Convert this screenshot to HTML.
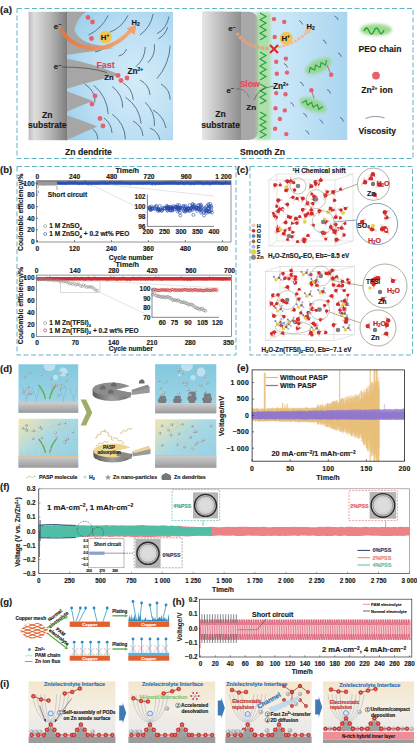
<!DOCTYPE html>
<html><head><meta charset="utf-8"><style>
html,body{margin:0;padding:0;background:#fff;}
svg{display:block;font-family:"Liberation Sans", sans-serif;}
</style></head><body>
<svg width="417" height="743" viewBox="0 0 417 743">

<defs>
<radialGradient id="blueA" cx="0.65" cy="0.55" r="0.75">
 <stop offset="0" stop-color="#d4ecf9"/><stop offset="0.55" stop-color="#bde0f4"/><stop offset="1" stop-color="#9ccfec"/>
</radialGradient>
<linearGradient id="grayA" x1="0" x2="1" y1="0" y2="0">
 <stop offset="0" stop-color="#bcbcbc"/><stop offset="0.15" stop-color="#dedede"/><stop offset="0.6" stop-color="#b2b2b2"/><stop offset="0.9" stop-color="#8c8c8c"/><stop offset="1" stop-color="#7c7c7c"/>
</linearGradient>
<linearGradient id="blueB" x1="0" x2="1" y1="0" y2="0">
 <stop offset="0" stop-color="#d4edfa"/><stop offset="0.45" stop-color="#c4e4f6"/><stop offset="1" stop-color="#aad5ef"/>
</linearGradient>
<linearGradient id="grayB" x1="0" x2="1" y1="0" y2="0">
 <stop offset="0" stop-color="#e6e6e6"/><stop offset="1" stop-color="#8e8e8e"/>
</linearGradient>
<clipPath id="clipA"><rect x="66" y="11.8" width="107" height="128.4"/></clipPath>
<linearGradient id="orgA" x1="0" x2="1" y1="0" y2="0"><stop offset="0" stop-color="#e07840"/><stop offset="1" stop-color="#f4a878"/></linearGradient>
<linearGradient id="dblue" x1="0" x2="0" y1="0" y2="1"><stop offset="0" stop-color="#82c8de"/><stop offset="1" stop-color="#a2d8e8"/></linearGradient>
<linearGradient id="dyel" x1="0" x2="1" y1="0" y2="1"><stop offset="0" stop-color="#f2e6b0"/><stop offset="0.45" stop-color="#a8d8e4"/><stop offset="1" stop-color="#90cfe2"/></linearGradient>
<linearGradient id="dgray" x1="0" x2="0" y1="0" y2="1"><stop offset="0" stop-color="#cfcfcf"/><stop offset="1" stop-color="#9a9a9a"/></linearGradient>
<linearGradient id="dside" x1="0" x2="1" y1="0" y2="0"><stop offset="0" stop-color="#5a5a5a"/><stop offset="0.5" stop-color="#a0a0a0"/><stop offset="1" stop-color="#6a6a6a"/></linearGradient>
<clipPath id="clipMesh"><path d="M19.8 631 L26 624 L40 623 L48 629.5 L42 638 L27 638.5 Z"/></clipPath>
<linearGradient id="ibg" x1="0" x2="0" y1="0" y2="1"><stop offset="0" stop-color="#f3e6cc"/><stop offset="0.45" stop-color="#f4eee4"/><stop offset="1" stop-color="#e4e7ec"/></linearGradient>
<filter id="blur1" x="-50%" y="-50%" width="200%" height="200%"><feGaussianBlur stdDeviation="1.5"/></filter>
</defs>

<rect width="417" height="743" fill="#fff"/>
<g id="pa">
<text x="0" y="12.6" font-size="9.8" text-anchor="start" font-weight="bold" fill="#1a1a1a" stroke="#1a1a1a" stroke-width="0.15" >(a)</text>
<rect x="17" y="8.5" width="396" height="150" fill="none" stroke="#62b3c6" stroke-width="1" stroke-dasharray="5 2.5"/>
<rect x="66" y="11.8" width="107" height="128.4" fill="url(#blueA)"/>
<path d="M66 11.8 L86 11.8 Q77 18 74.3 30 Q78 40 92 44 Q104 46.5 114 48 Q96 51 80 53 L66 55 Z" fill="#a6a6a6"/>
<path d="M66 58.5 Q92 63 121 75 Q95 80 66 89 Z" fill="#a6a6a6"/>
<path d="M66 91 Q80 96 93 101 Q82 105 66 112 Z" fill="#a6a6a6"/>
<path d="M66 115 Q84 121 97 126.5 Q85 132 66 140.2 Z" fill="#a6a6a6"/>
<rect x="28.6" y="11.8" width="38.4" height="128.4" fill="url(#grayA)"/>
<g clip-path="url(#clipA)">
<path d="M88.4 35.1 Q101.8 28.7 108.2 15.3" stroke="#3e5070" stroke-width="0.75" fill="none"/>
<path d="M109.5 32.4 Q122.1 27.5 128 15.3" stroke="#3e5070" stroke-width="0.75" fill="none"/>
<path d="M139.9 35.1 Q150.7 27.2 153.1 14" stroke="#3e5070" stroke-width="0.75" fill="none"/>
<path d="M157 33.7 Q167.1 28.0 168.9 16.6" stroke="#3e5070" stroke-width="0.75" fill="none"/>
<path d="M118.5 56 Q124.5 54.8 126.5 49" stroke="#3e5070" stroke-width="0.75" fill="none"/>
<path d="M135.9 66.7 Q145.1 58.9 145.2 46.9" stroke="#3e5070" stroke-width="0.75" fill="none"/>
<path d="M147.8 62.8 Q155.8 55.2 154.4 44.3" stroke="#3e5070" stroke-width="0.75" fill="none"/>
<path d="M157 78.6 Q169.2 64.3 170.2 45.6" stroke="#3e5070" stroke-width="0.75" fill="none"/>
<path d="M158.3 39 Q165.3 35.0 167.6 27.2" stroke="#3e5070" stroke-width="0.75" fill="none"/>
<path d="M95 52 Q102.1 51.0 106 45" stroke="#3e5070" stroke-width="0.75" fill="none"/>
<path d="M84.5 83.9 Q95.0 90.1 95 102.3" stroke="#3e5070" stroke-width="0.75" fill="none"/>
<path d="M93.7 85.2 Q107.2 96.6 108.2 114.2" stroke="#3e5070" stroke-width="0.75" fill="none"/>
<path d="M112.2 86.5 Q122.8 94.4 122.7 107.6" stroke="#3e5070" stroke-width="0.75" fill="none"/>
<path d="M122.7 82.6 Q132.2 88.5 133.3 99.7" stroke="#3e5070" stroke-width="0.75" fill="none"/>
<path d="M125.4 97.1 Q139.3 106.7 141.2 123.5" stroke="#3e5070" stroke-width="0.75" fill="none"/>
<path d="M112.2 114.2 Q125.0 123.5 125.4 139.3" stroke="#3e5070" stroke-width="0.75" fill="none"/>
<path d="M145.2 102.3 Q155.4 112.0 154.4 126.1" stroke="#3e5070" stroke-width="0.75" fill="none"/>
<path d="M153 110 Q163.6 116.1 166 128" stroke="#3e5070" stroke-width="0.75" fill="none"/>
<path d="M92.4 128.7 Q97.7 132.7 97.7 139.3" stroke="#3e5070" stroke-width="0.75" fill="none"/>
<path d="M133 121 Q142.2 125.7 143 136" stroke="#3e5070" stroke-width="0.75" fill="none"/>
<path d="M150 128 Q158.1 131.4 160 140" stroke="#3e5070" stroke-width="0.75" fill="none"/>
<path d="M161 83.9 Q169.9 89.3 170.2 99.7" stroke="#3e5070" stroke-width="0.75" fill="none"/>
<path d="M104 118 Q111.5 123.6 112 133" stroke="#3e5070" stroke-width="0.75" fill="none"/>
<path d="M140 80 Q149.2 84.7 150 95" stroke="#3e5070" stroke-width="0.75" fill="none"/>
</g>
<path d="M61.5 29 Q68 45 92 48.5 Q115 49 131 30" stroke="url(#orgA)" stroke-width="3.8" fill="none"/>
<path d="M126.5 28.5 L136.5 24.5 L134.5 35 Z" fill="#f0a070"/>
<circle cx="105.6" cy="37" r="6.3" fill="#f3c452"/>
<text x="100.8" y="39.8" font-size="7.8" text-anchor="start" font-weight="bold" fill="#1a1a1a" stroke="#1a1a1a" stroke-width="0.15" >H<tspan dy="-2.6" font-size="4.8">+</tspan><tspan dy="2.6"> </tspan></text>
<text x="131.4" y="24.6" font-size="7.6" text-anchor="start" font-weight="bold" fill="#1a1a1a" stroke="#1a1a1a" stroke-width="0.15" >H<tspan dy="1.6" font-size="5">2</tspan></text>
<text x="53.8" y="29" font-size="7.8" text-anchor="start" font-weight="bold" fill="#1a1a1a" stroke="#1a1a1a" stroke-width="0.15" >e<tspan dy="-2.6" font-size="5.2">−</tspan><tspan dy="2.6"> </tspan></text>
<text x="53.8" y="69.2" font-size="7.8" text-anchor="start" font-weight="bold" fill="#1a1a1a" stroke="#1a1a1a" stroke-width="0.15" >e<tspan dy="-2.6" font-size="5.2">−</tspan><tspan dy="2.6"> </tspan></text>
<path d="M62 67 Q90 67 107 72.5" stroke="#333" stroke-width="0.6" fill="none"/>
<text x="96.4" y="67.9" font-size="8.9" text-anchor="start" font-weight="bold" fill="#e2405e" stroke="#e2405e" stroke-width="0.15" >Fast</text>
<text x="104.3" y="79.7" font-size="7.6" text-anchor="start" font-weight="bold" fill="#1a1a1a" stroke="#1a1a1a" stroke-width="0.15" >Zn</text>
<text x="127.4" y="73.8" font-size="8.2" text-anchor="start" font-weight="bold" fill="#1a1a1a" stroke="#1a1a1a" stroke-width="0.15" >Zn<tspan dy="-2.8" font-size="5">2+</tspan><tspan dy="2.8"> </tspan></text>
<circle cx="88" cy="17.5" r="2.4" fill="#e8606a"/>
<circle cx="92.5" cy="22" r="2.4" fill="#e8606a"/>
<circle cx="91.5" cy="38.5" r="2.4" fill="#e8606a"/>
<circle cx="118" cy="75.5" r="2.4" fill="#e8606a"/>
<circle cx="121" cy="80.5" r="2.4" fill="#e8606a"/>
<circle cx="127" cy="78" r="2.4" fill="#e8606a"/>
<circle cx="95" cy="96" r="2.4" fill="#e8606a"/>
<circle cx="92" cy="104" r="2.4" fill="#e8606a"/>
<circle cx="100" cy="118.5" r="2.4" fill="#e8606a"/>
<circle cx="103" cy="126" r="2.4" fill="#e8606a"/>
<text x="47.3" y="117.8" font-size="8.6" text-anchor="middle" font-weight="bold" fill="#1a1a1a" stroke="#1a1a1a" stroke-width="0.15" >Zn</text>
<text x="47.3" y="128.4" font-size="8.6" text-anchor="middle" font-weight="bold" fill="#1a1a1a" stroke="#1a1a1a" stroke-width="0.15" >substrate</text>
<text x="88.5" y="154.7" font-size="8.6" text-anchor="middle" font-weight="bold" fill="#1a1a1a" stroke="#1a1a1a" stroke-width="0.15" >Zn dendrite</text>
<rect x="252" y="11.8" width="95.3" height="128.2" fill="url(#blueB)"/>
<path d="M202 11.8 L250 11.8 Q258.5 13 258.5 25 L258.5 128 Q258.5 140 248 140 L202 140 Z" fill="#a8a8a8"/>
<rect x="202" y="11.8" width="39" height="128.2" fill="url(#grayB)"/>
<rect x="256.5" y="12.5" width="14" height="127" fill="#a6dc96" opacity="0.8" filter="url(#blur1)"/>
<path d="M260 13 L266 16.4 L260 19.8 L266 23.1 L260 26.5 L266 29.9 L260 33.2 L266 36.6 L260 40.0" stroke="#22a040" stroke-width="1.1" fill="none"/>
<path d="M260 52 L266 55.5 L260 59.0 L266 62.5 L260 66.0 L266 69.5 L260 73.0 L266 76.5 L260 80.0" stroke="#22a040" stroke-width="1.1" fill="none"/>
<path d="M260 84 L266 87.3 L260 90.7 L266 94.0 L260 97.3 L266 100.7 L260 104.0" stroke="#22a040" stroke-width="1.1" fill="none"/>
<path d="M260 112 L266 115.2 L260 118.5 L266 121.8 L260 125.0 L266 128.2 L260 131.5 L266 134.8 L260 138.0" stroke="#22a040" stroke-width="1.1" fill="none"/>
<circle cx="274" cy="19.1" r="2.2" fill="#e8606a"/>
<circle cx="284.2" cy="21.9" r="2.2" fill="#e8606a"/>
<circle cx="274.7" cy="37" r="2.2" fill="#e8606a"/>
<circle cx="276.2" cy="61.8" r="2.2" fill="#e8606a"/>
<circle cx="285.9" cy="58.6" r="2.2" fill="#e8606a"/>
<circle cx="276.8" cy="73.7" r="2.2" fill="#e8606a"/>
<circle cx="287" cy="72.6" r="2.2" fill="#e8606a"/>
<circle cx="276.2" cy="93.1" r="2.2" fill="#e8606a"/>
<circle cx="285.5" cy="94.2" r="2.2" fill="#e8606a"/>
<circle cx="275.5" cy="108.2" r="2.2" fill="#e8606a"/>
<circle cx="284.8" cy="110.4" r="2.2" fill="#e8606a"/>
<circle cx="279.9" cy="119" r="2.2" fill="#e8606a"/>
<circle cx="275.1" cy="128.7" r="2.2" fill="#e8606a"/>
<circle cx="286.3" cy="134.1" r="2.2" fill="#e8606a"/>
<path d="M299 20.5 q2.5 0.5 3.5 4" stroke="#3e5070" stroke-width="0.75" fill="none"/>
<path d="M334.6 16.1 q2.5 0.5 3.5 4" stroke="#3e5070" stroke-width="0.75" fill="none"/>
<path d="M322.8 39.9 q2.5 0.5 3.5 4" stroke="#3e5070" stroke-width="0.75" fill="none"/>
<path d="M337.9 52.8 q2.5 0.5 3.5 4" stroke="#3e5070" stroke-width="0.75" fill="none"/>
<path d="M283.9 63.5 q2.5 0.5 3.5 4" stroke="#3e5070" stroke-width="0.75" fill="none"/>
<path d="M300 82.0 q2.5 0.5 3.5 4" stroke="#3e5070" stroke-width="0.75" fill="none"/>
<path d="M327 89.5 q2.5 0.5 3.5 4" stroke="#3e5070" stroke-width="0.75" fill="none"/>
<path d="M290.4 102.5 q2.5 0.5 3.5 4" stroke="#3e5070" stroke-width="0.75" fill="none"/>
<path d="M303.3 113.3 q2.5 0.5 3.5 4" stroke="#3e5070" stroke-width="0.75" fill="none"/>
<path d="M319.5 119.7 q2.5 0.5 3.5 4" stroke="#3e5070" stroke-width="0.75" fill="none"/>
<path d="M340 117.5 q2.5 0.5 3.5 4" stroke="#3e5070" stroke-width="0.75" fill="none"/>
<path d="M305.5 130.5 q2.5 0.5 3.5 4" stroke="#3e5070" stroke-width="0.75" fill="none"/>
<g transform="translate(318.3 66.1) rotate(-25)"><ellipse cx="0" cy="0" rx="14" ry="6.5" fill="#8fd47e" opacity="0.8" filter="url(#blur1)"/><path d="M-11 2 l3 -4 l3 4 l3 -4 l3 4 l3 -4 l3 4 l3 -4" stroke="#22a040" stroke-width="1.1" fill="none"/></g>
<g transform="translate(312.9 105) rotate(20)"><ellipse cx="0" cy="0" rx="14" ry="6.5" fill="#8fd47e" opacity="0.8" filter="url(#blur1)"/><path d="M-11 2 l3 -4 l3 4 l3 -4 l3 4 l3 -4 l3 4 l3 -4" stroke="#22a040" stroke-width="1.1" fill="none"/></g>
<path d="M327 65 L331.2 74.8 M314 98 L311.4 90.3" stroke="#d03040" stroke-width="0.7"/>
<circle cx="331.2" cy="74.8" r="2.2" fill="#e8606a"/><circle cx="311.4" cy="90.3" r="2.2" fill="#e8606a"/>
<path d="M237 33 Q246 48 270 48.5" stroke="#f0a070" stroke-width="3" fill="none" stroke-dasharray="3 1.2"/>
<path d="M278 47 Q296 44 308 31" stroke="#f5b898" stroke-width="2.6" fill="none" stroke-dasharray="3 1.2"/>
<path d="M304 31 L311 26 L310 34 Z" fill="#f5b898"/>
<path d="M270 45 l8 8 M278 45 l-8 8" stroke="#e02a2a" stroke-width="2.2"/>
<circle cx="286.2" cy="38.2" r="6.4" fill="#f3c452"/>
<text x="281.4" y="41" font-size="7.8" text-anchor="start" font-weight="bold" fill="#1a1a1a" stroke="#1a1a1a" stroke-width="0.15" >H<tspan dy="-2.6" font-size="4.8">+</tspan><tspan dy="2.6"> </tspan></text>
<text x="306.4" y="28.6" font-size="7.6" text-anchor="start" font-weight="bold" fill="#1a1a1a" stroke="#1a1a1a" stroke-width="0.15" >H<tspan dy="1.6" font-size="5">2</tspan></text>
<text x="228.2" y="31.2" font-size="7.8" text-anchor="start" font-weight="bold" fill="#1a1a1a" stroke="#1a1a1a" stroke-width="0.15" >e<tspan dy="-2.6" font-size="5.2">−</tspan><tspan dy="2.6"> </tspan></text>
<text x="226.5" y="93" font-size="7.8" text-anchor="start" font-weight="bold" fill="#1a1a1a" stroke="#1a1a1a" stroke-width="0.15" >e<tspan dy="-2.6" font-size="5.2">−</tspan><tspan dy="2.6"> </tspan></text>
<path d="M236 89 Q246 88 249 98" stroke="#333" stroke-width="0.5" fill="none" stroke-dasharray="1 0.6"/>
<path d="M274 86 Q258 88 254 100" stroke="#333" stroke-width="0.5" fill="none"/>
<text x="239.4" y="87" font-size="8.8" text-anchor="start" font-weight="bold" fill="#e8485e" stroke="#e8485e" stroke-width="0.15" >Slow</text>
<text x="273" y="88.7" font-size="8.2" text-anchor="start" font-weight="bold" fill="#1a1a1a" stroke="#1a1a1a" stroke-width="0.15" >Zn<tspan dy="-2.8" font-size="5">2+</tspan><tspan dy="2.8"> </tspan></text>
<text x="246.3" y="109.8" font-size="8" text-anchor="start" font-weight="bold" fill="#1a1a1a" stroke="#1a1a1a" stroke-width="0.15" >Zn</text>
<text x="220.6" y="117.4" font-size="8.6" text-anchor="middle" font-weight="bold" fill="#1a1a1a" stroke="#1a1a1a" stroke-width="0.15" >Zn</text>
<text x="220.6" y="128.2" font-size="8.6" text-anchor="middle" font-weight="bold" fill="#1a1a1a" stroke="#1a1a1a" stroke-width="0.15" >substrate</text>
<text x="262.5" y="154.7" font-size="8.6" text-anchor="middle" font-weight="bold" fill="#1a1a1a" stroke="#1a1a1a" stroke-width="0.15" >Smooth Zn</text>
<ellipse cx="376" cy="29.8" rx="16" ry="6" fill="#8fd47e" opacity="0.85" filter="url(#blur1)"/>
<path d="M364 31 q2.5 -6 5 0 t5 0 t5 0 t5 -1" stroke="#22a040" stroke-width="1.3" fill="none"/>
<text x="379.9" y="52.2" font-size="8.6" text-anchor="middle" font-weight="bold" fill="#1a1a1a" stroke="#1a1a1a" stroke-width="0.15" >PEO chain</text>
<circle cx="376" cy="75.6" r="3.9" fill="#e8606a"/>
<text x="377" y="93" font-size="8.6" text-anchor="middle" font-weight="bold" fill="#1a1a1a" stroke="#1a1a1a" stroke-width="0.15" >Zn<tspan dy="-2.8" font-size="5">2+</tspan><tspan dy="2.8"> </tspan>ion</text>
<path d="M365.5 118.5 Q375 114.5 384.6 118" stroke="#5a6a85" stroke-width="0.7" fill="none"/>
<text x="377.3" y="133.6" font-size="8.6" text-anchor="middle" font-weight="bold" fill="#1a1a1a" stroke="#1a1a1a" stroke-width="0.15" >Viscosity</text>
</g>
<g id="pb">
<text x="0" y="172.5" font-size="9.5" text-anchor="start" font-weight="bold" fill="#1a1a1a" stroke="#1a1a1a" stroke-width="0.15" >(b)</text>
<rect x="17" y="166.5" width="219" height="188.5" fill="none" stroke="#62b3c6" stroke-width="1" stroke-dasharray="5 2.5"/>
<rect x="37" y="181.2" width="194" height="3.6" fill="#2f55b8"/>
<circle cx="37.0" cy="182.9" r="1.1" fill="none" stroke="#2346a8" stroke-width="0.5"/>
<circle cx="40.2" cy="183.1" r="1.1" fill="none" stroke="#2346a8" stroke-width="0.5"/>
<circle cx="43.4" cy="184.0" r="1.1" fill="none" stroke="#2346a8" stroke-width="0.5"/>
<circle cx="46.6" cy="182.9" r="1.1" fill="none" stroke="#2346a8" stroke-width="0.5"/>
<circle cx="49.8" cy="183.0" r="1.1" fill="none" stroke="#2346a8" stroke-width="0.5"/>
<circle cx="53.0" cy="183.2" r="1.1" fill="none" stroke="#2346a8" stroke-width="0.5"/>
<circle cx="56.2" cy="182.2" r="1.1" fill="none" stroke="#2346a8" stroke-width="0.5"/>
<circle cx="59.4" cy="183.0" r="1.1" fill="none" stroke="#2346a8" stroke-width="0.5"/>
<circle cx="62.6" cy="183.3" r="1.1" fill="none" stroke="#2346a8" stroke-width="0.5"/>
<circle cx="65.8" cy="183.7" r="1.1" fill="none" stroke="#2346a8" stroke-width="0.5"/>
<circle cx="69.0" cy="182.0" r="1.1" fill="none" stroke="#2346a8" stroke-width="0.5"/>
<circle cx="72.2" cy="182.5" r="1.1" fill="none" stroke="#2346a8" stroke-width="0.5"/>
<circle cx="75.4" cy="182.0" r="1.1" fill="none" stroke="#2346a8" stroke-width="0.5"/>
<circle cx="78.6" cy="183.7" r="1.1" fill="none" stroke="#2346a8" stroke-width="0.5"/>
<circle cx="81.8" cy="183.5" r="1.1" fill="none" stroke="#2346a8" stroke-width="0.5"/>
<circle cx="85.0" cy="181.9" r="1.1" fill="none" stroke="#2346a8" stroke-width="0.5"/>
<circle cx="88.2" cy="184.2" r="1.1" fill="none" stroke="#2346a8" stroke-width="0.5"/>
<circle cx="91.4" cy="184.1" r="1.1" fill="none" stroke="#2346a8" stroke-width="0.5"/>
<circle cx="94.6" cy="183.4" r="1.1" fill="none" stroke="#2346a8" stroke-width="0.5"/>
<circle cx="97.8" cy="183.3" r="1.1" fill="none" stroke="#2346a8" stroke-width="0.5"/>
<circle cx="101.0" cy="182.2" r="1.1" fill="none" stroke="#2346a8" stroke-width="0.5"/>
<circle cx="104.2" cy="181.8" r="1.1" fill="none" stroke="#2346a8" stroke-width="0.5"/>
<circle cx="107.4" cy="183.1" r="1.1" fill="none" stroke="#2346a8" stroke-width="0.5"/>
<circle cx="110.6" cy="181.9" r="1.1" fill="none" stroke="#2346a8" stroke-width="0.5"/>
<circle cx="113.8" cy="182.3" r="1.1" fill="none" stroke="#2346a8" stroke-width="0.5"/>
<circle cx="117.0" cy="182.4" r="1.1" fill="none" stroke="#2346a8" stroke-width="0.5"/>
<circle cx="120.2" cy="181.9" r="1.1" fill="none" stroke="#2346a8" stroke-width="0.5"/>
<circle cx="123.4" cy="182.9" r="1.1" fill="none" stroke="#2346a8" stroke-width="0.5"/>
<circle cx="126.6" cy="182.9" r="1.1" fill="none" stroke="#2346a8" stroke-width="0.5"/>
<circle cx="129.8" cy="183.8" r="1.1" fill="none" stroke="#2346a8" stroke-width="0.5"/>
<circle cx="133.0" cy="183.0" r="1.1" fill="none" stroke="#2346a8" stroke-width="0.5"/>
<circle cx="136.2" cy="183.3" r="1.1" fill="none" stroke="#2346a8" stroke-width="0.5"/>
<circle cx="139.4" cy="183.0" r="1.1" fill="none" stroke="#2346a8" stroke-width="0.5"/>
<circle cx="142.6" cy="183.4" r="1.1" fill="none" stroke="#2346a8" stroke-width="0.5"/>
<circle cx="145.8" cy="182.9" r="1.1" fill="none" stroke="#2346a8" stroke-width="0.5"/>
<circle cx="149.0" cy="182.5" r="1.1" fill="none" stroke="#2346a8" stroke-width="0.5"/>
<circle cx="152.2" cy="184.2" r="1.1" fill="none" stroke="#2346a8" stroke-width="0.5"/>
<circle cx="155.4" cy="184.2" r="1.1" fill="none" stroke="#2346a8" stroke-width="0.5"/>
<circle cx="158.6" cy="183.8" r="1.1" fill="none" stroke="#2346a8" stroke-width="0.5"/>
<circle cx="161.8" cy="183.5" r="1.1" fill="none" stroke="#2346a8" stroke-width="0.5"/>
<circle cx="165.0" cy="182.6" r="1.1" fill="none" stroke="#2346a8" stroke-width="0.5"/>
<circle cx="168.2" cy="182.4" r="1.1" fill="none" stroke="#2346a8" stroke-width="0.5"/>
<circle cx="171.4" cy="182.5" r="1.1" fill="none" stroke="#2346a8" stroke-width="0.5"/>
<circle cx="174.6" cy="182.0" r="1.1" fill="none" stroke="#2346a8" stroke-width="0.5"/>
<circle cx="177.8" cy="183.6" r="1.1" fill="none" stroke="#2346a8" stroke-width="0.5"/>
<circle cx="181.0" cy="182.8" r="1.1" fill="none" stroke="#2346a8" stroke-width="0.5"/>
<circle cx="184.2" cy="183.8" r="1.1" fill="none" stroke="#2346a8" stroke-width="0.5"/>
<circle cx="187.4" cy="182.7" r="1.1" fill="none" stroke="#2346a8" stroke-width="0.5"/>
<circle cx="190.6" cy="184.1" r="1.1" fill="none" stroke="#2346a8" stroke-width="0.5"/>
<circle cx="193.8" cy="183.8" r="1.1" fill="none" stroke="#2346a8" stroke-width="0.5"/>
<circle cx="197.0" cy="181.8" r="1.1" fill="none" stroke="#2346a8" stroke-width="0.5"/>
<circle cx="200.2" cy="182.3" r="1.1" fill="none" stroke="#2346a8" stroke-width="0.5"/>
<circle cx="203.4" cy="184.0" r="1.1" fill="none" stroke="#2346a8" stroke-width="0.5"/>
<circle cx="206.6" cy="182.9" r="1.1" fill="none" stroke="#2346a8" stroke-width="0.5"/>
<circle cx="209.8" cy="184.2" r="1.1" fill="none" stroke="#2346a8" stroke-width="0.5"/>
<circle cx="213.0" cy="182.8" r="1.1" fill="none" stroke="#2346a8" stroke-width="0.5"/>
<circle cx="216.2" cy="182.0" r="1.1" fill="none" stroke="#2346a8" stroke-width="0.5"/>
<circle cx="219.4" cy="183.3" r="1.1" fill="none" stroke="#2346a8" stroke-width="0.5"/>
<circle cx="222.6" cy="183.7" r="1.1" fill="none" stroke="#2346a8" stroke-width="0.5"/>
<circle cx="225.8" cy="182.4" r="1.1" fill="none" stroke="#2346a8" stroke-width="0.5"/>
<rect x="37" y="181.5" width="20" height="4" fill="#9a9a9a"/>
<circle cx="37.5" cy="192" r="1.2" fill="none" stroke="#3a5ab8" stroke-width="0.5"/>
<circle cx="37.5" cy="187" r="1.1" fill="none" stroke="#888" stroke-width="0.5"/>
<path d="M92 185 L147 212 M111 185 L214 196" stroke="#c8c8c8" stroke-width="0.5" fill="none"/>
<rect x="36.5" y="180.7" width="194.5" height="61.30000000000001" fill="none" stroke="#666" stroke-width="0.7"/>
<text x="34.6" y="185.90000000000003" font-size="6.6" text-anchor="end" font-weight="bold" fill="#1a1a1a" stroke="#1a1a1a" stroke-width="0.15" >100</text>
<line x1="36" y1="183.6" x2="38" y2="183.6" stroke="#333" stroke-width="0.6"/>
<text x="34.6" y="197.46000000000004" font-size="6.6" text-anchor="end" font-weight="bold" fill="#1a1a1a" stroke="#1a1a1a" stroke-width="0.15" >80</text>
<line x1="36" y1="195.2" x2="38" y2="195.2" stroke="#333" stroke-width="0.6"/>
<text x="34.6" y="209.02" font-size="6.6" text-anchor="end" font-weight="bold" fill="#1a1a1a" stroke="#1a1a1a" stroke-width="0.15" >60</text>
<line x1="36" y1="206.7" x2="38" y2="206.7" stroke="#333" stroke-width="0.6"/>
<text x="34.6" y="220.58" font-size="6.6" text-anchor="end" font-weight="bold" fill="#1a1a1a" stroke="#1a1a1a" stroke-width="0.15" >40</text>
<line x1="36" y1="218.3" x2="38" y2="218.3" stroke="#333" stroke-width="0.6"/>
<text x="34.6" y="232.14000000000001" font-size="6.6" text-anchor="end" font-weight="bold" fill="#1a1a1a" stroke="#1a1a1a" stroke-width="0.15" >20</text>
<line x1="36" y1="229.8" x2="38" y2="229.8" stroke="#333" stroke-width="0.6"/>
<text x="34.6" y="243.70000000000002" font-size="6.6" text-anchor="end" font-weight="bold" fill="#1a1a1a" stroke="#1a1a1a" stroke-width="0.15" >0</text>
<line x1="36" y1="241.4" x2="38" y2="241.4" stroke="#333" stroke-width="0.6"/>
<text x="37.4" y="179.4" font-size="6.6" text-anchor="middle" font-weight="bold" fill="#1a1a1a" stroke="#1a1a1a" stroke-width="0.15" >0</text>
<text x="74.6" y="179.4" font-size="6.6" text-anchor="middle" font-weight="bold" fill="#1a1a1a" stroke="#1a1a1a" stroke-width="0.15" >240</text>
<text x="111.80000000000001" y="179.4" font-size="6.6" text-anchor="middle" font-weight="bold" fill="#1a1a1a" stroke="#1a1a1a" stroke-width="0.15" >480</text>
<text x="149.0" y="179.4" font-size="6.6" text-anchor="middle" font-weight="bold" fill="#1a1a1a" stroke="#1a1a1a" stroke-width="0.15" >720</text>
<text x="186.20000000000002" y="179.4" font-size="6.6" text-anchor="middle" font-weight="bold" fill="#1a1a1a" stroke="#1a1a1a" stroke-width="0.15" >960</text>
<text x="223.4" y="179.4" font-size="6.6" text-anchor="middle" font-weight="bold" fill="#1a1a1a" stroke="#1a1a1a" stroke-width="0.15" >1 200</text>
<text x="37.4" y="251.2" font-size="6.6" text-anchor="middle" font-weight="bold" fill="#1a1a1a" stroke="#1a1a1a" stroke-width="0.15" >0</text>
<line x1="37.4" y1="242" x2="37.4" y2="240" stroke="#333" stroke-width="0.6"/>
<text x="74.4" y="251.2" font-size="6.6" text-anchor="middle" font-weight="bold" fill="#1a1a1a" stroke="#1a1a1a" stroke-width="0.15" >120</text>
<line x1="74.4" y1="242" x2="74.4" y2="240" stroke="#333" stroke-width="0.6"/>
<text x="111.4" y="251.2" font-size="6.6" text-anchor="middle" font-weight="bold" fill="#1a1a1a" stroke="#1a1a1a" stroke-width="0.15" >240</text>
<line x1="111.4" y1="242" x2="111.4" y2="240" stroke="#333" stroke-width="0.6"/>
<text x="148.4" y="251.2" font-size="6.6" text-anchor="middle" font-weight="bold" fill="#1a1a1a" stroke="#1a1a1a" stroke-width="0.15" >360</text>
<line x1="148.4" y1="242" x2="148.4" y2="240" stroke="#333" stroke-width="0.6"/>
<text x="185.4" y="251.2" font-size="6.6" text-anchor="middle" font-weight="bold" fill="#1a1a1a" stroke="#1a1a1a" stroke-width="0.15" >480</text>
<line x1="185.4" y1="242" x2="185.4" y2="240" stroke="#333" stroke-width="0.6"/>
<text x="222.4" y="251.2" font-size="6.6" text-anchor="middle" font-weight="bold" fill="#1a1a1a" stroke="#1a1a1a" stroke-width="0.15" >600</text>
<line x1="222.4" y1="242" x2="222.4" y2="240" stroke="#333" stroke-width="0.6"/>
<text x="127.3" y="173.4" font-size="7.4" text-anchor="middle" font-weight="bold" fill="#1a1a1a" stroke="#1a1a1a" stroke-width="0.15" >Time/h</text>
<text x="130.8" y="259.8" font-size="6.7" text-anchor="middle" font-weight="bold" fill="#1a1a1a" stroke="#1a1a1a" stroke-width="0.15" >Cycle number</text>
<text x="47.8" y="197" font-size="6.7" text-anchor="start" font-weight="bold" fill="#1a1a1a" stroke="#1a1a1a" stroke-width="0.15" >Short circuit</text>
<path d="M57 186 L57 190" stroke="#555" stroke-width="0.5"/>
<circle cx="45.2" cy="226.1" r="1.5" fill="none" stroke="#888" stroke-width="0.6"/>
<text x="49.2" y="228.4" font-size="6.6" text-anchor="start" font-weight="bold" fill="#1a1a1a" stroke="#1a1a1a" stroke-width="0.15" >1 M ZnSO<tspan dy="1.3" font-size="4.2">4</tspan></text>
<circle cx="45.2" cy="234" r="1.5" fill="none" stroke="#2346a8" stroke-width="0.6"/>
<text x="49.2" y="236.3" font-size="6.6" text-anchor="start" font-weight="bold" fill="#1a1a1a" stroke="#1a1a1a" stroke-width="0.15" >1 M ZnSO<tspan dy="1.3" font-size="4.2">4</tspan><tspan dy="-1.3"> + 0.2 wt% PEO</tspan></text>
<circle cx="188.2" cy="208.3" r="1.5" fill="none" stroke="#2346a8" stroke-width="0.55"/>
<circle cx="208.4" cy="204.1" r="1.5" fill="none" stroke="#2346a8" stroke-width="0.55"/>
<circle cx="195.6" cy="209.0" r="1.5" fill="none" stroke="#2346a8" stroke-width="0.55"/>
<circle cx="178.3" cy="208.3" r="1.5" fill="none" stroke="#2346a8" stroke-width="0.55"/>
<circle cx="208.4" cy="205.3" r="1.5" fill="none" stroke="#2346a8" stroke-width="0.55"/>
<circle cx="156.1" cy="205.7" r="1.5" fill="none" stroke="#2346a8" stroke-width="0.55"/>
<circle cx="178.6" cy="208.5" r="1.5" fill="none" stroke="#2346a8" stroke-width="0.55"/>
<circle cx="185.2" cy="211.6" r="1.5" fill="none" stroke="#2346a8" stroke-width="0.55"/>
<circle cx="149.8" cy="208.8" r="1.5" fill="none" stroke="#2346a8" stroke-width="0.55"/>
<circle cx="206.7" cy="210.5" r="1.5" fill="none" stroke="#2346a8" stroke-width="0.55"/>
<circle cx="197.2" cy="210.9" r="1.5" fill="none" stroke="#2346a8" stroke-width="0.55"/>
<circle cx="157.7" cy="210.9" r="1.5" fill="none" stroke="#2346a8" stroke-width="0.55"/>
<circle cx="187.9" cy="208.6" r="1.5" fill="none" stroke="#2346a8" stroke-width="0.55"/>
<circle cx="203.9" cy="208.6" r="1.5" fill="none" stroke="#2346a8" stroke-width="0.55"/>
<circle cx="162.2" cy="209.5" r="1.5" fill="none" stroke="#2346a8" stroke-width="0.55"/>
<circle cx="204.0" cy="215.4" r="1.5" fill="none" stroke="#2346a8" stroke-width="0.55"/>
<circle cx="167.2" cy="210.4" r="1.5" fill="none" stroke="#2346a8" stroke-width="0.55"/>
<circle cx="191.7" cy="207.8" r="1.5" fill="none" stroke="#2346a8" stroke-width="0.55"/>
<circle cx="161.9" cy="210.8" r="1.5" fill="none" stroke="#2346a8" stroke-width="0.55"/>
<circle cx="209.9" cy="207.1" r="1.5" fill="none" stroke="#2346a8" stroke-width="0.55"/>
<circle cx="205.3" cy="207.8" r="1.5" fill="none" stroke="#2346a8" stroke-width="0.55"/>
<circle cx="159.5" cy="209.9" r="1.5" fill="none" stroke="#2346a8" stroke-width="0.55"/>
<circle cx="158.2" cy="209.7" r="1.5" fill="none" stroke="#2346a8" stroke-width="0.55"/>
<circle cx="187.0" cy="209.3" r="1.5" fill="none" stroke="#2346a8" stroke-width="0.55"/>
<circle cx="149.2" cy="207.9" r="1.5" fill="none" stroke="#2346a8" stroke-width="0.55"/>
<circle cx="168.5" cy="207.2" r="1.5" fill="none" stroke="#2346a8" stroke-width="0.55"/>
<circle cx="200.6" cy="206.3" r="1.5" fill="none" stroke="#2346a8" stroke-width="0.55"/>
<circle cx="179.3" cy="208.7" r="1.5" fill="none" stroke="#2346a8" stroke-width="0.55"/>
<circle cx="193.4" cy="214.9" r="1.5" fill="none" stroke="#2346a8" stroke-width="0.55"/>
<circle cx="150.4" cy="210.0" r="1.5" fill="none" stroke="#2346a8" stroke-width="0.55"/>
<circle cx="196.2" cy="208.8" r="1.5" fill="none" stroke="#2346a8" stroke-width="0.55"/>
<circle cx="198.6" cy="208.1" r="1.5" fill="none" stroke="#2346a8" stroke-width="0.55"/>
<circle cx="172.1" cy="208.3" r="1.5" fill="none" stroke="#2346a8" stroke-width="0.55"/>
<circle cx="151.9" cy="208.4" r="1.5" fill="none" stroke="#2346a8" stroke-width="0.55"/>
<circle cx="160.4" cy="209.5" r="1.5" fill="none" stroke="#2346a8" stroke-width="0.55"/>
<circle cx="196.6" cy="208.0" r="1.5" fill="none" stroke="#2346a8" stroke-width="0.55"/>
<circle cx="207.6" cy="210.6" r="1.5" fill="none" stroke="#2346a8" stroke-width="0.55"/>
<circle cx="171.4" cy="208.0" r="1.5" fill="none" stroke="#2346a8" stroke-width="0.55"/>
<circle cx="182.1" cy="208.7" r="1.5" fill="none" stroke="#2346a8" stroke-width="0.55"/>
<circle cx="196.1" cy="207.3" r="1.5" fill="none" stroke="#2346a8" stroke-width="0.55"/>
<circle cx="199.2" cy="208.9" r="1.5" fill="none" stroke="#2346a8" stroke-width="0.55"/>
<circle cx="208.6" cy="208.0" r="1.5" fill="none" stroke="#2346a8" stroke-width="0.55"/>
<circle cx="154.7" cy="207.3" r="1.5" fill="none" stroke="#2346a8" stroke-width="0.55"/>
<circle cx="206.8" cy="211.4" r="1.5" fill="none" stroke="#2346a8" stroke-width="0.55"/>
<circle cx="170.4" cy="210.3" r="1.5" fill="none" stroke="#2346a8" stroke-width="0.55"/>
<circle cx="168.7" cy="207.6" r="1.5" fill="none" stroke="#2346a8" stroke-width="0.55"/>
<circle cx="169.0" cy="208.8" r="1.5" fill="none" stroke="#2346a8" stroke-width="0.55"/>
<circle cx="158.4" cy="209.1" r="1.5" fill="none" stroke="#2346a8" stroke-width="0.55"/>
<circle cx="192.4" cy="210.0" r="1.5" fill="none" stroke="#2346a8" stroke-width="0.55"/>
<circle cx="152.1" cy="208.5" r="1.5" fill="none" stroke="#2346a8" stroke-width="0.55"/>
<circle cx="211.2" cy="206.0" r="1.5" fill="none" stroke="#2346a8" stroke-width="0.55"/>
<circle cx="164.0" cy="208.2" r="1.5" fill="none" stroke="#2346a8" stroke-width="0.55"/>
<circle cx="186.4" cy="209.8" r="1.5" fill="none" stroke="#2346a8" stroke-width="0.55"/>
<circle cx="175.6" cy="206.9" r="1.5" fill="none" stroke="#2346a8" stroke-width="0.55"/>
<circle cx="152.5" cy="208.9" r="1.5" fill="none" stroke="#2346a8" stroke-width="0.55"/>
<circle cx="180.1" cy="208.2" r="1.5" fill="none" stroke="#2346a8" stroke-width="0.55"/>
<circle cx="201.8" cy="211.3" r="1.5" fill="none" stroke="#2346a8" stroke-width="0.55"/>
<circle cx="208.8" cy="211.5" r="1.5" fill="none" stroke="#2346a8" stroke-width="0.55"/>
<circle cx="188.7" cy="208.8" r="1.5" fill="none" stroke="#2346a8" stroke-width="0.55"/>
<circle cx="176.4" cy="207.8" r="1.5" fill="none" stroke="#2346a8" stroke-width="0.55"/>
<circle cx="158.4" cy="209.2" r="1.5" fill="none" stroke="#2346a8" stroke-width="0.55"/>
<circle cx="177.5" cy="207.4" r="1.5" fill="none" stroke="#2346a8" stroke-width="0.55"/>
<circle cx="212.0" cy="212.6" r="1.5" fill="none" stroke="#2346a8" stroke-width="0.55"/>
<circle cx="177.6" cy="205.0" r="1.5" fill="none" stroke="#2346a8" stroke-width="0.55"/>
<circle cx="179.8" cy="208.3" r="1.5" fill="none" stroke="#2346a8" stroke-width="0.55"/>
<circle cx="167.3" cy="206.7" r="1.5" fill="none" stroke="#2346a8" stroke-width="0.55"/>
<circle cx="174.4" cy="209.4" r="1.5" fill="none" stroke="#2346a8" stroke-width="0.55"/>
<circle cx="211.3" cy="210.4" r="1.5" fill="none" stroke="#2346a8" stroke-width="0.55"/>
<circle cx="209.5" cy="206.4" r="1.5" fill="none" stroke="#2346a8" stroke-width="0.55"/>
<circle cx="170.3" cy="207.2" r="1.5" fill="none" stroke="#2346a8" stroke-width="0.55"/>
<circle cx="154.6" cy="208.1" r="1.5" fill="none" stroke="#2346a8" stroke-width="0.55"/>
<circle cx="203.6" cy="212.8" r="1.5" fill="none" stroke="#2346a8" stroke-width="0.55"/>
<circle cx="171.8" cy="209.1" r="1.5" fill="none" stroke="#2346a8" stroke-width="0.55"/>
<circle cx="192.8" cy="204.3" r="1.5" fill="none" stroke="#2346a8" stroke-width="0.55"/>
<circle cx="190.8" cy="208.6" r="1.5" fill="none" stroke="#2346a8" stroke-width="0.55"/>
<circle cx="193.4" cy="206.1" r="1.5" fill="none" stroke="#2346a8" stroke-width="0.55"/>
<circle cx="166.7" cy="205.8" r="1.5" fill="none" stroke="#2346a8" stroke-width="0.55"/>
<circle cx="192.5" cy="208.9" r="1.5" fill="none" stroke="#2346a8" stroke-width="0.55"/>
<circle cx="167.5" cy="210.7" r="1.5" fill="none" stroke="#2346a8" stroke-width="0.55"/>
<circle cx="185.6" cy="207.3" r="1.5" fill="none" stroke="#2346a8" stroke-width="0.55"/>
<circle cx="149.7" cy="207.3" r="1.5" fill="none" stroke="#2346a8" stroke-width="0.55"/>
<circle cx="191.3" cy="207.9" r="1.5" fill="none" stroke="#2346a8" stroke-width="0.55"/>
<circle cx="178.2" cy="209.4" r="1.5" fill="none" stroke="#2346a8" stroke-width="0.55"/>
<circle cx="199.3" cy="205.2" r="1.5" fill="none" stroke="#2346a8" stroke-width="0.55"/>
<circle cx="170.9" cy="206.9" r="1.5" fill="none" stroke="#2346a8" stroke-width="0.55"/>
<circle cx="201.2" cy="205.3" r="1.5" fill="none" stroke="#2346a8" stroke-width="0.55"/>
<circle cx="171.1" cy="210.3" r="1.5" fill="none" stroke="#2346a8" stroke-width="0.55"/>
<circle cx="192.4" cy="204.3" r="1.5" fill="none" stroke="#2346a8" stroke-width="0.55"/>
<circle cx="210.5" cy="211.4" r="1.5" fill="none" stroke="#2346a8" stroke-width="0.55"/>
<circle cx="182.3" cy="207.7" r="1.5" fill="none" stroke="#2346a8" stroke-width="0.55"/>
<circle cx="159.5" cy="210.5" r="1.5" fill="none" stroke="#2346a8" stroke-width="0.55"/>
<circle cx="179.1" cy="205.3" r="1.5" fill="none" stroke="#2346a8" stroke-width="0.55"/>
<circle cx="192.6" cy="207.7" r="1.5" fill="none" stroke="#2346a8" stroke-width="0.55"/>
<circle cx="159.8" cy="206.0" r="1.5" fill="none" stroke="#2346a8" stroke-width="0.55"/>
<circle cx="198.2" cy="205.3" r="1.5" fill="none" stroke="#2346a8" stroke-width="0.55"/>
<circle cx="175.5" cy="207.3" r="1.5" fill="none" stroke="#2346a8" stroke-width="0.55"/>
<circle cx="188.3" cy="209.1" r="1.5" fill="none" stroke="#2346a8" stroke-width="0.55"/>
<circle cx="194.4" cy="205.0" r="1.5" fill="none" stroke="#2346a8" stroke-width="0.55"/>
<circle cx="150.7" cy="209.4" r="1.5" fill="none" stroke="#2346a8" stroke-width="0.55"/>
<circle cx="190.0" cy="210.8" r="1.5" fill="none" stroke="#2346a8" stroke-width="0.55"/>
<circle cx="162.8" cy="207.6" r="1.5" fill="none" stroke="#2346a8" stroke-width="0.55"/>
<circle cx="151.6" cy="206.4" r="1.5" fill="none" stroke="#2346a8" stroke-width="0.55"/>
<circle cx="178.7" cy="208.6" r="1.5" fill="none" stroke="#2346a8" stroke-width="0.55"/>
<circle cx="157.4" cy="209.0" r="1.5" fill="none" stroke="#2346a8" stroke-width="0.55"/>
<circle cx="169.0" cy="208.9" r="1.5" fill="none" stroke="#2346a8" stroke-width="0.55"/>
<circle cx="151.2" cy="209.5" r="1.5" fill="none" stroke="#2346a8" stroke-width="0.55"/>
<circle cx="178.3" cy="206.9" r="1.5" fill="none" stroke="#2346a8" stroke-width="0.55"/>
<circle cx="186.2" cy="210.8" r="1.5" fill="none" stroke="#2346a8" stroke-width="0.55"/>
<circle cx="164.0" cy="208.5" r="1.5" fill="none" stroke="#2346a8" stroke-width="0.55"/>
<circle cx="174.5" cy="208.5" r="1.5" fill="none" stroke="#2346a8" stroke-width="0.55"/>
<circle cx="166.5" cy="207.8" r="1.5" fill="none" stroke="#2346a8" stroke-width="0.55"/>
<circle cx="201.4" cy="209.2" r="1.5" fill="none" stroke="#2346a8" stroke-width="0.55"/>
<circle cx="172.6" cy="210.6" r="1.5" fill="none" stroke="#2346a8" stroke-width="0.55"/>
<circle cx="155.0" cy="209.0" r="1.5" fill="none" stroke="#2346a8" stroke-width="0.55"/>
<circle cx="183.3" cy="206.7" r="1.5" fill="none" stroke="#2346a8" stroke-width="0.55"/>
<circle cx="209.4" cy="211.3" r="1.5" fill="none" stroke="#2346a8" stroke-width="0.55"/>
<circle cx="200.6" cy="204.5" r="1.5" fill="none" stroke="#2346a8" stroke-width="0.55"/>
<circle cx="189.5" cy="210.7" r="1.5" fill="none" stroke="#2346a8" stroke-width="0.55"/>
<circle cx="172.3" cy="209.9" r="1.5" fill="none" stroke="#2346a8" stroke-width="0.55"/>
<circle cx="184.5" cy="211.1" r="1.5" fill="none" stroke="#2346a8" stroke-width="0.55"/>
<circle cx="209.3" cy="211.9" r="1.5" fill="none" stroke="#2346a8" stroke-width="0.55"/>
<circle cx="171.1" cy="208.1" r="1.5" fill="none" stroke="#2346a8" stroke-width="0.55"/>
<circle cx="205.3" cy="209.7" r="1.5" fill="none" stroke="#2346a8" stroke-width="0.55"/>
<circle cx="184.6" cy="208.5" r="1.5" fill="none" stroke="#2346a8" stroke-width="0.55"/>
<circle cx="187.8" cy="210.7" r="1.5" fill="none" stroke="#2346a8" stroke-width="0.55"/>
<circle cx="205.2" cy="211.2" r="1.5" fill="none" stroke="#2346a8" stroke-width="0.55"/>
<circle cx="172.7" cy="207.5" r="1.5" fill="none" stroke="#2346a8" stroke-width="0.55"/>
<circle cx="167.4" cy="209.0" r="1.5" fill="none" stroke="#2346a8" stroke-width="0.55"/>
<circle cx="210.3" cy="203.9" r="1.5" fill="none" stroke="#2346a8" stroke-width="0.55"/>
<circle cx="206.6" cy="212.9" r="1.5" fill="none" stroke="#2346a8" stroke-width="0.55"/>
<circle cx="186.5" cy="208.1" r="1.5" fill="none" stroke="#2346a8" stroke-width="0.55"/>
<circle cx="180.3" cy="215.5" r="1.5" fill="none" stroke="#2346a8" stroke-width="0.55"/>
<circle cx="175.2" cy="206.6" r="1.5" fill="none" stroke="#2346a8" stroke-width="0.55"/>
<circle cx="180.0" cy="212.7" r="1.5" fill="none" stroke="#2346a8" stroke-width="0.55"/>
<circle cx="167.0" cy="207.7" r="1.5" fill="none" stroke="#2346a8" stroke-width="0.55"/>
<circle cx="188.2" cy="208.7" r="1.5" fill="none" stroke="#2346a8" stroke-width="0.55"/>
<circle cx="176.9" cy="207.8" r="1.5" fill="none" stroke="#2346a8" stroke-width="0.55"/>
<circle cx="201.1" cy="212.7" r="1.5" fill="none" stroke="#2346a8" stroke-width="0.55"/>
<circle cx="149.8" cy="207.2" r="1.5" fill="none" stroke="#2346a8" stroke-width="0.55"/>
<circle cx="207.9" cy="208.1" r="1.5" fill="none" stroke="#2346a8" stroke-width="0.55"/>
<circle cx="198.3" cy="208.6" r="1.5" fill="none" stroke="#2346a8" stroke-width="0.55"/>
<circle cx="158.8" cy="209.8" r="1.5" fill="none" stroke="#2346a8" stroke-width="0.55"/>
<circle cx="211.3" cy="207.6" r="1.5" fill="none" stroke="#2346a8" stroke-width="0.55"/>
<circle cx="178.9" cy="210.6" r="1.5" fill="none" stroke="#2346a8" stroke-width="0.55"/>
<circle cx="189.6" cy="205.2" r="1.5" fill="none" stroke="#2346a8" stroke-width="0.55"/>
<circle cx="156.4" cy="206.9" r="1.5" fill="none" stroke="#2346a8" stroke-width="0.55"/>
<circle cx="196.9" cy="207.5" r="1.5" fill="none" stroke="#2346a8" stroke-width="0.55"/>
<circle cx="170.2" cy="210.4" r="1.5" fill="none" stroke="#2346a8" stroke-width="0.55"/>
<circle cx="167.7" cy="206.7" r="1.5" fill="none" stroke="#2346a8" stroke-width="0.55"/>
<circle cx="171.7" cy="208.2" r="1.5" fill="none" stroke="#2346a8" stroke-width="0.55"/>
<circle cx="195.9" cy="207.9" r="1.5" fill="none" stroke="#2346a8" stroke-width="0.55"/>
<circle cx="164.9" cy="208.3" r="1.5" fill="none" stroke="#2346a8" stroke-width="0.55"/>
<circle cx="177.7" cy="211.4" r="1.5" fill="none" stroke="#2346a8" stroke-width="0.55"/>
<circle cx="183.4" cy="205.9" r="1.5" fill="none" stroke="#2346a8" stroke-width="0.55"/>
<circle cx="149.9" cy="208.8" r="1.5" fill="none" stroke="#2346a8" stroke-width="0.55"/>
<circle cx="185.3" cy="205.9" r="1.5" fill="none" stroke="#2346a8" stroke-width="0.55"/>
<circle cx="193.6" cy="206.6" r="1.5" fill="none" stroke="#2346a8" stroke-width="0.55"/>
<circle cx="206.4" cy="206.4" r="1.5" fill="none" stroke="#2346a8" stroke-width="0.55"/>
<circle cx="173.3" cy="206.1" r="1.5" fill="none" stroke="#2346a8" stroke-width="0.55"/>
<circle cx="161.4" cy="210.5" r="1.5" fill="none" stroke="#2346a8" stroke-width="0.55"/>
<circle cx="167.7" cy="208.8" r="1.5" fill="none" stroke="#2346a8" stroke-width="0.55"/>
<circle cx="201.7" cy="207.7" r="1.5" fill="none" stroke="#2346a8" stroke-width="0.55"/>
<circle cx="192.8" cy="206.6" r="1.5" fill="none" stroke="#2346a8" stroke-width="0.55"/>
<circle cx="198.2" cy="209.3" r="1.5" fill="none" stroke="#2346a8" stroke-width="0.55"/>
<circle cx="206.4" cy="210.3" r="1.5" fill="none" stroke="#2346a8" stroke-width="0.55"/>
<circle cx="183.6" cy="210.7" r="1.5" fill="none" stroke="#2346a8" stroke-width="0.55"/>
<circle cx="180.4" cy="207.8" r="1.5" fill="none" stroke="#2346a8" stroke-width="0.55"/>
<circle cx="185.9" cy="209.8" r="1.5" fill="none" stroke="#2346a8" stroke-width="0.55"/>
<circle cx="200.1" cy="210.1" r="1.5" fill="none" stroke="#2346a8" stroke-width="0.55"/>
<circle cx="200.6" cy="209.3" r="1.5" fill="none" stroke="#2346a8" stroke-width="0.55"/>
<path d="M147.4 194.5 L147.4 226.4 L214 226.4" fill="none" stroke="#333" stroke-width="0.6"/>
<text x="145.5" y="199.0" font-size="6.6" text-anchor="end" font-weight="bold" fill="#1a1a1a" stroke="#1a1a1a" stroke-width="0.15" >102</text>
<text x="145.5" y="209.2" font-size="6.6" text-anchor="end" font-weight="bold" fill="#1a1a1a" stroke="#1a1a1a" stroke-width="0.15" >100</text>
<text x="145.5" y="219.2" font-size="6.6" text-anchor="end" font-weight="bold" fill="#1a1a1a" stroke="#1a1a1a" stroke-width="0.15" >98</text>
<text x="145.5" y="228.6" font-size="6.6" text-anchor="end" font-weight="bold" fill="#1a1a1a" stroke="#1a1a1a" stroke-width="0.15" >96</text>
<text x="148.0" y="234.2" font-size="6.6" text-anchor="middle" font-weight="bold" fill="#1a1a1a" stroke="#1a1a1a" stroke-width="0.15" >200</text>
<text x="164.5" y="234.2" font-size="6.6" text-anchor="middle" font-weight="bold" fill="#1a1a1a" stroke="#1a1a1a" stroke-width="0.15" >250</text>
<text x="181.0" y="234.2" font-size="6.6" text-anchor="middle" font-weight="bold" fill="#1a1a1a" stroke="#1a1a1a" stroke-width="0.15" >300</text>
<text x="197.5" y="234.2" font-size="6.6" text-anchor="middle" font-weight="bold" fill="#1a1a1a" stroke="#1a1a1a" stroke-width="0.15" >350</text>
<text x="214.0" y="234.2" font-size="6.6" text-anchor="middle" font-weight="bold" fill="#1a1a1a" stroke="#1a1a1a" stroke-width="0.15" >400</text>
<rect x="37" y="277" width="194" height="3.6" fill="#d2363a"/>
<circle cx="37.0" cy="278.7" r="1.1" fill="none" stroke="#c01f25" stroke-width="0.5"/>
<circle cx="40.2" cy="279.1" r="1.1" fill="none" stroke="#c01f25" stroke-width="0.5"/>
<circle cx="43.4" cy="279.1" r="1.1" fill="none" stroke="#c01f25" stroke-width="0.5"/>
<circle cx="46.6" cy="278.1" r="1.1" fill="none" stroke="#c01f25" stroke-width="0.5"/>
<circle cx="49.8" cy="277.8" r="1.1" fill="none" stroke="#c01f25" stroke-width="0.5"/>
<circle cx="53.0" cy="278.5" r="1.1" fill="none" stroke="#c01f25" stroke-width="0.5"/>
<circle cx="56.2" cy="278.3" r="1.1" fill="none" stroke="#c01f25" stroke-width="0.5"/>
<circle cx="59.4" cy="279.4" r="1.1" fill="none" stroke="#c01f25" stroke-width="0.5"/>
<circle cx="62.6" cy="279.2" r="1.1" fill="none" stroke="#c01f25" stroke-width="0.5"/>
<circle cx="65.8" cy="279.0" r="1.1" fill="none" stroke="#c01f25" stroke-width="0.5"/>
<circle cx="69.0" cy="278.9" r="1.1" fill="none" stroke="#c01f25" stroke-width="0.5"/>
<circle cx="72.2" cy="279.1" r="1.1" fill="none" stroke="#c01f25" stroke-width="0.5"/>
<circle cx="75.4" cy="278.1" r="1.1" fill="none" stroke="#c01f25" stroke-width="0.5"/>
<circle cx="78.6" cy="278.7" r="1.1" fill="none" stroke="#c01f25" stroke-width="0.5"/>
<circle cx="81.8" cy="278.1" r="1.1" fill="none" stroke="#c01f25" stroke-width="0.5"/>
<circle cx="85.0" cy="279.6" r="1.1" fill="none" stroke="#c01f25" stroke-width="0.5"/>
<circle cx="88.2" cy="277.9" r="1.1" fill="none" stroke="#c01f25" stroke-width="0.5"/>
<circle cx="91.4" cy="279.4" r="1.1" fill="none" stroke="#c01f25" stroke-width="0.5"/>
<circle cx="94.6" cy="277.9" r="1.1" fill="none" stroke="#c01f25" stroke-width="0.5"/>
<circle cx="97.8" cy="279.2" r="1.1" fill="none" stroke="#c01f25" stroke-width="0.5"/>
<circle cx="101.0" cy="278.5" r="1.1" fill="none" stroke="#c01f25" stroke-width="0.5"/>
<circle cx="104.2" cy="278.6" r="1.1" fill="none" stroke="#c01f25" stroke-width="0.5"/>
<circle cx="107.4" cy="279.5" r="1.1" fill="none" stroke="#c01f25" stroke-width="0.5"/>
<circle cx="110.6" cy="277.8" r="1.1" fill="none" stroke="#c01f25" stroke-width="0.5"/>
<circle cx="113.8" cy="277.9" r="1.1" fill="none" stroke="#c01f25" stroke-width="0.5"/>
<circle cx="117.0" cy="279.6" r="1.1" fill="none" stroke="#c01f25" stroke-width="0.5"/>
<circle cx="120.2" cy="278.8" r="1.1" fill="none" stroke="#c01f25" stroke-width="0.5"/>
<circle cx="123.4" cy="278.0" r="1.1" fill="none" stroke="#c01f25" stroke-width="0.5"/>
<circle cx="126.6" cy="279.8" r="1.1" fill="none" stroke="#c01f25" stroke-width="0.5"/>
<circle cx="129.8" cy="279.7" r="1.1" fill="none" stroke="#c01f25" stroke-width="0.5"/>
<circle cx="133.0" cy="278.0" r="1.1" fill="none" stroke="#c01f25" stroke-width="0.5"/>
<circle cx="136.2" cy="278.6" r="1.1" fill="none" stroke="#c01f25" stroke-width="0.5"/>
<circle cx="139.4" cy="278.1" r="1.1" fill="none" stroke="#c01f25" stroke-width="0.5"/>
<circle cx="142.6" cy="278.4" r="1.1" fill="none" stroke="#c01f25" stroke-width="0.5"/>
<circle cx="145.8" cy="279.0" r="1.1" fill="none" stroke="#c01f25" stroke-width="0.5"/>
<circle cx="149.0" cy="278.1" r="1.1" fill="none" stroke="#c01f25" stroke-width="0.5"/>
<circle cx="152.2" cy="279.2" r="1.1" fill="none" stroke="#c01f25" stroke-width="0.5"/>
<circle cx="155.4" cy="277.9" r="1.1" fill="none" stroke="#c01f25" stroke-width="0.5"/>
<circle cx="158.6" cy="278.1" r="1.1" fill="none" stroke="#c01f25" stroke-width="0.5"/>
<circle cx="161.8" cy="279.4" r="1.1" fill="none" stroke="#c01f25" stroke-width="0.5"/>
<circle cx="165.0" cy="278.6" r="1.1" fill="none" stroke="#c01f25" stroke-width="0.5"/>
<circle cx="168.2" cy="278.6" r="1.1" fill="none" stroke="#c01f25" stroke-width="0.5"/>
<circle cx="171.4" cy="279.0" r="1.1" fill="none" stroke="#c01f25" stroke-width="0.5"/>
<circle cx="174.6" cy="278.8" r="1.1" fill="none" stroke="#c01f25" stroke-width="0.5"/>
<circle cx="177.8" cy="278.6" r="1.1" fill="none" stroke="#c01f25" stroke-width="0.5"/>
<circle cx="181.0" cy="277.9" r="1.1" fill="none" stroke="#c01f25" stroke-width="0.5"/>
<circle cx="184.2" cy="279.3" r="1.1" fill="none" stroke="#c01f25" stroke-width="0.5"/>
<circle cx="187.4" cy="279.7" r="1.1" fill="none" stroke="#c01f25" stroke-width="0.5"/>
<circle cx="190.6" cy="279.8" r="1.1" fill="none" stroke="#c01f25" stroke-width="0.5"/>
<circle cx="193.8" cy="279.1" r="1.1" fill="none" stroke="#c01f25" stroke-width="0.5"/>
<circle cx="197.0" cy="278.5" r="1.1" fill="none" stroke="#c01f25" stroke-width="0.5"/>
<circle cx="200.2" cy="278.5" r="1.1" fill="none" stroke="#c01f25" stroke-width="0.5"/>
<circle cx="203.4" cy="279.2" r="1.1" fill="none" stroke="#c01f25" stroke-width="0.5"/>
<circle cx="206.6" cy="279.1" r="1.1" fill="none" stroke="#c01f25" stroke-width="0.5"/>
<circle cx="209.8" cy="278.0" r="1.1" fill="none" stroke="#c01f25" stroke-width="0.5"/>
<circle cx="213.0" cy="278.3" r="1.1" fill="none" stroke="#c01f25" stroke-width="0.5"/>
<circle cx="216.2" cy="278.5" r="1.1" fill="none" stroke="#c01f25" stroke-width="0.5"/>
<circle cx="219.4" cy="278.8" r="1.1" fill="none" stroke="#c01f25" stroke-width="0.5"/>
<circle cx="222.6" cy="279.4" r="1.1" fill="none" stroke="#c01f25" stroke-width="0.5"/>
<circle cx="225.8" cy="278.8" r="1.1" fill="none" stroke="#c01f25" stroke-width="0.5"/>
<circle cx="37.0" cy="278.1" r="1.3" fill="none" stroke="#8a8a8a" stroke-width="0.5"/>
<circle cx="38.5" cy="279.7" r="1.3" fill="none" stroke="#8a8a8a" stroke-width="0.5"/>
<circle cx="40.1" cy="279.0" r="1.3" fill="none" stroke="#8a8a8a" stroke-width="0.5"/>
<circle cx="41.6" cy="279.2" r="1.3" fill="none" stroke="#8a8a8a" stroke-width="0.5"/>
<circle cx="43.2" cy="278.7" r="1.3" fill="none" stroke="#8a8a8a" stroke-width="0.5"/>
<circle cx="44.8" cy="279.2" r="1.3" fill="none" stroke="#8a8a8a" stroke-width="0.5"/>
<circle cx="46.3" cy="279.3" r="1.3" fill="none" stroke="#8a8a8a" stroke-width="0.5"/>
<circle cx="47.9" cy="280.2" r="1.3" fill="none" stroke="#8a8a8a" stroke-width="0.5"/>
<circle cx="49.4" cy="279.0" r="1.3" fill="none" stroke="#8a8a8a" stroke-width="0.5"/>
<circle cx="51.0" cy="280.1" r="1.3" fill="none" stroke="#8a8a8a" stroke-width="0.5"/>
<circle cx="52.5" cy="279.6" r="1.3" fill="none" stroke="#8a8a8a" stroke-width="0.5"/>
<circle cx="54.0" cy="280.8" r="1.3" fill="none" stroke="#8a8a8a" stroke-width="0.5"/>
<circle cx="55.6" cy="279.7" r="1.3" fill="none" stroke="#8a8a8a" stroke-width="0.5"/>
<circle cx="57.2" cy="280.4" r="1.3" fill="none" stroke="#8a8a8a" stroke-width="0.5"/>
<circle cx="58.7" cy="280.7" r="1.3" fill="none" stroke="#8a8a8a" stroke-width="0.5"/>
<circle cx="60.2" cy="281.6" r="1.3" fill="none" stroke="#8a8a8a" stroke-width="0.5"/>
<circle cx="61.8" cy="280.6" r="1.3" fill="none" stroke="#8a8a8a" stroke-width="0.5"/>
<circle cx="63.4" cy="281.7" r="1.3" fill="none" stroke="#8a8a8a" stroke-width="0.5"/>
<circle cx="64.9" cy="281.5" r="1.3" fill="none" stroke="#8a8a8a" stroke-width="0.5"/>
<circle cx="66.5" cy="281.9" r="1.3" fill="none" stroke="#8a8a8a" stroke-width="0.5"/>
<circle cx="68.0" cy="282.6" r="1.3" fill="none" stroke="#8a8a8a" stroke-width="0.5"/>
<circle cx="69.6" cy="283.8" r="1.3" fill="none" stroke="#8a8a8a" stroke-width="0.5"/>
<circle cx="71.1" cy="283.2" r="1.3" fill="none" stroke="#8a8a8a" stroke-width="0.5"/>
<circle cx="72.7" cy="284.4" r="1.3" fill="none" stroke="#8a8a8a" stroke-width="0.5"/>
<circle cx="74.2" cy="283.2" r="1.3" fill="none" stroke="#8a8a8a" stroke-width="0.5"/>
<circle cx="75.8" cy="285.0" r="1.3" fill="none" stroke="#8a8a8a" stroke-width="0.5"/>
<circle cx="77.3" cy="284.2" r="1.3" fill="none" stroke="#8a8a8a" stroke-width="0.5"/>
<circle cx="78.8" cy="284.2" r="1.3" fill="none" stroke="#8a8a8a" stroke-width="0.5"/>
<circle cx="80.4" cy="285.7" r="1.3" fill="none" stroke="#8a8a8a" stroke-width="0.5"/>
<circle cx="82.0" cy="286.4" r="1.3" fill="none" stroke="#8a8a8a" stroke-width="0.5"/>
<circle cx="83.5" cy="285.0" r="1.3" fill="none" stroke="#8a8a8a" stroke-width="0.5"/>
<circle cx="85.1" cy="285.9" r="1.3" fill="none" stroke="#8a8a8a" stroke-width="0.5"/>
<circle cx="86.6" cy="287.2" r="1.3" fill="none" stroke="#8a8a8a" stroke-width="0.5"/>
<circle cx="88.2" cy="286.8" r="1.3" fill="none" stroke="#8a8a8a" stroke-width="0.5"/>
<circle cx="89.7" cy="287.0" r="1.3" fill="none" stroke="#8a8a8a" stroke-width="0.5"/>
<circle cx="91.2" cy="286.9" r="1.3" fill="none" stroke="#8a8a8a" stroke-width="0.5"/>
<circle cx="92.8" cy="287.4" r="1.3" fill="none" stroke="#8a8a8a" stroke-width="0.5"/>
<circle cx="94.3" cy="288.9" r="1.3" fill="none" stroke="#8a8a8a" stroke-width="0.5"/>
<circle cx="95.9" cy="290.1" r="1.3" fill="none" stroke="#8a8a8a" stroke-width="0.5"/>
<circle cx="97.5" cy="290.6" r="1.3" fill="none" stroke="#8a8a8a" stroke-width="0.5"/>
<rect x="60.4" y="281" width="39.6" height="11.4" fill="none" stroke="#b5b5b5" stroke-width="0.5"/>
<path d="M100 292.4 L152 317 M100 281 L219 288" stroke="#c8c8c8" stroke-width="0.5" fill="none"/>
<rect x="36.5" y="275.1" width="195.0" height="61.299999999999955" fill="none" stroke="#666" stroke-width="0.7"/>
<text x="34.6" y="279.7" font-size="6.6" text-anchor="end" font-weight="bold" fill="#1a1a1a" stroke="#1a1a1a" stroke-width="0.15" >100</text>
<text x="34.6" y="291.42" font-size="6.6" text-anchor="end" font-weight="bold" fill="#1a1a1a" stroke="#1a1a1a" stroke-width="0.15" >80</text>
<text x="34.6" y="303.14000000000004" font-size="6.6" text-anchor="end" font-weight="bold" fill="#1a1a1a" stroke="#1a1a1a" stroke-width="0.15" >60</text>
<text x="34.6" y="314.86" font-size="6.6" text-anchor="end" font-weight="bold" fill="#1a1a1a" stroke="#1a1a1a" stroke-width="0.15" >40</text>
<text x="34.6" y="326.58" font-size="6.6" text-anchor="end" font-weight="bold" fill="#1a1a1a" stroke="#1a1a1a" stroke-width="0.15" >20</text>
<text x="34.6" y="338.3" font-size="6.6" text-anchor="end" font-weight="bold" fill="#1a1a1a" stroke="#1a1a1a" stroke-width="0.15" >0</text>
<text x="36.5" y="273.4" font-size="6.6" text-anchor="middle" font-weight="bold" fill="#1a1a1a" stroke="#1a1a1a" stroke-width="0.15" >0</text>
<text x="75.1" y="273.4" font-size="6.6" text-anchor="middle" font-weight="bold" fill="#1a1a1a" stroke="#1a1a1a" stroke-width="0.15" >140</text>
<text x="113.7" y="273.4" font-size="6.6" text-anchor="middle" font-weight="bold" fill="#1a1a1a" stroke="#1a1a1a" stroke-width="0.15" >280</text>
<text x="152.3" y="273.4" font-size="6.6" text-anchor="middle" font-weight="bold" fill="#1a1a1a" stroke="#1a1a1a" stroke-width="0.15" >420</text>
<text x="190.9" y="273.4" font-size="6.6" text-anchor="middle" font-weight="bold" fill="#1a1a1a" stroke="#1a1a1a" stroke-width="0.15" >560</text>
<text x="229.5" y="273.4" font-size="6.6" text-anchor="middle" font-weight="bold" fill="#1a1a1a" stroke="#1a1a1a" stroke-width="0.15" >700</text>
<text x="37.0" y="344.8" font-size="6.6" text-anchor="middle" font-weight="bold" fill="#1a1a1a" stroke="#1a1a1a" stroke-width="0.15" >0</text>
<text x="75.3" y="344.8" font-size="6.6" text-anchor="middle" font-weight="bold" fill="#1a1a1a" stroke="#1a1a1a" stroke-width="0.15" >70</text>
<text x="113.6" y="344.8" font-size="6.6" text-anchor="middle" font-weight="bold" fill="#1a1a1a" stroke="#1a1a1a" stroke-width="0.15" >140</text>
<text x="151.89999999999998" y="344.8" font-size="6.6" text-anchor="middle" font-weight="bold" fill="#1a1a1a" stroke="#1a1a1a" stroke-width="0.15" >210</text>
<text x="190.2" y="344.8" font-size="6.6" text-anchor="middle" font-weight="bold" fill="#1a1a1a" stroke="#1a1a1a" stroke-width="0.15" >280</text>
<text x="228.5" y="344.8" font-size="6.6" text-anchor="middle" font-weight="bold" fill="#1a1a1a" stroke="#1a1a1a" stroke-width="0.15" >350</text>
<text x="127.3" y="266.9" font-size="7.4" text-anchor="middle" font-weight="bold" fill="#1a1a1a" stroke="#1a1a1a" stroke-width="0.15" >Time/h</text>
<text x="130.8" y="350.8" font-size="6.7" text-anchor="middle" font-weight="bold" fill="#1a1a1a" stroke="#1a1a1a" stroke-width="0.15" >Cycle number</text>
<text x="126" y="261.5" font-size="7" text-anchor="middle" font-weight="bold" fill="#1a1a1a" stroke="#1a1a1a" stroke-width="0.15" ></text>
<circle cx="45.2" cy="323" r="1.5" fill="none" stroke="#888" stroke-width="0.6"/>
<text x="49.2" y="325.3" font-size="6.6" text-anchor="start" font-weight="bold" fill="#1a1a1a" stroke="#1a1a1a" stroke-width="0.15" >1 M Zn(TFSI)<tspan dy="1.3" font-size="4.2">2</tspan></text>
<circle cx="45.2" cy="330.4" r="1.5" fill="none" stroke="#c01f25" stroke-width="0.6"/>
<text x="49.2" y="332.7" font-size="6.6" text-anchor="start" font-weight="bold" fill="#1a1a1a" stroke="#1a1a1a" stroke-width="0.15" >1 M Zn(TFSI)<tspan dy="1.3" font-size="4.2">2</tspan><tspan dy="-1.3"> + 0.2 wt% PEO</tspan></text>
<circle cx="153.0" cy="290.0" r="1.4" fill="none" stroke="#c01f25" stroke-width="0.55"/>
<circle cx="154.4" cy="289.4" r="1.4" fill="none" stroke="#c01f25" stroke-width="0.55"/>
<circle cx="155.9" cy="289.8" r="1.4" fill="none" stroke="#c01f25" stroke-width="0.55"/>
<circle cx="157.3" cy="290.3" r="1.4" fill="none" stroke="#c01f25" stroke-width="0.55"/>
<circle cx="158.8" cy="290.4" r="1.4" fill="none" stroke="#c01f25" stroke-width="0.55"/>
<circle cx="160.2" cy="290.2" r="1.4" fill="none" stroke="#c01f25" stroke-width="0.55"/>
<circle cx="161.7" cy="289.7" r="1.4" fill="none" stroke="#c01f25" stroke-width="0.55"/>
<circle cx="163.2" cy="290.0" r="1.4" fill="none" stroke="#c01f25" stroke-width="0.55"/>
<circle cx="164.6" cy="290.0" r="1.4" fill="none" stroke="#c01f25" stroke-width="0.55"/>
<circle cx="166.1" cy="290.2" r="1.4" fill="none" stroke="#c01f25" stroke-width="0.55"/>
<circle cx="167.5" cy="289.7" r="1.4" fill="none" stroke="#c01f25" stroke-width="0.55"/>
<circle cx="168.9" cy="290.5" r="1.4" fill="none" stroke="#c01f25" stroke-width="0.55"/>
<circle cx="170.4" cy="290.5" r="1.4" fill="none" stroke="#c01f25" stroke-width="0.55"/>
<circle cx="171.8" cy="289.6" r="1.4" fill="none" stroke="#c01f25" stroke-width="0.55"/>
<circle cx="173.3" cy="289.7" r="1.4" fill="none" stroke="#c01f25" stroke-width="0.55"/>
<circle cx="174.8" cy="290.4" r="1.4" fill="none" stroke="#c01f25" stroke-width="0.55"/>
<circle cx="176.2" cy="289.7" r="1.4" fill="none" stroke="#c01f25" stroke-width="0.55"/>
<circle cx="177.7" cy="290.5" r="1.4" fill="none" stroke="#c01f25" stroke-width="0.55"/>
<circle cx="179.1" cy="290.0" r="1.4" fill="none" stroke="#c01f25" stroke-width="0.55"/>
<circle cx="180.6" cy="290.2" r="1.4" fill="none" stroke="#c01f25" stroke-width="0.55"/>
<circle cx="182.0" cy="290.2" r="1.4" fill="none" stroke="#c01f25" stroke-width="0.55"/>
<circle cx="183.4" cy="289.7" r="1.4" fill="none" stroke="#c01f25" stroke-width="0.55"/>
<circle cx="184.9" cy="289.7" r="1.4" fill="none" stroke="#c01f25" stroke-width="0.55"/>
<circle cx="186.3" cy="289.7" r="1.4" fill="none" stroke="#c01f25" stroke-width="0.55"/>
<circle cx="187.8" cy="290.2" r="1.4" fill="none" stroke="#c01f25" stroke-width="0.55"/>
<circle cx="189.2" cy="290.2" r="1.4" fill="none" stroke="#c01f25" stroke-width="0.55"/>
<circle cx="190.7" cy="289.6" r="1.4" fill="none" stroke="#c01f25" stroke-width="0.55"/>
<circle cx="192.2" cy="290.5" r="1.4" fill="none" stroke="#c01f25" stroke-width="0.55"/>
<circle cx="193.6" cy="289.9" r="1.4" fill="none" stroke="#c01f25" stroke-width="0.55"/>
<circle cx="195.1" cy="289.7" r="1.4" fill="none" stroke="#c01f25" stroke-width="0.55"/>
<circle cx="196.5" cy="289.9" r="1.4" fill="none" stroke="#c01f25" stroke-width="0.55"/>
<circle cx="197.9" cy="290.6" r="1.4" fill="none" stroke="#c01f25" stroke-width="0.55"/>
<circle cx="199.4" cy="290.1" r="1.4" fill="none" stroke="#c01f25" stroke-width="0.55"/>
<circle cx="200.8" cy="290.1" r="1.4" fill="none" stroke="#c01f25" stroke-width="0.55"/>
<circle cx="202.3" cy="290.5" r="1.4" fill="none" stroke="#c01f25" stroke-width="0.55"/>
<circle cx="203.8" cy="290.6" r="1.4" fill="none" stroke="#c01f25" stroke-width="0.55"/>
<circle cx="205.2" cy="290.3" r="1.4" fill="none" stroke="#c01f25" stroke-width="0.55"/>
<circle cx="206.7" cy="289.9" r="1.4" fill="none" stroke="#c01f25" stroke-width="0.55"/>
<circle cx="208.1" cy="290.1" r="1.4" fill="none" stroke="#c01f25" stroke-width="0.55"/>
<circle cx="209.6" cy="290.5" r="1.4" fill="none" stroke="#c01f25" stroke-width="0.55"/>
<circle cx="211.0" cy="290.3" r="1.4" fill="none" stroke="#c01f25" stroke-width="0.55"/>
<circle cx="212.4" cy="290.1" r="1.4" fill="none" stroke="#c01f25" stroke-width="0.55"/>
<circle cx="213.9" cy="289.8" r="1.4" fill="none" stroke="#c01f25" stroke-width="0.55"/>
<circle cx="215.3" cy="289.8" r="1.4" fill="none" stroke="#c01f25" stroke-width="0.55"/>
<circle cx="216.8" cy="290.3" r="1.4" fill="none" stroke="#c01f25" stroke-width="0.55"/>
<circle cx="153.0" cy="294.7" r="1.4" fill="none" stroke="#777" stroke-width="0.5"/>
<circle cx="154.5" cy="293.5" r="1.4" fill="none" stroke="#777" stroke-width="0.5"/>
<circle cx="156.0" cy="295.4" r="1.4" fill="none" stroke="#777" stroke-width="0.5"/>
<circle cx="157.5" cy="296.1" r="1.4" fill="none" stroke="#777" stroke-width="0.5"/>
<circle cx="159.0" cy="296.2" r="1.4" fill="none" stroke="#777" stroke-width="0.5"/>
<circle cx="160.5" cy="296.8" r="1.4" fill="none" stroke="#777" stroke-width="0.5"/>
<circle cx="162.0" cy="297.1" r="1.4" fill="none" stroke="#777" stroke-width="0.5"/>
<circle cx="163.5" cy="296.6" r="1.4" fill="none" stroke="#777" stroke-width="0.5"/>
<circle cx="165.0" cy="297.6" r="1.4" fill="none" stroke="#777" stroke-width="0.5"/>
<circle cx="166.5" cy="297.0" r="1.4" fill="none" stroke="#777" stroke-width="0.5"/>
<circle cx="168.0" cy="296.8" r="1.4" fill="none" stroke="#777" stroke-width="0.5"/>
<circle cx="169.5" cy="297.8" r="1.4" fill="none" stroke="#777" stroke-width="0.5"/>
<circle cx="171.0" cy="298.1" r="1.4" fill="none" stroke="#777" stroke-width="0.5"/>
<circle cx="172.5" cy="300.1" r="1.4" fill="none" stroke="#777" stroke-width="0.5"/>
<circle cx="174.0" cy="299.9" r="1.4" fill="none" stroke="#777" stroke-width="0.5"/>
<circle cx="175.5" cy="300.0" r="1.4" fill="none" stroke="#777" stroke-width="0.5"/>
<circle cx="177.0" cy="300.7" r="1.4" fill="none" stroke="#777" stroke-width="0.5"/>
<circle cx="178.5" cy="300.0" r="1.4" fill="none" stroke="#777" stroke-width="0.5"/>
<circle cx="180.0" cy="301.5" r="1.4" fill="none" stroke="#777" stroke-width="0.5"/>
<circle cx="181.5" cy="302.4" r="1.4" fill="none" stroke="#777" stroke-width="0.5"/>
<circle cx="183.0" cy="302.2" r="1.4" fill="none" stroke="#777" stroke-width="0.5"/>
<circle cx="184.5" cy="302.3" r="1.4" fill="none" stroke="#777" stroke-width="0.5"/>
<circle cx="186.0" cy="303.2" r="1.4" fill="none" stroke="#777" stroke-width="0.5"/>
<circle cx="187.5" cy="303.6" r="1.4" fill="none" stroke="#777" stroke-width="0.5"/>
<circle cx="189.0" cy="305.0" r="1.4" fill="none" stroke="#777" stroke-width="0.5"/>
<circle cx="190.5" cy="304.2" r="1.4" fill="none" stroke="#777" stroke-width="0.5"/>
<circle cx="192.0" cy="304.7" r="1.4" fill="none" stroke="#777" stroke-width="0.5"/>
<circle cx="193.5" cy="305.7" r="1.4" fill="none" stroke="#777" stroke-width="0.5"/>
<circle cx="195.0" cy="307.2" r="1.4" fill="none" stroke="#777" stroke-width="0.5"/>
<circle cx="196.5" cy="308.0" r="1.4" fill="none" stroke="#777" stroke-width="0.5"/>
<circle cx="198.0" cy="308.3" r="1.4" fill="none" stroke="#777" stroke-width="0.5"/>
<circle cx="199.5" cy="309.5" r="1.4" fill="none" stroke="#777" stroke-width="0.5"/>
<circle cx="201.0" cy="308.8" r="1.4" fill="none" stroke="#777" stroke-width="0.5"/>
<circle cx="202.5" cy="308.6" r="1.4" fill="none" stroke="#777" stroke-width="0.5"/>
<circle cx="204.0" cy="310.3" r="1.4" fill="none" stroke="#777" stroke-width="0.5"/>
<circle cx="205.5" cy="310.8" r="1.4" fill="none" stroke="#777" stroke-width="0.5"/>
<path d="M152 287.7 L152 317.3 L219 317.3" fill="none" stroke="#333" stroke-width="0.6"/>
<text x="150.5" y="291.2" font-size="6.6" text-anchor="end" font-weight="bold" fill="#1a1a1a" stroke="#1a1a1a" stroke-width="0.15" >100</text>
<text x="150.5" y="300.8" font-size="6.6" text-anchor="end" font-weight="bold" fill="#1a1a1a" stroke="#1a1a1a" stroke-width="0.15" >90</text>
<text x="150.5" y="310.2" font-size="6.6" text-anchor="end" font-weight="bold" fill="#1a1a1a" stroke="#1a1a1a" stroke-width="0.15" >80</text>
<text x="150.5" y="319.5" font-size="6.6" text-anchor="end" font-weight="bold" fill="#1a1a1a" stroke="#1a1a1a" stroke-width="0.15" >70</text>
<text x="162.3" y="325.2" font-size="6.6" text-anchor="middle" font-weight="bold" fill="#1a1a1a" stroke="#1a1a1a" stroke-width="0.15" >60</text>
<text x="174.5" y="325.2" font-size="6.6" text-anchor="middle" font-weight="bold" fill="#1a1a1a" stroke="#1a1a1a" stroke-width="0.15" >75</text>
<text x="188" y="325.2" font-size="6.6" text-anchor="middle" font-weight="bold" fill="#1a1a1a" stroke="#1a1a1a" stroke-width="0.15" >90</text>
<text x="202.5" y="325.2" font-size="6.6" text-anchor="middle" font-weight="bold" fill="#1a1a1a" stroke="#1a1a1a" stroke-width="0.15" >105</text>
<text x="217.5" y="325.2" font-size="6.6" text-anchor="middle" font-weight="bold" fill="#1a1a1a" stroke="#1a1a1a" stroke-width="0.15" >120</text>
<text transform="translate(22.8 212.4) rotate(-90)" font-size="6.9" stroke="#1a1a1a" stroke-width="0.15" font-weight="bold" text-anchor="middle" fill="#1a1a1a">Coulombic efficiency/%</text>
<text transform="translate(22.8 305.6) rotate(-90)" font-size="6.9" stroke="#1a1a1a" stroke-width="0.15" font-weight="bold" text-anchor="middle" fill="#1a1a1a">Coulombic efficiency/%</text>
</g>
<g id="pc">
<text x="236.8" y="172.5" font-size="9.5" text-anchor="start" font-weight="bold" fill="#1a1a1a" stroke="#1a1a1a" stroke-width="0.15" >(c)</text>
<rect x="250" y="166.5" width="162.5" height="188.5" fill="none" stroke="#62b3c6" stroke-width="1" stroke-dasharray="5 2.5"/>
<text x="319" y="173" font-size="6.5" text-anchor="middle" font-weight="bold" fill="#1a1a1a" stroke="#1a1a1a" stroke-width="0.15" ><tspan dy="-2" font-size="4">1</tspan><tspan dy="2">H Chemical shift</tspan></text>
<g stroke="#c4c4c4" stroke-width="0.45" fill="none"><rect x="269" y="180" width="66" height="66"/><rect x="277" y="174" width="76" height="67"/><path d="M269 180 L277 174 M335 180 L353 174 M269 246 L277 241 M335 246 L353 241"/></g>
<path d="M282.2 222.9 L285.7 222.5 L286.2 218.9" stroke="#d86060" stroke-width="1.03" fill="none"/><circle cx="282.2" cy="222.9" r="1.03" fill="#f4e4e4"/><circle cx="286.2" cy="218.9" r="1.03" fill="#f4e4e4"/><circle cx="285.7" cy="222.5" r="1.88" fill="#d42a2a"/>
<path d="M285.9 228.6 L289.6 228.9 L291.0 225.4" stroke="#d86060" stroke-width="1.09" fill="none"/><circle cx="285.9" cy="228.6" r="1.09" fill="#f4e4e4"/><circle cx="291.0" cy="225.4" r="1.09" fill="#f4e4e4"/><circle cx="289.6" cy="228.9" r="1.98" fill="#d42a2a"/>
<path d="M309.9 195.9 L311.9 193.9 L310.4 191.4" stroke="#d86060" stroke-width="0.83" fill="none"/><circle cx="309.9" cy="195.9" r="0.83" fill="#f4e4e4"/><circle cx="310.4" cy="191.4" r="0.83" fill="#f4e4e4"/><circle cx="311.9" cy="193.9" r="1.50" fill="#d42a2a"/>
<path d="M318.5 187.1 L318.1 183.4 L314.4 182.7" stroke="#d86060" stroke-width="1.09" fill="none"/><circle cx="318.5" cy="187.1" r="1.09" fill="#f4e4e4"/><circle cx="314.4" cy="182.7" r="1.09" fill="#f4e4e4"/><circle cx="318.1" cy="183.4" r="1.98" fill="#d42a2a"/>
<path d="M290.6 177.7 L290.9 181.7 L294.8 182.5" stroke="#d86060" stroke-width="1.15" fill="none"/><circle cx="290.6" cy="177.7" r="1.15" fill="#f4e4e4"/><circle cx="294.8" cy="182.5" r="1.15" fill="#f4e4e4"/><circle cx="290.9" cy="181.7" r="2.10" fill="#d42a2a"/>
<path d="M339.0 220.3 L340.4 217.8 L338.3 215.8" stroke="#d86060" stroke-width="0.84" fill="none"/><circle cx="339.0" cy="220.3" r="0.84" fill="#f4e4e4"/><circle cx="338.3" cy="215.8" r="0.84" fill="#f4e4e4"/><circle cx="340.4" cy="217.8" r="1.52" fill="#d42a2a"/>
<path d="M308.6 189.2 L311.3 186.3 L309.3 182.9" stroke="#d86060" stroke-width="1.14" fill="none"/><circle cx="308.6" cy="189.2" r="1.14" fill="#f4e4e4"/><circle cx="309.3" cy="182.9" r="1.14" fill="#f4e4e4"/><circle cx="311.3" cy="186.3" r="2.07" fill="#d42a2a"/>
<path d="M287.6 229.2 L284.9 230.5 L285.4 233.5" stroke="#d86060" stroke-width="0.87" fill="none"/><circle cx="287.6" cy="229.2" r="0.87" fill="#f4e4e4"/><circle cx="285.4" cy="233.5" r="0.87" fill="#f4e4e4"/><circle cx="284.9" cy="230.5" r="1.57" fill="#d42a2a"/>
<path d="M304.7 214.1 L307.9 213.8 L308.5 210.6" stroke="#d86060" stroke-width="0.94" fill="none"/><circle cx="304.7" cy="214.1" r="0.94" fill="#f4e4e4"/><circle cx="308.5" cy="210.6" r="0.94" fill="#f4e4e4"/><circle cx="307.9" cy="213.8" r="1.71" fill="#d42a2a"/>
<path d="M287.8 185.2 L287.4 181.3 L283.6 180.6" stroke="#d86060" stroke-width="1.11" fill="none"/><circle cx="287.8" cy="185.2" r="1.11" fill="#f4e4e4"/><circle cx="283.6" cy="180.6" r="1.11" fill="#f4e4e4"/><circle cx="287.4" cy="181.3" r="2.02" fill="#d42a2a"/>
<path d="M336.2 189.7 L333.1 192.1 L334.6 195.8" stroke="#d86060" stroke-width="1.14" fill="none"/><circle cx="336.2" cy="189.7" r="1.14" fill="#f4e4e4"/><circle cx="334.6" cy="195.8" r="1.14" fill="#f4e4e4"/><circle cx="333.1" cy="192.1" r="2.08" fill="#d42a2a"/>
<path d="M330.7 223.6 L331.1 227.1 L334.6 227.6" stroke="#d86060" stroke-width="1.02" fill="none"/><circle cx="330.7" cy="223.6" r="1.02" fill="#f4e4e4"/><circle cx="334.6" cy="227.6" r="1.02" fill="#f4e4e4"/><circle cx="331.1" cy="227.1" r="1.85" fill="#d42a2a"/>
<path d="M283.6 212.6 L282.4 209.0 L278.6 209.1" stroke="#d86060" stroke-width="1.10" fill="none"/><circle cx="283.6" cy="212.6" r="1.10" fill="#f4e4e4"/><circle cx="278.6" cy="209.1" r="1.10" fill="#f4e4e4"/><circle cx="282.4" cy="209.0" r="2.00" fill="#d42a2a"/>
<path d="M341.9 237.4 L344.1 234.9 L342.3 232.1" stroke="#d86060" stroke-width="0.96" fill="none"/><circle cx="341.9" cy="237.4" r="0.96" fill="#f4e4e4"/><circle cx="342.3" cy="232.1" r="0.96" fill="#f4e4e4"/><circle cx="344.1" cy="234.9" r="1.75" fill="#d42a2a"/>
<path d="M304.7 205.9 L307.8 203.3 L306.1 199.7" stroke="#d86060" stroke-width="1.15" fill="none"/><circle cx="304.7" cy="205.9" r="1.15" fill="#f4e4e4"/><circle cx="306.1" cy="199.7" r="1.15" fill="#f4e4e4"/><circle cx="307.8" cy="203.3" r="2.10" fill="#d42a2a"/>
<path d="M278.7 184.7 L275.1 184.9 L274.2 188.4" stroke="#d86060" stroke-width="1.06" fill="none"/><circle cx="278.7" cy="184.7" r="1.06" fill="#f4e4e4"/><circle cx="274.2" cy="188.4" r="1.06" fill="#f4e4e4"/><circle cx="275.1" cy="184.9" r="1.93" fill="#d42a2a"/>
<path d="M311.2 206.5 L311.2 210.0 L314.5 210.9" stroke="#d86060" stroke-width="1.01" fill="none"/><circle cx="311.2" cy="206.5" r="1.01" fill="#f4e4e4"/><circle cx="314.5" cy="210.9" r="1.01" fill="#f4e4e4"/><circle cx="311.2" cy="210.0" r="1.83" fill="#d42a2a"/>
<path d="M287.6 214.9 L290.1 217.4 L293.1 215.6" stroke="#d86060" stroke-width="1.01" fill="none"/><circle cx="287.6" cy="214.9" r="1.01" fill="#f4e4e4"/><circle cx="293.1" cy="215.6" r="1.01" fill="#f4e4e4"/><circle cx="290.1" cy="217.4" r="1.83" fill="#d42a2a"/>
<path d="M289.8 188.3 L286.9 189.7 L287.5 192.9" stroke="#d86060" stroke-width="0.94" fill="none"/><circle cx="289.8" cy="188.3" r="0.94" fill="#f4e4e4"/><circle cx="287.5" cy="192.9" r="0.94" fill="#f4e4e4"/><circle cx="286.9" cy="189.7" r="1.71" fill="#d42a2a"/>
<path d="M302.2 218.6 L299.7 216.6 L297.1 218.5" stroke="#d86060" stroke-width="0.93" fill="none"/><circle cx="302.2" cy="218.6" r="0.93" fill="#f4e4e4"/><circle cx="297.1" cy="218.5" r="0.93" fill="#f4e4e4"/><circle cx="299.7" cy="216.6" r="1.68" fill="#d42a2a"/>
<path d="M275.4 232.9 L278.1 230.3 L276.2 227.0" stroke="#d86060" stroke-width="1.08" fill="none"/><circle cx="275.4" cy="232.9" r="1.08" fill="#f4e4e4"/><circle cx="276.2" cy="227.0" r="1.08" fill="#f4e4e4"/><circle cx="278.1" cy="230.3" r="1.97" fill="#d42a2a"/>
<path d="M329.4 220.6 L325.6 221.6 L325.6 225.5" stroke="#d86060" stroke-width="1.12" fill="none"/><circle cx="329.4" cy="220.6" r="1.12" fill="#f4e4e4"/><circle cx="325.6" cy="225.5" r="1.12" fill="#f4e4e4"/><circle cx="325.6" cy="221.6" r="2.04" fill="#d42a2a"/>
<path d="M301.0 239.2 L304.3 241.3 L307.3 238.7" stroke="#d86060" stroke-width="1.14" fill="none"/><circle cx="301.0" cy="239.2" r="1.14" fill="#f4e4e4"/><circle cx="307.3" cy="238.7" r="1.14" fill="#f4e4e4"/><circle cx="304.3" cy="241.3" r="2.08" fill="#d42a2a"/>
<path d="M341.1 213.2 L341.0 209.9 L337.8 209.1" stroke="#d86060" stroke-width="0.95" fill="none"/><circle cx="341.1" cy="213.2" r="0.95" fill="#f4e4e4"/><circle cx="337.8" cy="209.1" r="0.95" fill="#f4e4e4"/><circle cx="341.0" cy="209.9" r="1.73" fill="#d42a2a"/>
<path d="M341.5 186.5 L340.5 189.2 L342.8 190.9" stroke="#d86060" stroke-width="0.85" fill="none"/><circle cx="341.5" cy="186.5" r="0.85" fill="#f4e4e4"/><circle cx="342.8" cy="190.9" r="0.85" fill="#f4e4e4"/><circle cx="340.5" cy="189.2" r="1.54" fill="#d42a2a"/>
<path d="M336.2 210.7 L332.6 209.4 L330.4 212.6" stroke="#d86060" stroke-width="1.10" fill="none"/><circle cx="336.2" cy="210.7" r="1.10" fill="#f4e4e4"/><circle cx="330.4" cy="212.6" r="1.10" fill="#f4e4e4"/><circle cx="332.6" cy="209.4" r="2.00" fill="#d42a2a"/>
<path d="M294.5 200.2 L292.9 197.3 L289.6 198.0" stroke="#d86060" stroke-width="0.96" fill="none"/><circle cx="294.5" cy="200.2" r="0.96" fill="#f4e4e4"/><circle cx="289.6" cy="198.0" r="0.96" fill="#f4e4e4"/><circle cx="292.9" cy="197.3" r="1.75" fill="#d42a2a"/>
<path d="M282.2 199.9 L278.3 200.3 L277.7 204.1" stroke="#d86060" stroke-width="1.12" fill="none"/><circle cx="282.2" cy="199.9" r="1.12" fill="#f4e4e4"/><circle cx="277.7" cy="204.1" r="1.12" fill="#f4e4e4"/><circle cx="278.3" cy="200.3" r="2.04" fill="#d42a2a"/>
<path d="M333.5 208.4 L330.4 209.2 L330.4 212.3" stroke="#d86060" stroke-width="0.91" fill="none"/><circle cx="333.5" cy="208.4" r="0.91" fill="#f4e4e4"/><circle cx="330.4" cy="212.3" r="0.91" fill="#f4e4e4"/><circle cx="330.4" cy="209.2" r="1.65" fill="#d42a2a"/>
<path d="M314.2 227.7 L313.5 224.9 L310.6 224.8" stroke="#d86060" stroke-width="0.83" fill="none"/><circle cx="314.2" cy="227.7" r="0.83" fill="#f4e4e4"/><circle cx="310.6" cy="224.8" r="0.83" fill="#f4e4e4"/><circle cx="313.5" cy="224.9" r="1.52" fill="#d42a2a"/>
<path d="M334.4 226.8 L337.5 229.1 L340.6 226.8" stroke="#d86060" stroke-width="1.12" fill="none"/><circle cx="334.4" cy="226.8" r="1.12" fill="#f4e4e4"/><circle cx="340.6" cy="226.8" r="1.12" fill="#f4e4e4"/><circle cx="337.5" cy="229.1" r="2.03" fill="#d42a2a"/>
<path d="M304.4 219.2 L305.8 215.6 L302.8 213.3" stroke="#d86060" stroke-width="1.11" fill="none"/><circle cx="304.4" cy="219.2" r="1.11" fill="#f4e4e4"/><circle cx="302.8" cy="213.3" r="1.11" fill="#f4e4e4"/><circle cx="305.8" cy="215.6" r="2.01" fill="#d42a2a"/>
<path d="M317.9 196.6 L314.1 196.4 L312.9 199.9" stroke="#d86060" stroke-width="1.08" fill="none"/><circle cx="317.9" cy="196.6" r="1.08" fill="#f4e4e4"/><circle cx="312.9" cy="199.9" r="1.08" fill="#f4e4e4"/><circle cx="314.1" cy="196.4" r="1.96" fill="#d42a2a"/>
<path d="M323.4 237.5 L325.8 239.1 L328.0 237.2" stroke="#d86060" stroke-width="0.83" fill="none"/><circle cx="323.4" cy="237.5" r="0.83" fill="#f4e4e4"/><circle cx="328.0" cy="237.2" r="0.83" fill="#f4e4e4"/><circle cx="325.8" cy="239.1" r="1.51" fill="#d42a2a"/>
<path d="M322.4 236.2 L322.6 232.7 L319.2 231.5" stroke="#d86060" stroke-width="1.02" fill="none"/><circle cx="322.4" cy="236.2" r="1.02" fill="#f4e4e4"/><circle cx="319.2" cy="231.5" r="1.02" fill="#f4e4e4"/><circle cx="322.6" cy="232.7" r="1.85" fill="#d42a2a"/>
<path d="M306.8 242.3 L304.2 239.4 L300.7 241.1" stroke="#d86060" stroke-width="1.12" fill="none"/><circle cx="306.8" cy="242.3" r="1.12" fill="#f4e4e4"/><circle cx="300.7" cy="241.1" r="1.12" fill="#f4e4e4"/><circle cx="304.2" cy="239.4" r="2.04" fill="#d42a2a"/>
<path d="M277.6 185.9 L280.3 184.9 L280.1 182.0" stroke="#d86060" stroke-width="0.83" fill="none"/><circle cx="277.6" cy="185.9" r="0.83" fill="#f4e4e4"/><circle cx="280.1" cy="182.0" r="0.83" fill="#f4e4e4"/><circle cx="280.3" cy="184.9" r="1.52" fill="#d42a2a"/>
<path d="M286.4 236.2 L283.8 233.6 L280.7 235.4" stroke="#d86060" stroke-width="1.04" fill="none"/><circle cx="286.4" cy="236.2" r="1.04" fill="#f4e4e4"/><circle cx="280.7" cy="235.4" r="1.04" fill="#f4e4e4"/><circle cx="283.8" cy="233.6" r="1.89" fill="#d42a2a"/>
<path d="M315.1 202.8 L314.5 199.4 L311.1 199.1" stroke="#d86060" stroke-width="0.99" fill="none"/><circle cx="315.1" cy="202.8" r="0.99" fill="#f4e4e4"/><circle cx="311.1" cy="199.1" r="0.99" fill="#f4e4e4"/><circle cx="314.5" cy="199.4" r="1.80" fill="#d42a2a"/>
<path d="M285.0 187.4 L285.8 190.6 L289.1 190.7" stroke="#d86060" stroke-width="0.95" fill="none"/><circle cx="285.0" cy="187.4" r="0.95" fill="#f4e4e4"/><circle cx="289.1" cy="190.7" r="0.95" fill="#f4e4e4"/><circle cx="285.8" cy="190.6" r="1.73" fill="#d42a2a"/>
<path d="M317.9 179.3 L315.4 181.9 L317.2 185.1" stroke="#d86060" stroke-width="1.06" fill="none"/><circle cx="317.9" cy="179.3" r="1.06" fill="#f4e4e4"/><circle cx="317.2" cy="185.1" r="1.06" fill="#f4e4e4"/><circle cx="315.4" cy="181.9" r="1.93" fill="#d42a2a"/>
<path d="M329.8 229.5 L332.6 228.8 L332.8 226.0" stroke="#d86060" stroke-width="0.83" fill="none"/><circle cx="329.8" cy="229.5" r="0.83" fill="#f4e4e4"/><circle cx="332.8" cy="226.0" r="0.83" fill="#f4e4e4"/><circle cx="332.6" cy="228.8" r="1.50" fill="#d42a2a"/>
<path d="M277.2 224.2 L277.9 227.1 L280.9 227.2" stroke="#d86060" stroke-width="0.88" fill="none"/><circle cx="277.2" cy="224.2" r="0.88" fill="#f4e4e4"/><circle cx="280.9" cy="227.2" r="0.88" fill="#f4e4e4"/><circle cx="277.9" cy="227.1" r="1.61" fill="#d42a2a"/>
<path d="M295.6 223.7 L292.5 222.9 L290.8 225.6" stroke="#d86060" stroke-width="0.93" fill="none"/><circle cx="295.6" cy="223.7" r="0.93" fill="#f4e4e4"/><circle cx="290.8" cy="225.6" r="0.93" fill="#f4e4e4"/><circle cx="292.5" cy="222.9" r="1.69" fill="#d42a2a"/>
<path d="M301.9 202.2 L302.9 198.5 L299.7 196.4" stroke="#d86060" stroke-width="1.12" fill="none"/><circle cx="301.9" cy="202.2" r="1.12" fill="#f4e4e4"/><circle cx="299.7" cy="196.4" r="1.12" fill="#f4e4e4"/><circle cx="302.9" cy="198.5" r="2.04" fill="#d42a2a"/>
<path d="M314.9 215.9 L311.7 213.6 L308.7 216.1" stroke="#d86060" stroke-width="1.14" fill="none"/><circle cx="314.9" cy="215.9" r="1.14" fill="#f4e4e4"/><circle cx="308.7" cy="216.1" r="1.14" fill="#f4e4e4"/><circle cx="311.7" cy="213.6" r="2.07" fill="#d42a2a"/>
<path d="M322.9 210.3 L319.3 211.0 L319.0 214.7" stroke="#d86060" stroke-width="1.07" fill="none"/><circle cx="322.9" cy="210.3" r="1.07" fill="#f4e4e4"/><circle cx="319.0" cy="214.7" r="1.07" fill="#f4e4e4"/><circle cx="319.3" cy="211.0" r="1.94" fill="#d42a2a"/>
<path d="M293.7 221.8 L296.9 223.1 L299.0 220.3" stroke="#d86060" stroke-width="1.00" fill="none"/><circle cx="293.7" cy="221.8" r="1.00" fill="#f4e4e4"/><circle cx="299.0" cy="220.3" r="1.00" fill="#f4e4e4"/><circle cx="296.9" cy="223.1" r="1.82" fill="#d42a2a"/>
<path d="M275.5 233.5 L277.9 230.3 L275.6 227.1" stroke="#d86060" stroke-width="1.15" fill="none"/><circle cx="275.5" cy="233.5" r="1.15" fill="#f4e4e4"/><circle cx="275.6" cy="227.1" r="1.15" fill="#f4e4e4"/><circle cx="277.9" cy="230.3" r="2.09" fill="#d42a2a"/>
<path d="M300.1 242.9 L297.5 241.6 L295.5 243.7" stroke="#d86060" stroke-width="0.86" fill="none"/><circle cx="300.1" cy="242.9" r="0.86" fill="#f4e4e4"/><circle cx="295.5" cy="243.7" r="0.86" fill="#f4e4e4"/><circle cx="297.5" cy="241.6" r="1.56" fill="#d42a2a"/>
<path d="M275.1 231.5 L278.6 230.3 L278.5 226.6" stroke="#d86060" stroke-width="1.08" fill="none"/><circle cx="275.1" cy="231.5" r="1.08" fill="#f4e4e4"/><circle cx="278.5" cy="226.6" r="1.08" fill="#f4e4e4"/><circle cx="278.6" cy="230.3" r="1.96" fill="#d42a2a"/>
<path d="M317.5 181.5 L320.8 180.2 L320.6 176.7" stroke="#d86060" stroke-width="1.04" fill="none"/><circle cx="317.5" cy="181.5" r="1.04" fill="#f4e4e4"/><circle cx="320.6" cy="176.7" r="1.04" fill="#f4e4e4"/><circle cx="320.8" cy="180.2" r="1.89" fill="#d42a2a"/>
<path d="M313.3 206.8 L312.8 203.5 L309.6 203.1" stroke="#d86060" stroke-width="0.96" fill="none"/><circle cx="313.3" cy="206.8" r="0.96" fill="#f4e4e4"/><circle cx="309.6" cy="203.1" r="0.96" fill="#f4e4e4"/><circle cx="312.8" cy="203.5" r="1.74" fill="#d42a2a"/>
<path d="M275.9 203.3 L276.8 206.3 L279.9 206.3" stroke="#d86060" stroke-width="0.91" fill="none"/><circle cx="275.9" cy="203.3" r="0.91" fill="#f4e4e4"/><circle cx="279.9" cy="206.3" r="0.91" fill="#f4e4e4"/><circle cx="276.8" cy="206.3" r="1.65" fill="#d42a2a"/>
<path d="M336.2 228.0 L335.9 224.6 L332.6 223.9" stroke="#d86060" stroke-width="0.98" fill="none"/><circle cx="336.2" cy="228.0" r="0.98" fill="#f4e4e4"/><circle cx="332.6" cy="223.9" r="0.98" fill="#f4e4e4"/><circle cx="335.9" cy="224.6" r="1.77" fill="#d42a2a"/>
<path d="M306.2 208.8 L302.7 209.7 L302.5 213.2" stroke="#d86060" stroke-width="1.03" fill="none"/><circle cx="306.2" cy="208.8" r="1.03" fill="#f4e4e4"/><circle cx="302.5" cy="213.2" r="1.03" fill="#f4e4e4"/><circle cx="302.7" cy="209.7" r="1.88" fill="#d42a2a"/>
<path d="M278.9 205.9 L279.6 209.2 L283.0 209.5" stroke="#d86060" stroke-width="0.99" fill="none"/><circle cx="278.9" cy="205.9" r="0.99" fill="#f4e4e4"/><circle cx="283.0" cy="209.5" r="0.99" fill="#f4e4e4"/><circle cx="279.6" cy="209.2" r="1.80" fill="#d42a2a"/>
<path d="M341.8 224.6 L341.6 228.1 L344.9 229.3" stroke="#d86060" stroke-width="1.03" fill="none"/><circle cx="341.8" cy="224.6" r="1.03" fill="#f4e4e4"/><circle cx="344.9" cy="229.3" r="1.03" fill="#f4e4e4"/><circle cx="341.6" cy="228.1" r="1.88" fill="#d42a2a"/>
<path d="M322.9 229.8 L324.4 233.1 L328.0 232.6" stroke="#d86060" stroke-width="1.06" fill="none"/><circle cx="322.9" cy="229.8" r="1.06" fill="#f4e4e4"/><circle cx="328.0" cy="232.6" r="1.06" fill="#f4e4e4"/><circle cx="324.4" cy="233.1" r="1.92" fill="#d42a2a"/>
<path d="M289.4 234.6 L291.9 236.8 L294.7 235.0" stroke="#d86060" stroke-width="0.95" fill="none"/><circle cx="289.4" cy="234.6" r="0.95" fill="#f4e4e4"/><circle cx="294.7" cy="235.0" r="0.95" fill="#f4e4e4"/><circle cx="291.9" cy="236.8" r="1.73" fill="#d42a2a"/>
<path d="M340.5 239.9 L336.5 239.7 L335.3 243.5" stroke="#d86060" stroke-width="1.15" fill="none"/><circle cx="340.5" cy="239.9" r="1.15" fill="#f4e4e4"/><circle cx="335.3" cy="243.5" r="1.15" fill="#f4e4e4"/><circle cx="336.5" cy="239.7" r="2.09" fill="#d42a2a"/>
<path d="M299.1 201.2 L297.1 198.6 L294.0 199.9" stroke="#d86060" stroke-width="0.95" fill="none"/><circle cx="299.1" cy="201.2" r="0.95" fill="#f4e4e4"/><circle cx="294.0" cy="199.9" r="0.95" fill="#f4e4e4"/><circle cx="297.1" cy="198.6" r="1.73" fill="#d42a2a"/>
<path d="M318.6 182.9 L315.6 184.0 L315.8 187.2" stroke="#d86060" stroke-width="0.92" fill="none"/><circle cx="318.6" cy="182.9" r="0.92" fill="#f4e4e4"/><circle cx="315.8" cy="187.2" r="0.92" fill="#f4e4e4"/><circle cx="315.6" cy="184.0" r="1.68" fill="#d42a2a"/>
<path d="M333.0 207.3 L330.2 208.1 L330.2 211.1" stroke="#d86060" stroke-width="0.86" fill="none"/><circle cx="333.0" cy="207.3" r="0.86" fill="#f4e4e4"/><circle cx="330.2" cy="211.1" r="0.86" fill="#f4e4e4"/><circle cx="330.2" cy="208.1" r="1.56" fill="#d42a2a"/>
<path d="M325.2 189.5 L327.2 192.0 L330.2 190.7" stroke="#d86060" stroke-width="0.94" fill="none"/><circle cx="325.2" cy="189.5" r="0.94" fill="#f4e4e4"/><circle cx="330.2" cy="190.7" r="0.94" fill="#f4e4e4"/><circle cx="327.2" cy="192.0" r="1.70" fill="#d42a2a"/>
<path d="M323.8 199.0 L325.5 195.4 L322.6 192.8" stroke="#d86060" stroke-width="1.14" fill="none"/><circle cx="323.8" cy="199.0" r="1.14" fill="#f4e4e4"/><circle cx="322.6" cy="192.8" r="1.14" fill="#f4e4e4"/><circle cx="325.5" cy="195.4" r="2.07" fill="#d42a2a"/>
<path d="M291.3 229.5 L292.6 232.3 L295.6 231.8" stroke="#d86060" stroke-width="0.88" fill="none"/><circle cx="291.3" cy="229.5" r="0.88" fill="#f4e4e4"/><circle cx="295.6" cy="231.8" r="0.88" fill="#f4e4e4"/><circle cx="292.6" cy="232.3" r="1.59" fill="#d42a2a"/>
<path d="M286.1 218.9 L288.4 216.7 L286.9 213.9" stroke="#d86060" stroke-width="0.92" fill="none"/><circle cx="286.1" cy="218.9" r="0.92" fill="#f4e4e4"/><circle cx="286.9" cy="213.9" r="0.92" fill="#f4e4e4"/><circle cx="288.4" cy="216.7" r="1.67" fill="#d42a2a"/>
<path d="M343.0 206.2 L345.4 208.4 L348.3 206.7" stroke="#d86060" stroke-width="0.97" fill="none"/><circle cx="343.0" cy="206.2" r="0.97" fill="#f4e4e4"/><circle cx="348.3" cy="206.7" r="0.97" fill="#f4e4e4"/><circle cx="345.4" cy="208.4" r="1.76" fill="#d42a2a"/>
<path d="M294.1 193.2 L294.6 190.0 L291.6 188.6" stroke="#d86060" stroke-width="0.95" fill="none"/><circle cx="294.1" cy="193.2" r="0.95" fill="#f4e4e4"/><circle cx="291.6" cy="188.6" r="0.95" fill="#f4e4e4"/><circle cx="294.6" cy="190.0" r="1.73" fill="#d42a2a"/>
<path d="M288.6 236.8 L287.5 239.5 L289.8 241.3" stroke="#d86060" stroke-width="0.84" fill="none"/><circle cx="288.6" cy="236.8" r="0.84" fill="#f4e4e4"/><circle cx="289.8" cy="241.3" r="0.84" fill="#f4e4e4"/><circle cx="287.5" cy="239.5" r="1.52" fill="#d42a2a"/>
<path d="M342.1 223.4 L345.0 223.4 L345.8 220.6" stroke="#d86060" stroke-width="0.83" fill="none"/><circle cx="342.1" cy="223.4" r="0.83" fill="#f4e4e4"/><circle cx="345.8" cy="220.6" r="0.83" fill="#f4e4e4"/><circle cx="345.0" cy="223.4" r="1.51" fill="#d42a2a"/>
<path d="M276.2 220.9 L276.0 217.3 L272.5 216.5" stroke="#d86060" stroke-width="1.06" fill="none"/><circle cx="276.2" cy="220.9" r="1.06" fill="#f4e4e4"/><circle cx="272.5" cy="216.5" r="1.06" fill="#f4e4e4"/><circle cx="276.0" cy="217.3" r="1.92" fill="#d42a2a"/>
<path d="M272.5 216.1 L273.6 213.3 L271.2 211.5" stroke="#d86060" stroke-width="0.86" fill="none"/><circle cx="272.5" cy="216.1" r="0.86" fill="#f4e4e4"/><circle cx="271.2" cy="211.5" r="0.86" fill="#f4e4e4"/><circle cx="273.6" cy="213.3" r="1.56" fill="#d42a2a"/>
<path d="M310.1 237.8 L308.0 235.4 L305.0 236.8" stroke="#d86060" stroke-width="0.95" fill="none"/><circle cx="310.1" cy="237.8" r="0.95" fill="#f4e4e4"/><circle cx="305.0" cy="236.8" r="0.95" fill="#f4e4e4"/><circle cx="308.0" cy="235.4" r="1.72" fill="#d42a2a"/>
<path d="M337.3 231.9 L334.0 230.8 L332.0 233.7" stroke="#d86060" stroke-width="1.00" fill="none"/><circle cx="337.3" cy="231.9" r="1.00" fill="#f4e4e4"/><circle cx="332.0" cy="233.7" r="1.00" fill="#f4e4e4"/><circle cx="334.0" cy="230.8" r="1.82" fill="#d42a2a"/>
<path d="M288.0 207.8 L287.4 204.4 L284.0 204.0" stroke="#d86060" stroke-width="1.01" fill="none"/><circle cx="288.0" cy="207.8" r="1.01" fill="#f4e4e4"/><circle cx="284.0" cy="204.0" r="1.01" fill="#f4e4e4"/><circle cx="287.4" cy="204.4" r="1.83" fill="#d42a2a"/>
<path d="M337.7 229.5 L334.8 232.1 L336.5 235.7" stroke="#d86060" stroke-width="1.13" fill="none"/><circle cx="337.7" cy="229.5" r="1.13" fill="#f4e4e4"/><circle cx="336.5" cy="235.7" r="1.13" fill="#f4e4e4"/><circle cx="334.8" cy="232.1" r="2.06" fill="#d42a2a"/>
<path d="M276.7 213.9 L274.4 215.7 L275.4 218.4" stroke="#d86060" stroke-width="0.85" fill="none"/><circle cx="276.7" cy="213.9" r="0.85" fill="#f4e4e4"/><circle cx="275.4" cy="218.4" r="0.85" fill="#f4e4e4"/><circle cx="274.4" cy="215.7" r="1.55" fill="#d42a2a"/>
<path d="M333.4 228.0 L330.5 226.8 L328.6 229.3" stroke="#d86060" stroke-width="0.89" fill="none"/><circle cx="333.4" cy="228.0" r="0.89" fill="#f4e4e4"/><circle cx="328.6" cy="229.3" r="0.89" fill="#f4e4e4"/><circle cx="330.5" cy="226.8" r="1.61" fill="#d42a2a"/>
<path d="M332.3 217.9 L335.8 217.2 L336.1 213.7" stroke="#d86060" stroke-width="1.03" fill="none"/><circle cx="332.3" cy="217.9" r="1.03" fill="#f4e4e4"/><circle cx="336.1" cy="213.7" r="1.03" fill="#f4e4e4"/><circle cx="335.8" cy="217.2" r="1.87" fill="#d42a2a"/>
<path d="M332.7 202.8 L334.6 200.3 L332.7 197.8" stroke="#d86060" stroke-width="0.91" fill="none"/><circle cx="332.7" cy="202.8" r="0.91" fill="#f4e4e4"/><circle cx="332.7" cy="197.8" r="0.91" fill="#f4e4e4"/><circle cx="334.6" cy="200.3" r="1.66" fill="#d42a2a"/>
<path d="M299.4 220.2 L295.9 218.5 L293.4 221.4" stroke="#d86060" stroke-width="1.12" fill="none"/><circle cx="299.4" cy="220.2" r="1.12" fill="#f4e4e4"/><circle cx="293.4" cy="221.4" r="1.12" fill="#f4e4e4"/><circle cx="295.9" cy="218.5" r="2.03" fill="#d42a2a"/>
<path d="M279.5 214.6 L278.2 211.2 L274.6 211.6" stroke="#d86060" stroke-width="1.05" fill="none"/><circle cx="279.5" cy="214.6" r="1.05" fill="#f4e4e4"/><circle cx="274.6" cy="211.6" r="1.05" fill="#f4e4e4"/><circle cx="278.2" cy="211.2" r="1.91" fill="#d42a2a"/>
<path d="M290.9 182.8 L293.8 182.7 L294.5 179.9" stroke="#d86060" stroke-width="0.84" fill="none"/><circle cx="290.9" cy="182.8" r="0.84" fill="#f4e4e4"/><circle cx="294.5" cy="179.9" r="0.84" fill="#f4e4e4"/><circle cx="293.8" cy="182.7" r="1.52" fill="#d42a2a"/>
<circle cx="324.7" cy="219.5" r="1.9" fill="#e6d23a"/>
<circle cx="286.5" cy="187.1" r="1.9" fill="#e6d23a"/>
<circle cx="343.0" cy="212.8" r="1.9" fill="#e6d23a"/>
<circle cx="304.8" cy="221.8" r="1.9" fill="#e6d23a"/>
<circle cx="328.1" cy="212.0" r="1.9" fill="#e6d23a"/>
<circle cx="280.7" cy="229.8" r="1.9" fill="#e6d23a"/>
<circle cx="316" cy="199.2" r="2.3" fill="#808080"/>
<circle cx="316" cy="199.2" r="9.6" fill="none" stroke="#8e8e78" stroke-width="0.5"/>
<circle cx="323.2" cy="222" r="2.3" fill="#808080"/>
<circle cx="323.2" cy="222" r="11" fill="none" stroke="#8e8e78" stroke-width="0.5"/>
<circle cx="298" cy="186" r="2.3" fill="#808080"/>
<circle cx="298" cy="186" r="8" fill="none" stroke="#8e8e78" stroke-width="0.5"/>
<circle cx="289" cy="236" r="2.3" fill="#808080"/>
<circle cx="289" cy="236" r="0" fill="none" stroke="#8e8e78" stroke-width="0.5"/>
<g stroke="#c4c4c4" stroke-width="0.45" fill="none"><rect x="265.6" y="271.2" width="68.39999999999998" height="69.5"/><rect x="280" y="266.4" width="74.30000000000001" height="68.30000000000001"/><path d="M265.6 271.2 L280 266.4 M334 271.2 L354.3 266.4 M265.6 340.7 L280 334.7 M334 340.7 L354.3 334.7"/></g>
<path d="M350.5 279.4 L347.6 279.4 L346.8 282.2" stroke="#d86060" stroke-width="0.83" fill="none"/><circle cx="350.5" cy="279.4" r="0.83" fill="#f4e4e4"/><circle cx="346.8" cy="282.2" r="0.83" fill="#f4e4e4"/><circle cx="347.6" cy="279.4" r="1.51" fill="#d42a2a"/>
<path d="M282.9 281.0 L284.9 278.1 L282.6 275.3" stroke="#d86060" stroke-width="1.04" fill="none"/><circle cx="282.9" cy="281.0" r="1.04" fill="#f4e4e4"/><circle cx="282.6" cy="275.3" r="1.04" fill="#f4e4e4"/><circle cx="284.9" cy="278.1" r="1.89" fill="#d42a2a"/>
<path d="M340.4 289.1 L342.1 285.5 L339.1 282.9" stroke="#d86060" stroke-width="1.14" fill="none"/><circle cx="340.4" cy="289.1" r="1.14" fill="#f4e4e4"/><circle cx="339.1" cy="282.9" r="1.14" fill="#f4e4e4"/><circle cx="342.1" cy="285.5" r="2.08" fill="#d42a2a"/>
<path d="M321.9 330.8 L318.7 332.4 L319.4 336.0" stroke="#d86060" stroke-width="1.05" fill="none"/><circle cx="321.9" cy="330.8" r="1.05" fill="#f4e4e4"/><circle cx="319.4" cy="336.0" r="1.05" fill="#f4e4e4"/><circle cx="318.7" cy="332.4" r="1.91" fill="#d42a2a"/>
<path d="M324.1 271.2 L327.4 273.2 L330.2 270.7" stroke="#d86060" stroke-width="1.12" fill="none"/><circle cx="324.1" cy="271.2" r="1.12" fill="#f4e4e4"/><circle cx="330.2" cy="270.7" r="1.12" fill="#f4e4e4"/><circle cx="327.4" cy="273.2" r="2.03" fill="#d42a2a"/>
<path d="M291.9 280.8 L295.2 282.7 L297.9 280.1" stroke="#d86060" stroke-width="1.11" fill="none"/><circle cx="291.9" cy="280.8" r="1.11" fill="#f4e4e4"/><circle cx="297.9" cy="280.1" r="1.11" fill="#f4e4e4"/><circle cx="295.2" cy="282.7" r="2.01" fill="#d42a2a"/>
<path d="M342.4 320.3 L346.0 321.9 L348.5 318.8" stroke="#d86060" stroke-width="1.14" fill="none"/><circle cx="342.4" cy="320.3" r="1.14" fill="#f4e4e4"/><circle cx="348.5" cy="318.8" r="1.14" fill="#f4e4e4"/><circle cx="346.0" cy="321.9" r="2.08" fill="#d42a2a"/>
<path d="M329.6 310.2 L326.6 311.0 L326.5 314.2" stroke="#d86060" stroke-width="0.91" fill="none"/><circle cx="329.6" cy="310.2" r="0.91" fill="#f4e4e4"/><circle cx="326.5" cy="314.2" r="0.91" fill="#f4e4e4"/><circle cx="326.6" cy="311.0" r="1.66" fill="#d42a2a"/>
<path d="M293.0 319.1 L295.3 322.3 L299.0 321.0" stroke="#d86060" stroke-width="1.14" fill="none"/><circle cx="293.0" cy="319.1" r="1.14" fill="#f4e4e4"/><circle cx="299.0" cy="321.0" r="1.14" fill="#f4e4e4"/><circle cx="295.3" cy="322.3" r="2.07" fill="#d42a2a"/>
<path d="M283.0 328.6 L281.5 325.3 L277.9 325.8" stroke="#d86060" stroke-width="1.05" fill="none"/><circle cx="283.0" cy="328.6" r="1.05" fill="#f4e4e4"/><circle cx="277.9" cy="325.8" r="1.05" fill="#f4e4e4"/><circle cx="281.5" cy="325.3" r="1.90" fill="#d42a2a"/>
<path d="M276.6 304.3 L274.0 305.6 L274.5 308.5" stroke="#d86060" stroke-width="0.84" fill="none"/><circle cx="276.6" cy="304.3" r="0.84" fill="#f4e4e4"/><circle cx="274.5" cy="308.5" r="0.84" fill="#f4e4e4"/><circle cx="274.0" cy="305.6" r="1.52" fill="#d42a2a"/>
<path d="M309.2 301.8 L311.0 304.7 L314.2 303.7" stroke="#d86060" stroke-width="0.96" fill="none"/><circle cx="309.2" cy="301.8" r="0.96" fill="#f4e4e4"/><circle cx="314.2" cy="303.7" r="0.96" fill="#f4e4e4"/><circle cx="311.0" cy="304.7" r="1.75" fill="#d42a2a"/>
<path d="M341.4 289.0 L344.2 290.6 L346.6 288.3" stroke="#d86060" stroke-width="0.95" fill="none"/><circle cx="341.4" cy="289.0" r="0.95" fill="#f4e4e4"/><circle cx="346.6" cy="288.3" r="0.95" fill="#f4e4e4"/><circle cx="344.2" cy="290.6" r="1.72" fill="#d42a2a"/>
<path d="M290.9 311.3 L294.1 309.9 L293.6 306.5" stroke="#d86060" stroke-width="1.00" fill="none"/><circle cx="290.9" cy="311.3" r="1.00" fill="#f4e4e4"/><circle cx="293.6" cy="306.5" r="1.00" fill="#f4e4e4"/><circle cx="294.1" cy="309.9" r="1.83" fill="#d42a2a"/>
<path d="M327.5 305.3 L324.5 305.4 L323.8 308.2" stroke="#d86060" stroke-width="0.85" fill="none"/><circle cx="327.5" cy="305.3" r="0.85" fill="#f4e4e4"/><circle cx="323.8" cy="308.2" r="0.85" fill="#f4e4e4"/><circle cx="324.5" cy="305.4" r="1.55" fill="#d42a2a"/>
<path d="M301.8 297.5 L298.8 298.9 L299.4 302.2" stroke="#d86060" stroke-width="0.96" fill="none"/><circle cx="301.8" cy="297.5" r="0.96" fill="#f4e4e4"/><circle cx="299.4" cy="302.2" r="0.96" fill="#f4e4e4"/><circle cx="298.8" cy="298.9" r="1.74" fill="#d42a2a"/>
<path d="M349.8 306.2 L347.1 304.3 L344.6 306.4" stroke="#d86060" stroke-width="0.96" fill="none"/><circle cx="349.8" cy="306.2" r="0.96" fill="#f4e4e4"/><circle cx="344.6" cy="306.4" r="0.96" fill="#f4e4e4"/><circle cx="347.1" cy="304.3" r="1.74" fill="#d42a2a"/>
<path d="M340.5 284.3 L342.5 281.5 L340.4 278.8" stroke="#d86060" stroke-width="1.01" fill="none"/><circle cx="340.5" cy="284.3" r="1.01" fill="#f4e4e4"/><circle cx="340.4" cy="278.8" r="1.01" fill="#f4e4e4"/><circle cx="342.5" cy="281.5" r="1.83" fill="#d42a2a"/>
<path d="M299.6 294.6 L296.6 293.9 L295.1 296.6" stroke="#d86060" stroke-width="0.89" fill="none"/><circle cx="299.6" cy="294.6" r="0.89" fill="#f4e4e4"/><circle cx="295.1" cy="296.6" r="0.89" fill="#f4e4e4"/><circle cx="296.6" cy="293.9" r="1.61" fill="#d42a2a"/>
<path d="M314.4 326.7 L313.4 323.3 L309.8 323.4" stroke="#d86060" stroke-width="1.04" fill="none"/><circle cx="314.4" cy="326.7" r="1.04" fill="#f4e4e4"/><circle cx="309.8" cy="323.4" r="1.04" fill="#f4e4e4"/><circle cx="313.4" cy="323.3" r="1.89" fill="#d42a2a"/>
<path d="M327.7 270.6 L326.2 273.5 L328.6 275.8" stroke="#d86060" stroke-width="0.96" fill="none"/><circle cx="327.7" cy="270.6" r="0.96" fill="#f4e4e4"/><circle cx="328.6" cy="275.8" r="0.96" fill="#f4e4e4"/><circle cx="326.2" cy="273.5" r="1.75" fill="#d42a2a"/>
<path d="M340.8 300.9 L344.6 300.9 L345.6 297.2" stroke="#d86060" stroke-width="1.10" fill="none"/><circle cx="340.8" cy="300.9" r="1.10" fill="#f4e4e4"/><circle cx="345.6" cy="297.2" r="1.10" fill="#f4e4e4"/><circle cx="344.6" cy="300.9" r="2.01" fill="#d42a2a"/>
<path d="M312.3 305.2 L312.4 309.2 L316.3 310.1" stroke="#d86060" stroke-width="1.15" fill="none"/><circle cx="312.3" cy="305.2" r="1.15" fill="#f4e4e4"/><circle cx="316.3" cy="310.1" r="1.15" fill="#f4e4e4"/><circle cx="312.4" cy="309.2" r="2.09" fill="#d42a2a"/>
<path d="M306.1 321.6 L308.3 318.7 L306.2 315.9" stroke="#d86060" stroke-width="1.04" fill="none"/><circle cx="306.1" cy="321.6" r="1.04" fill="#f4e4e4"/><circle cx="306.2" cy="315.9" r="1.04" fill="#f4e4e4"/><circle cx="308.3" cy="318.7" r="1.89" fill="#d42a2a"/>
<path d="M336.8 323.7 L333.5 324.9 L333.8 328.5" stroke="#d86060" stroke-width="1.03" fill="none"/><circle cx="336.8" cy="323.7" r="1.03" fill="#f4e4e4"/><circle cx="333.8" cy="328.5" r="1.03" fill="#f4e4e4"/><circle cx="333.5" cy="324.9" r="1.87" fill="#d42a2a"/>
<path d="M269.5 306.5 L271.5 303.5 L269.1 300.8" stroke="#d86060" stroke-width="1.03" fill="none"/><circle cx="269.5" cy="306.5" r="1.03" fill="#f4e4e4"/><circle cx="269.1" cy="300.8" r="1.03" fill="#f4e4e4"/><circle cx="271.5" cy="303.5" r="1.88" fill="#d42a2a"/>
<path d="M283.5 319.7 L283.9 316.4 L280.8 315.1" stroke="#d86060" stroke-width="0.97" fill="none"/><circle cx="283.5" cy="319.7" r="0.97" fill="#f4e4e4"/><circle cx="280.8" cy="315.1" r="0.97" fill="#f4e4e4"/><circle cx="283.9" cy="316.4" r="1.76" fill="#d42a2a"/>
<path d="M275.8 337.0 L273.4 334.8 L270.6 336.5" stroke="#d86060" stroke-width="0.94" fill="none"/><circle cx="275.8" cy="337.0" r="0.94" fill="#f4e4e4"/><circle cx="270.6" cy="336.5" r="0.94" fill="#f4e4e4"/><circle cx="273.4" cy="334.8" r="1.71" fill="#d42a2a"/>
<path d="M289.1 290.6 L287.5 287.1 L283.7 287.7" stroke="#d86060" stroke-width="1.11" fill="none"/><circle cx="289.1" cy="290.6" r="1.11" fill="#f4e4e4"/><circle cx="283.7" cy="287.7" r="1.11" fill="#f4e4e4"/><circle cx="287.5" cy="287.1" r="2.02" fill="#d42a2a"/>
<path d="M293.3 279.8 L292.4 276.5 L289.0 276.5" stroke="#d86060" stroke-width="0.98" fill="none"/><circle cx="293.3" cy="279.8" r="0.98" fill="#f4e4e4"/><circle cx="289.0" cy="276.5" r="0.98" fill="#f4e4e4"/><circle cx="292.4" cy="276.5" r="1.78" fill="#d42a2a"/>
<path d="M299.8 315.9 L297.9 319.2 L300.6 322.1" stroke="#d86060" stroke-width="1.13" fill="none"/><circle cx="299.8" cy="315.9" r="1.13" fill="#f4e4e4"/><circle cx="300.6" cy="322.1" r="1.13" fill="#f4e4e4"/><circle cx="297.9" cy="319.2" r="2.06" fill="#d42a2a"/>
<path d="M276.8 296.1 L273.1 295.3 L271.3 298.7" stroke="#d86060" stroke-width="1.11" fill="none"/><circle cx="276.8" cy="296.1" r="1.11" fill="#f4e4e4"/><circle cx="271.3" cy="298.7" r="1.11" fill="#f4e4e4"/><circle cx="273.1" cy="295.3" r="2.01" fill="#d42a2a"/>
<path d="M286.5 299.5 L286.5 302.8 L289.6 303.7" stroke="#d86060" stroke-width="0.95" fill="none"/><circle cx="286.5" cy="299.5" r="0.95" fill="#f4e4e4"/><circle cx="289.6" cy="303.7" r="0.95" fill="#f4e4e4"/><circle cx="286.5" cy="302.8" r="1.73" fill="#d42a2a"/>
<path d="M328.5 304.2 L328.2 301.1 L325.1 300.6" stroke="#d86060" stroke-width="0.91" fill="none"/><circle cx="328.5" cy="304.2" r="0.91" fill="#f4e4e4"/><circle cx="325.1" cy="300.6" r="0.91" fill="#f4e4e4"/><circle cx="328.2" cy="301.1" r="1.65" fill="#d42a2a"/>
<path d="M293.5 277.4 L291.6 274.4 L288.1 275.4" stroke="#d86060" stroke-width="1.04" fill="none"/><circle cx="293.5" cy="277.4" r="1.04" fill="#f4e4e4"/><circle cx="288.1" cy="275.4" r="1.04" fill="#f4e4e4"/><circle cx="291.6" cy="274.4" r="1.90" fill="#d42a2a"/>
<path d="M339.1 313.3 L342.0 313.3 L342.8 310.5" stroke="#d86060" stroke-width="0.84" fill="none"/><circle cx="339.1" cy="313.3" r="0.84" fill="#f4e4e4"/><circle cx="342.8" cy="310.5" r="0.84" fill="#f4e4e4"/><circle cx="342.0" cy="313.3" r="1.53" fill="#d42a2a"/>
<path d="M322.2 273.5 L318.9 272.8 L317.4 275.9" stroke="#d86060" stroke-width="0.99" fill="none"/><circle cx="322.2" cy="273.5" r="0.99" fill="#f4e4e4"/><circle cx="317.4" cy="275.9" r="0.99" fill="#f4e4e4"/><circle cx="318.9" cy="272.8" r="1.79" fill="#d42a2a"/>
<path d="M335.6 269.9 L332.1 270.3 L331.4 273.8" stroke="#d86060" stroke-width="1.03" fill="none"/><circle cx="335.6" cy="269.9" r="1.03" fill="#f4e4e4"/><circle cx="331.4" cy="273.8" r="1.03" fill="#f4e4e4"/><circle cx="332.1" cy="270.3" r="1.88" fill="#d42a2a"/>
<path d="M340.8 288.3 L338.6 285.6 L335.4 287.0" stroke="#d86060" stroke-width="1.00" fill="none"/><circle cx="340.8" cy="288.3" r="1.00" fill="#f4e4e4"/><circle cx="335.4" cy="287.0" r="1.00" fill="#f4e4e4"/><circle cx="338.6" cy="285.6" r="1.82" fill="#d42a2a"/>
<path d="M301.5 328.1 L297.7 327.9 L296.5 331.4" stroke="#d86060" stroke-width="1.09" fill="none"/><circle cx="301.5" cy="328.1" r="1.09" fill="#f4e4e4"/><circle cx="296.5" cy="331.4" r="1.09" fill="#f4e4e4"/><circle cx="297.7" cy="327.9" r="1.99" fill="#d42a2a"/>
<path d="M301.8 310.0 L300.8 312.9 L303.3 314.6" stroke="#d86060" stroke-width="0.88" fill="none"/><circle cx="301.8" cy="310.0" r="0.88" fill="#f4e4e4"/><circle cx="303.3" cy="314.6" r="0.88" fill="#f4e4e4"/><circle cx="300.8" cy="312.9" r="1.61" fill="#d42a2a"/>
<path d="M344.2 304.3 L342.3 306.9 L344.4 309.5" stroke="#d86060" stroke-width="0.94" fill="none"/><circle cx="344.2" cy="304.3" r="0.94" fill="#f4e4e4"/><circle cx="344.4" cy="309.5" r="0.94" fill="#f4e4e4"/><circle cx="342.3" cy="306.9" r="1.72" fill="#d42a2a"/>
<path d="M313.3 285.3 L311.5 282.6 L308.5 283.5" stroke="#d86060" stroke-width="0.92" fill="none"/><circle cx="313.3" cy="285.3" r="0.92" fill="#f4e4e4"/><circle cx="308.5" cy="283.5" r="0.92" fill="#f4e4e4"/><circle cx="311.5" cy="282.6" r="1.67" fill="#d42a2a"/>
<path d="M339.4 300.8 L337.9 304.2 L340.7 306.5" stroke="#d86060" stroke-width="1.05" fill="none"/><circle cx="339.4" cy="300.8" r="1.05" fill="#f4e4e4"/><circle cx="340.7" cy="306.5" r="1.05" fill="#f4e4e4"/><circle cx="337.9" cy="304.2" r="1.92" fill="#d42a2a"/>
<path d="M351.2 280.4 L348.9 282.8 L350.5 285.7" stroke="#d86060" stroke-width="0.96" fill="none"/><circle cx="351.2" cy="280.4" r="0.96" fill="#f4e4e4"/><circle cx="350.5" cy="285.7" r="0.96" fill="#f4e4e4"/><circle cx="348.9" cy="282.8" r="1.74" fill="#d42a2a"/>
<path d="M332.9 299.3 L331.7 295.9 L328.1 296.2" stroke="#d86060" stroke-width="1.04" fill="none"/><circle cx="332.9" cy="299.3" r="1.04" fill="#f4e4e4"/><circle cx="328.1" cy="296.2" r="1.04" fill="#f4e4e4"/><circle cx="331.7" cy="295.9" r="1.89" fill="#d42a2a"/>
<path d="M283.4 276.7 L283.1 273.4 L279.9 272.8" stroke="#d86060" stroke-width="0.95" fill="none"/><circle cx="283.4" cy="276.7" r="0.95" fill="#f4e4e4"/><circle cx="279.9" cy="272.8" r="0.95" fill="#f4e4e4"/><circle cx="283.1" cy="273.4" r="1.73" fill="#d42a2a"/>
<path d="M309.1 333.9 L311.9 335.0 L313.7 332.5" stroke="#d86060" stroke-width="0.88" fill="none"/><circle cx="309.1" cy="333.9" r="0.88" fill="#f4e4e4"/><circle cx="313.7" cy="332.5" r="0.88" fill="#f4e4e4"/><circle cx="311.9" cy="335.0" r="1.59" fill="#d42a2a"/>
<path d="M340.4 306.7 L340.0 310.1 L343.2 311.4" stroke="#d86060" stroke-width="1.00" fill="none"/><circle cx="340.4" cy="306.7" r="1.00" fill="#f4e4e4"/><circle cx="343.2" cy="311.4" r="1.00" fill="#f4e4e4"/><circle cx="340.0" cy="310.1" r="1.82" fill="#d42a2a"/>
<path d="M273.0 330.1 L271.8 333.6 L274.7 335.7" stroke="#d86060" stroke-width="1.05" fill="none"/><circle cx="273.0" cy="330.1" r="1.05" fill="#f4e4e4"/><circle cx="274.7" cy="335.7" r="1.05" fill="#f4e4e4"/><circle cx="271.8" cy="333.6" r="1.91" fill="#d42a2a"/>
<path d="M338.1 279.2 L336.8 276.6 L334.0 277.1" stroke="#d86060" stroke-width="0.85" fill="none"/><circle cx="338.1" cy="279.2" r="0.85" fill="#f4e4e4"/><circle cx="334.0" cy="277.1" r="0.85" fill="#f4e4e4"/><circle cx="336.8" cy="276.6" r="1.54" fill="#d42a2a"/>
<path d="M307.6 334.9 L310.9 332.9 L309.8 329.1" stroke="#d86060" stroke-width="1.13" fill="none"/><circle cx="307.6" cy="334.9" r="1.13" fill="#f4e4e4"/><circle cx="309.8" cy="329.1" r="1.13" fill="#f4e4e4"/><circle cx="310.9" cy="332.9" r="2.05" fill="#d42a2a"/>
<path d="M323.6 319.0 L320.4 319.6 L320.1 322.8" stroke="#d86060" stroke-width="0.93" fill="none"/><circle cx="323.6" cy="319.0" r="0.93" fill="#f4e4e4"/><circle cx="320.1" cy="322.8" r="0.93" fill="#f4e4e4"/><circle cx="320.4" cy="319.6" r="1.70" fill="#d42a2a"/>
<path d="M347.5 315.0 L346.3 318.7 L349.5 320.9" stroke="#d86060" stroke-width="1.12" fill="none"/><circle cx="347.5" cy="315.0" r="1.12" fill="#f4e4e4"/><circle cx="349.5" cy="320.9" r="1.12" fill="#f4e4e4"/><circle cx="346.3" cy="318.7" r="2.04" fill="#d42a2a"/>
<path d="M323.1 294.7 L322.8 291.5 L319.7 290.9" stroke="#d86060" stroke-width="0.92" fill="none"/><circle cx="323.1" cy="294.7" r="0.92" fill="#f4e4e4"/><circle cx="319.7" cy="290.9" r="0.92" fill="#f4e4e4"/><circle cx="322.8" cy="291.5" r="1.67" fill="#d42a2a"/>
<path d="M277.8 332.5 L274.6 332.0 L273.3 334.9" stroke="#d86060" stroke-width="0.92" fill="none"/><circle cx="277.8" cy="332.5" r="0.92" fill="#f4e4e4"/><circle cx="273.3" cy="334.9" r="0.92" fill="#f4e4e4"/><circle cx="274.6" cy="332.0" r="1.68" fill="#d42a2a"/>
<path d="M293.9 279.8 L295.6 276.9 L293.3 274.5" stroke="#d86060" stroke-width="0.97" fill="none"/><circle cx="293.9" cy="279.8" r="0.97" fill="#f4e4e4"/><circle cx="293.3" cy="274.5" r="0.97" fill="#f4e4e4"/><circle cx="295.6" cy="276.9" r="1.77" fill="#d42a2a"/>
<path d="M282.2 304.6 L284.2 301.9 L282.2 299.3" stroke="#d86060" stroke-width="0.96" fill="none"/><circle cx="282.2" cy="304.6" r="0.96" fill="#f4e4e4"/><circle cx="282.2" cy="299.3" r="0.96" fill="#f4e4e4"/><circle cx="284.2" cy="301.9" r="1.75" fill="#d42a2a"/>
<path d="M338.4 288.1 L335.9 290.6 L337.5 293.6" stroke="#d86060" stroke-width="1.00" fill="none"/><circle cx="338.4" cy="288.1" r="1.00" fill="#f4e4e4"/><circle cx="337.5" cy="293.6" r="1.00" fill="#f4e4e4"/><circle cx="335.9" cy="290.6" r="1.82" fill="#d42a2a"/>
<path d="M350.4 294.2 L347.7 295.1 L347.8 298.0" stroke="#d86060" stroke-width="0.84" fill="none"/><circle cx="350.4" cy="294.2" r="0.84" fill="#f4e4e4"/><circle cx="347.8" cy="298.0" r="0.84" fill="#f4e4e4"/><circle cx="347.7" cy="295.1" r="1.52" fill="#d42a2a"/>
<path d="M311.9 287.6 L311.6 284.6 L308.7 284.0" stroke="#d86060" stroke-width="0.87" fill="none"/><circle cx="311.9" cy="287.6" r="0.87" fill="#f4e4e4"/><circle cx="308.7" cy="284.0" r="0.87" fill="#f4e4e4"/><circle cx="311.6" cy="284.6" r="1.58" fill="#d42a2a"/>
<path d="M298.1 279.2 L295.1 279.3 L294.4 282.1" stroke="#d86060" stroke-width="0.84" fill="none"/><circle cx="298.1" cy="279.2" r="0.84" fill="#f4e4e4"/><circle cx="294.4" cy="282.1" r="0.84" fill="#f4e4e4"/><circle cx="295.1" cy="279.3" r="1.53" fill="#d42a2a"/>
<path d="M337.5 274.4 L336.4 277.6 L339.2 279.5" stroke="#d86060" stroke-width="0.98" fill="none"/><circle cx="337.5" cy="274.4" r="0.98" fill="#f4e4e4"/><circle cx="339.2" cy="279.5" r="0.98" fill="#f4e4e4"/><circle cx="336.4" cy="277.6" r="1.79" fill="#d42a2a"/>
<path d="M308.5 276.8 L310.9 274.6 L309.4 271.8" stroke="#d86060" stroke-width="0.94" fill="none"/><circle cx="308.5" cy="276.8" r="0.94" fill="#f4e4e4"/><circle cx="309.4" cy="271.8" r="0.94" fill="#f4e4e4"/><circle cx="310.9" cy="274.6" r="1.70" fill="#d42a2a"/>
<path d="M341.8 306.6 L344.1 309.1 L347.1 307.5" stroke="#d86060" stroke-width="0.98" fill="none"/><circle cx="341.8" cy="306.6" r="0.98" fill="#f4e4e4"/><circle cx="347.1" cy="307.5" r="0.98" fill="#f4e4e4"/><circle cx="344.1" cy="309.1" r="1.78" fill="#d42a2a"/>
<path d="M272.1 312.7 L273.9 316.0 L277.6 315.2" stroke="#d86060" stroke-width="1.09" fill="none"/><circle cx="272.1" cy="312.7" r="1.09" fill="#f4e4e4"/><circle cx="277.6" cy="315.2" r="1.09" fill="#f4e4e4"/><circle cx="273.9" cy="316.0" r="1.98" fill="#d42a2a"/>
<path d="M301.7 290.6 L299.2 289.2 L297.2 291.2" stroke="#d86060" stroke-width="0.83" fill="none"/><circle cx="301.7" cy="290.6" r="0.83" fill="#f4e4e4"/><circle cx="297.2" cy="291.2" r="0.83" fill="#f4e4e4"/><circle cx="299.2" cy="289.2" r="1.51" fill="#d42a2a"/>
<path d="M283.3 304.0 L282.5 300.4 L278.8 300.1" stroke="#d86060" stroke-width="1.08" fill="none"/><circle cx="283.3" cy="304.0" r="1.08" fill="#f4e4e4"/><circle cx="278.8" cy="300.1" r="1.08" fill="#f4e4e4"/><circle cx="282.5" cy="300.4" r="1.97" fill="#d42a2a"/>
<path d="M311.8 313.1 L308.3 312.6 L306.8 315.9" stroke="#d86060" stroke-width="1.03" fill="none"/><circle cx="311.8" cy="313.1" r="1.03" fill="#f4e4e4"/><circle cx="306.8" cy="315.9" r="1.03" fill="#f4e4e4"/><circle cx="308.3" cy="312.6" r="1.88" fill="#d42a2a"/>
<path d="M344.8 312.4 L344.6 309.2 L341.4 308.5" stroke="#d86060" stroke-width="0.93" fill="none"/><circle cx="344.8" cy="312.4" r="0.93" fill="#f4e4e4"/><circle cx="341.4" cy="308.5" r="0.93" fill="#f4e4e4"/><circle cx="344.6" cy="309.2" r="1.68" fill="#d42a2a"/>
<path d="M323.2 334.4 L325.8 332.5 L324.7 329.5" stroke="#d86060" stroke-width="0.94" fill="none"/><circle cx="323.2" cy="334.4" r="0.94" fill="#f4e4e4"/><circle cx="324.7" cy="329.5" r="0.94" fill="#f4e4e4"/><circle cx="325.8" cy="332.5" r="1.70" fill="#d42a2a"/>
<path d="M318.0 280.1 L315.1 281.7 L315.9 284.9" stroke="#d86060" stroke-width="0.96" fill="none"/><circle cx="318.0" cy="280.1" r="0.96" fill="#f4e4e4"/><circle cx="315.9" cy="284.9" r="0.96" fill="#f4e4e4"/><circle cx="315.1" cy="281.7" r="1.74" fill="#d42a2a"/>
<path d="M317.2 322.8 L315.1 325.1 L316.7 327.8" stroke="#d86060" stroke-width="0.91" fill="none"/><circle cx="317.2" cy="322.8" r="0.91" fill="#f4e4e4"/><circle cx="316.7" cy="327.8" r="0.91" fill="#f4e4e4"/><circle cx="315.1" cy="325.1" r="1.66" fill="#d42a2a"/>
<path d="M332.0 282.0 L333.4 285.1 L336.8 284.6" stroke="#d86060" stroke-width="1.00" fill="none"/><circle cx="332.0" cy="282.0" r="1.00" fill="#f4e4e4"/><circle cx="336.8" cy="284.6" r="1.00" fill="#f4e4e4"/><circle cx="333.4" cy="285.1" r="1.82" fill="#d42a2a"/>
<path d="M313.5 309.3 L316.4 310.3 L318.2 307.8" stroke="#d86060" stroke-width="0.90" fill="none"/><circle cx="313.5" cy="309.3" r="0.90" fill="#f4e4e4"/><circle cx="318.2" cy="307.8" r="0.90" fill="#f4e4e4"/><circle cx="316.4" cy="310.3" r="1.64" fill="#d42a2a"/>
<path d="M302.0 323.0 L298.7 323.5 L298.2 326.7" stroke="#d86060" stroke-width="0.95" fill="none"/><circle cx="302.0" cy="323.0" r="0.95" fill="#f4e4e4"/><circle cx="298.2" cy="326.7" r="0.95" fill="#f4e4e4"/><circle cx="298.7" cy="323.5" r="1.72" fill="#d42a2a"/>
<path d="M319.3 287.7 L317.0 285.3 L314.1 286.8" stroke="#d86060" stroke-width="0.96" fill="none"/><circle cx="319.3" cy="287.7" r="0.96" fill="#f4e4e4"/><circle cx="314.1" cy="286.8" r="0.96" fill="#f4e4e4"/><circle cx="317.0" cy="285.3" r="1.75" fill="#d42a2a"/>
<path d="M328.4 276.4 L329.6 273.1 L326.8 271.0" stroke="#d86060" stroke-width="1.02" fill="none"/><circle cx="328.4" cy="276.4" r="1.02" fill="#f4e4e4"/><circle cx="326.8" cy="271.0" r="1.02" fill="#f4e4e4"/><circle cx="329.6" cy="273.1" r="1.86" fill="#d42a2a"/>
<path d="M332.1 275.0 L332.9 278.5 L336.6 278.7" stroke="#d86060" stroke-width="1.05" fill="none"/><circle cx="332.1" cy="275.0" r="1.05" fill="#f4e4e4"/><circle cx="336.6" cy="278.7" r="1.05" fill="#f4e4e4"/><circle cx="332.9" cy="278.5" r="1.91" fill="#d42a2a"/>
<path d="M286.9 276.1 L288.9 278.7 L292.0 277.6" stroke="#d86060" stroke-width="0.95" fill="none"/><circle cx="286.9" cy="276.1" r="0.95" fill="#f4e4e4"/><circle cx="292.0" cy="277.6" r="0.95" fill="#f4e4e4"/><circle cx="288.9" cy="278.7" r="1.72" fill="#d42a2a"/>
<path d="M292.3 267.5 L291.1 270.6 L293.8 272.6" stroke="#d86060" stroke-width="0.97" fill="none"/><circle cx="292.3" cy="267.5" r="0.97" fill="#f4e4e4"/><circle cx="293.8" cy="272.6" r="0.97" fill="#f4e4e4"/><circle cx="291.1" cy="270.6" r="1.76" fill="#d42a2a"/>
<path d="M284.6 335.9 L282.8 333.0 L279.5 334.0" stroke="#d86060" stroke-width="0.99" fill="none"/><circle cx="284.6" cy="335.9" r="0.99" fill="#f4e4e4"/><circle cx="279.5" cy="334.0" r="0.99" fill="#f4e4e4"/><circle cx="282.8" cy="333.0" r="1.80" fill="#d42a2a"/>
<path d="M279.6 297.9 L278.1 294.8 L274.8 295.5" stroke="#d86060" stroke-width="0.98" fill="none"/><circle cx="279.6" cy="297.9" r="0.98" fill="#f4e4e4"/><circle cx="274.8" cy="295.5" r="0.98" fill="#f4e4e4"/><circle cx="278.1" cy="294.8" r="1.79" fill="#d42a2a"/>
<path d="M273.9 304.7 L276.8 303.6 L276.6 300.5" stroke="#d86060" stroke-width="0.91" fill="none"/><circle cx="273.9" cy="304.7" r="0.91" fill="#f4e4e4"/><circle cx="276.6" cy="300.5" r="0.91" fill="#f4e4e4"/><circle cx="276.8" cy="303.6" r="1.65" fill="#d42a2a"/>
<path d="M307.0 320.2 L306.5 316.7 L303.0 316.2" stroke="#d86060" stroke-width="1.02" fill="none"/><circle cx="307.0" cy="320.2" r="1.02" fill="#f4e4e4"/><circle cx="303.0" cy="316.2" r="1.02" fill="#f4e4e4"/><circle cx="306.5" cy="316.7" r="1.85" fill="#d42a2a"/>
<path d="M285.8 326.1 l3 -2 M285.8 326.1 l-2 -3 M288.8 324.1 l2 2 M288.8 324.1 l1 -3" stroke="#9a8070" stroke-width="0.6"/>
<circle cx="285.8" cy="326.1" r="1.6" fill="#e6d23a"/>
<circle cx="288.8" cy="324.1" r="1.2" fill="#8a6450"/>
<circle cx="290.8" cy="326.1" r="1.0" fill="#9ab0e8"/><circle cx="289.8" cy="321.1" r="1.0" fill="#9ab0e8"/><circle cx="283.8" cy="323.1" r="1.0" fill="#7080d8"/>
<path d="M275.9 279.8 l3 -2 M275.9 279.8 l-2 -3 M278.9 277.8 l2 2 M278.9 277.8 l1 -3" stroke="#9a8070" stroke-width="0.6"/>
<circle cx="275.9" cy="279.8" r="1.6" fill="#e6d23a"/>
<circle cx="278.9" cy="277.8" r="1.2" fill="#8a6450"/>
<circle cx="280.9" cy="279.8" r="1.0" fill="#9ab0e8"/><circle cx="279.9" cy="274.8" r="1.0" fill="#9ab0e8"/><circle cx="273.9" cy="276.8" r="1.0" fill="#7080d8"/>
<path d="M277.4 324.1 l3 -2 M277.4 324.1 l-2 -3 M280.4 322.1 l2 2 M280.4 322.1 l1 -3" stroke="#9a8070" stroke-width="0.6"/>
<circle cx="277.4" cy="324.1" r="1.6" fill="#e6d23a"/>
<circle cx="280.4" cy="322.1" r="1.2" fill="#8a6450"/>
<circle cx="282.4" cy="324.1" r="1.0" fill="#9ab0e8"/><circle cx="281.4" cy="319.1" r="1.0" fill="#9ab0e8"/><circle cx="275.4" cy="321.1" r="1.0" fill="#7080d8"/>
<path d="M313.7 330.2 l3 -2 M313.7 330.2 l-2 -3 M316.7 328.2 l2 2 M316.7 328.2 l1 -3" stroke="#9a8070" stroke-width="0.6"/>
<circle cx="313.7" cy="330.2" r="1.6" fill="#e6d23a"/>
<circle cx="316.7" cy="328.2" r="1.2" fill="#8a6450"/>
<circle cx="318.7" cy="330.2" r="1.0" fill="#9ab0e8"/><circle cx="317.7" cy="325.2" r="1.0" fill="#9ab0e8"/><circle cx="311.7" cy="327.2" r="1.0" fill="#7080d8"/>
<path d="M320.2 293.1 l3 -2 M320.2 293.1 l-2 -3 M323.2 291.1 l2 2 M323.2 291.1 l1 -3" stroke="#9a8070" stroke-width="0.6"/>
<circle cx="320.2" cy="293.1" r="1.6" fill="#e6d23a"/>
<circle cx="323.2" cy="291.1" r="1.2" fill="#8a6450"/>
<circle cx="325.2" cy="293.1" r="1.0" fill="#9ab0e8"/><circle cx="324.2" cy="288.1" r="1.0" fill="#9ab0e8"/><circle cx="318.2" cy="290.1" r="1.0" fill="#7080d8"/>
<path d="M305.1 318.1 l3 -2 M305.1 318.1 l-2 -3 M308.1 316.1 l2 2 M308.1 316.1 l1 -3" stroke="#9a8070" stroke-width="0.6"/>
<circle cx="305.1" cy="318.1" r="1.6" fill="#e6d23a"/>
<circle cx="308.1" cy="316.1" r="1.2" fill="#8a6450"/>
<circle cx="310.1" cy="318.1" r="1.0" fill="#9ab0e8"/><circle cx="309.1" cy="313.1" r="1.0" fill="#9ab0e8"/><circle cx="303.1" cy="315.1" r="1.0" fill="#7080d8"/>
<path d="M289.8 322.6 l3 -2 M289.8 322.6 l-2 -3 M292.8 320.6 l2 2 M292.8 320.6 l1 -3" stroke="#9a8070" stroke-width="0.6"/>
<circle cx="289.8" cy="322.6" r="1.6" fill="#e6d23a"/>
<circle cx="292.8" cy="320.6" r="1.2" fill="#8a6450"/>
<circle cx="294.8" cy="322.6" r="1.0" fill="#9ab0e8"/><circle cx="293.8" cy="317.6" r="1.0" fill="#9ab0e8"/><circle cx="287.8" cy="319.6" r="1.0" fill="#7080d8"/>
<path d="M303.4 274.7 l3 -2 M303.4 274.7 l-2 -3 M306.4 272.7 l2 2 M306.4 272.7 l1 -3" stroke="#9a8070" stroke-width="0.6"/>
<circle cx="303.4" cy="274.7" r="1.6" fill="#e6d23a"/>
<circle cx="306.4" cy="272.7" r="1.2" fill="#8a6450"/>
<circle cx="308.4" cy="274.7" r="1.0" fill="#9ab0e8"/><circle cx="307.4" cy="269.7" r="1.0" fill="#9ab0e8"/><circle cx="301.4" cy="271.7" r="1.0" fill="#7080d8"/>
<path d="M298.5 307.3 l3 -2 M298.5 307.3 l-2 -3 M301.5 305.3 l2 2 M301.5 305.3 l1 -3" stroke="#9a8070" stroke-width="0.6"/>
<circle cx="298.5" cy="307.3" r="1.6" fill="#e6d23a"/>
<circle cx="301.5" cy="305.3" r="1.2" fill="#8a6450"/>
<circle cx="303.5" cy="307.3" r="1.0" fill="#9ab0e8"/><circle cx="302.5" cy="302.3" r="1.0" fill="#9ab0e8"/><circle cx="296.5" cy="304.3" r="1.0" fill="#7080d8"/>
<path d="M283.3 329.0 l3 -2 M283.3 329.0 l-2 -3 M286.3 327.0 l2 2 M286.3 327.0 l1 -3" stroke="#9a8070" stroke-width="0.6"/>
<circle cx="283.3" cy="329.0" r="1.6" fill="#e6d23a"/>
<circle cx="286.3" cy="327.0" r="1.2" fill="#8a6450"/>
<circle cx="288.3" cy="329.0" r="1.0" fill="#9ab0e8"/><circle cx="287.3" cy="324.0" r="1.0" fill="#9ab0e8"/><circle cx="281.3" cy="326.0" r="1.0" fill="#7080d8"/>
<path d="M343.3 304.2 l3 -2 M343.3 304.2 l-2 -3 M346.3 302.2 l2 2 M346.3 302.2 l1 -3" stroke="#9a8070" stroke-width="0.6"/>
<circle cx="343.3" cy="304.2" r="1.6" fill="#e6d23a"/>
<circle cx="346.3" cy="302.2" r="1.2" fill="#8a6450"/>
<circle cx="348.3" cy="304.2" r="1.0" fill="#9ab0e8"/><circle cx="347.3" cy="299.2" r="1.0" fill="#9ab0e8"/><circle cx="341.3" cy="301.2" r="1.0" fill="#7080d8"/>
<path d="M341.7 315.5 l3 -2 M341.7 315.5 l-2 -3 M344.7 313.5 l2 2 M344.7 313.5 l1 -3" stroke="#9a8070" stroke-width="0.6"/>
<circle cx="341.7" cy="315.5" r="1.6" fill="#e6d23a"/>
<circle cx="344.7" cy="313.5" r="1.2" fill="#8a6450"/>
<circle cx="346.7" cy="315.5" r="1.0" fill="#9ab0e8"/><circle cx="345.7" cy="310.5" r="1.0" fill="#9ab0e8"/><circle cx="339.7" cy="312.5" r="1.0" fill="#7080d8"/>
<path d="M313.4 282.0 l3 -2 M313.4 282.0 l-2 -3 M316.4 280.0 l2 2 M316.4 280.0 l1 -3" stroke="#9a8070" stroke-width="0.6"/>
<circle cx="313.4" cy="282.0" r="1.6" fill="#e6d23a"/>
<circle cx="316.4" cy="280.0" r="1.2" fill="#8a6450"/>
<circle cx="318.4" cy="282.0" r="1.0" fill="#9ab0e8"/><circle cx="317.4" cy="277.0" r="1.0" fill="#9ab0e8"/><circle cx="311.4" cy="279.0" r="1.0" fill="#7080d8"/>
<path d="M345.4 329.9 l3 -2 M345.4 329.9 l-2 -3 M348.4 327.9 l2 2 M348.4 327.9 l1 -3" stroke="#9a8070" stroke-width="0.6"/>
<circle cx="345.4" cy="329.9" r="1.6" fill="#e6d23a"/>
<circle cx="348.4" cy="327.9" r="1.2" fill="#8a6450"/>
<circle cx="350.4" cy="329.9" r="1.0" fill="#9ab0e8"/><circle cx="349.4" cy="324.9" r="1.0" fill="#9ab0e8"/><circle cx="343.4" cy="326.9" r="1.0" fill="#7080d8"/>
<path d="M306.8 296.2 l3 -2 M306.8 296.2 l-2 -3 M309.8 294.2 l2 2 M309.8 294.2 l1 -3" stroke="#9a8070" stroke-width="0.6"/>
<circle cx="306.8" cy="296.2" r="1.6" fill="#e6d23a"/>
<circle cx="309.8" cy="294.2" r="1.2" fill="#8a6450"/>
<circle cx="311.8" cy="296.2" r="1.0" fill="#9ab0e8"/><circle cx="310.8" cy="291.2" r="1.0" fill="#9ab0e8"/><circle cx="304.8" cy="293.2" r="1.0" fill="#7080d8"/>
<path d="M277.7 311.0 l3 -2 M277.7 311.0 l-2 -3 M280.7 309.0 l2 2 M280.7 309.0 l1 -3" stroke="#9a8070" stroke-width="0.6"/>
<circle cx="277.7" cy="311.0" r="1.6" fill="#e6d23a"/>
<circle cx="280.7" cy="309.0" r="1.2" fill="#8a6450"/>
<circle cx="282.7" cy="311.0" r="1.0" fill="#9ab0e8"/><circle cx="281.7" cy="306.0" r="1.0" fill="#9ab0e8"/><circle cx="275.7" cy="308.0" r="1.0" fill="#7080d8"/>
<circle cx="320.8" cy="276" r="2.3" fill="#808080"/>
<circle cx="320.8" cy="276" r="10" fill="none" stroke="#8e8e78" stroke-width="0.5"/>
<circle cx="287.2" cy="300" r="2.3" fill="#808080"/>
<circle cx="287.2" cy="300" r="9.5" fill="none" stroke="#8e8e78" stroke-width="0.5"/>
<circle cx="319.6" cy="309.6" r="2.3" fill="#808080"/>
<circle cx="319.6" cy="309.6" r="10" fill="none" stroke="#8e8e78" stroke-width="0.5"/>
<circle cx="338" cy="330" r="2.3" fill="#808080"/>
<circle cx="338" cy="330" r="0" fill="none" stroke="#8e8e78" stroke-width="0.5"/>
<ellipse cx="293.2" cy="327.5" rx="18" ry="6" fill="none" stroke="#8e8e78" stroke-width="0.5"/>
<path d="M325.5 196 L357.5 184" stroke="#7a7a4a" stroke-width="0.6"/><path d="M334 222 L356.5 220" stroke="#3a6a9a" stroke-width="0.6"/>
<path d="M330.5 280 L363 286" stroke="#7a7a4a" stroke-width="0.6"/><path d="M329.5 312 L360.5 323" stroke="#7a7a4a" stroke-width="0.6"/>
<circle cx="373.5" cy="184.2" r="16.2" fill="#fff" stroke="#8e8e70" stroke-width="0.7"/>
<path d="M376.6 187.3 L379.9 184.7 L378.3 180.8" stroke="#d86060" stroke-width="1.21" fill="none"/><circle cx="376.6" cy="187.3" r="1.21" fill="#f4e4e4"/><circle cx="378.3" cy="180.8" r="1.21" fill="#f4e4e4"/><circle cx="379.9" cy="184.7" r="2.20" fill="#d42a2a"/>
<path d="M374.0 180.9 L370.8 178.2 L367.4 180.5" stroke="#d86060" stroke-width="1.21" fill="none"/><circle cx="374.0" cy="180.9" r="1.21" fill="#f4e4e4"/><circle cx="367.4" cy="180.5" r="1.21" fill="#f4e4e4"/><circle cx="370.8" cy="178.2" r="2.20" fill="#d42a2a"/>
<path d="M377.2 198.1 L374.7 194.7 L370.8 196.2" stroke="#d86060" stroke-width="1.21" fill="none"/><circle cx="377.2" cy="198.1" r="1.21" fill="#f4e4e4"/><circle cx="370.8" cy="196.2" r="1.21" fill="#f4e4e4"/><circle cx="374.7" cy="194.7" r="2.20" fill="#d42a2a"/>
<path d="M375.6 177.4 L372.9 174.3 L369.1 176.0" stroke="#d86060" stroke-width="1.21" fill="none"/><circle cx="375.6" cy="177.4" r="1.21" fill="#f4e4e4"/><circle cx="369.1" cy="176.0" r="1.21" fill="#f4e4e4"/><circle cx="372.9" cy="174.3" r="2.20" fill="#d42a2a"/>
<path d="M361.6 184.5 L365.1 182.3 L364.0 178.3" stroke="#d86060" stroke-width="1.21" fill="none"/><circle cx="361.6" cy="184.5" r="1.21" fill="#f4e4e4"/><circle cx="364.0" cy="178.3" r="1.21" fill="#f4e4e4"/><circle cx="365.1" cy="182.3" r="2.20" fill="#d42a2a"/>
<circle cx="373" cy="184" r="2.2" fill="#777"/>
<text x="376.5" y="185.5" font-size="7" text-anchor="start" font-weight="bold" fill="#c0202a" stroke="#c0202a" stroke-width="0.15" >H<tspan dy="1.3" font-size="4.5">2</tspan><tspan dy="-1.3">O</tspan></text>
<text x="367" y="195.5" font-size="7" text-anchor="start" font-weight="bold" fill="#1a1a1a" stroke="#1a1a1a" stroke-width="0.15" >Zn</text>
<circle cx="377" cy="224" r="20.6" fill="#fff" stroke="#4a7a9a" stroke-width="0.7"/>
<path d="M383.6 232.1 L384.9 228.2 L381.5 225.8" stroke="#d86060" stroke-width="1.21" fill="none"/><circle cx="383.6" cy="232.1" r="1.21" fill="#f4e4e4"/><circle cx="381.5" cy="225.8" r="1.21" fill="#f4e4e4"/><circle cx="384.9" cy="228.2" r="2.20" fill="#d42a2a"/>
<path d="M385.4 213.3 L386.2 217.4 L390.3 217.8" stroke="#d86060" stroke-width="1.21" fill="none"/><circle cx="385.4" cy="213.3" r="1.21" fill="#f4e4e4"/><circle cx="390.3" cy="217.8" r="1.21" fill="#f4e4e4"/><circle cx="386.2" cy="217.4" r="2.20" fill="#d42a2a"/>
<path d="M388.5 227.2 L386.2 230.7 L388.9 233.9" stroke="#d86060" stroke-width="1.21" fill="none"/><circle cx="388.5" cy="227.2" r="1.21" fill="#f4e4e4"/><circle cx="388.9" cy="233.9" r="1.21" fill="#f4e4e4"/><circle cx="386.2" cy="230.7" r="2.20" fill="#d42a2a"/>
<path d="M365.2 219.0 L362.2 221.9 L364.0 225.6" stroke="#d86060" stroke-width="1.21" fill="none"/><circle cx="365.2" cy="219.0" r="1.21" fill="#f4e4e4"/><circle cx="364.0" cy="225.6" r="1.21" fill="#f4e4e4"/><circle cx="362.2" cy="221.9" r="2.20" fill="#d42a2a"/>
<path d="M372.2 225.1 L372.0 229.2 L376.0 230.5" stroke="#d86060" stroke-width="1.21" fill="none"/><circle cx="372.2" cy="225.1" r="1.21" fill="#f4e4e4"/><circle cx="376.0" cy="230.5" r="1.21" fill="#f4e4e4"/><circle cx="372.0" cy="229.2" r="2.20" fill="#d42a2a"/>
<path d="M381.6 225.0 L382.1 229.2 L386.2 229.9" stroke="#d86060" stroke-width="1.21" fill="none"/><circle cx="381.6" cy="225.0" r="1.21" fill="#f4e4e4"/><circle cx="386.2" cy="229.9" r="1.21" fill="#f4e4e4"/><circle cx="382.1" cy="229.2" r="2.20" fill="#d42a2a"/>
<path d="M388.8 211.0 L384.8 212.2 L384.8 216.4" stroke="#d86060" stroke-width="1.21" fill="none"/><circle cx="388.8" cy="211.0" r="1.21" fill="#f4e4e4"/><circle cx="384.8" cy="216.4" r="1.21" fill="#f4e4e4"/><circle cx="384.8" cy="212.2" r="2.20" fill="#d42a2a"/>
<circle cx="373" cy="226" r="2" fill="#e6d23a"/>
<text x="357" y="228" font-size="7" text-anchor="start" font-weight="bold" fill="#1a1a1a" stroke="#1a1a1a" stroke-width="0.15" >SO<tspan dy="1.3" font-size="4.5">4</tspan></text>
<text x="368" y="242.5" font-size="7" text-anchor="start" font-weight="bold" fill="#c0202a" stroke="#c0202a" stroke-width="0.15" >H<tspan dy="1.3" font-size="4.5">2</tspan><tspan dy="-1.3">O</tspan></text>
<circle cx="385" cy="286" r="22" fill="#fff" stroke="#8e8e70" stroke-width="0.7"/>
<path d="M374.7 276.5 L373.0 280.3 L376.2 283.0" stroke="#d86060" stroke-width="1.21" fill="none"/><circle cx="374.7" cy="276.5" r="1.21" fill="#f4e4e4"/><circle cx="376.2" cy="283.0" r="1.21" fill="#f4e4e4"/><circle cx="373.0" cy="280.3" r="2.20" fill="#d42a2a"/>
<path d="M385.9 296.6 L382.7 299.2 L384.4 303.1" stroke="#d86060" stroke-width="1.21" fill="none"/><circle cx="385.9" cy="296.6" r="1.21" fill="#f4e4e4"/><circle cx="384.4" cy="303.1" r="1.21" fill="#f4e4e4"/><circle cx="382.7" cy="299.2" r="2.20" fill="#d42a2a"/>
<path d="M390.4 277.5 L392.9 280.9 L396.8 279.5" stroke="#d86060" stroke-width="1.21" fill="none"/><circle cx="390.4" cy="277.5" r="1.21" fill="#f4e4e4"/><circle cx="396.8" cy="279.5" r="1.21" fill="#f4e4e4"/><circle cx="392.9" cy="280.9" r="2.20" fill="#d42a2a"/>
<path d="M380.1 277.0 L376.0 277.9 L375.7 282.0" stroke="#d86060" stroke-width="1.21" fill="none"/><circle cx="380.1" cy="277.0" r="1.21" fill="#f4e4e4"/><circle cx="375.7" cy="282.0" r="1.21" fill="#f4e4e4"/><circle cx="376.0" cy="277.9" r="2.20" fill="#d42a2a"/>
<path d="M377.5 282.5 L373.6 283.9 L373.9 288.1" stroke="#d86060" stroke-width="1.21" fill="none"/><circle cx="377.5" cy="282.5" r="1.21" fill="#f4e4e4"/><circle cx="373.9" cy="288.1" r="1.21" fill="#f4e4e4"/><circle cx="373.6" cy="283.9" r="2.20" fill="#d42a2a"/>
<path d="M376.7 282.1 L378.2 278.2 L374.9 275.7" stroke="#d86060" stroke-width="1.21" fill="none"/><circle cx="376.7" cy="282.1" r="1.21" fill="#f4e4e4"/><circle cx="374.9" cy="275.7" r="1.21" fill="#f4e4e4"/><circle cx="378.2" cy="278.2" r="2.20" fill="#d42a2a"/>
<text x="366" y="284" font-size="6.5" text-anchor="start" font-weight="bold" fill="#1a1a1a" stroke="#1a1a1a" stroke-width="0.15" >TFSI</text>
<circle cx="380" cy="292" r="2.2" fill="#777"/><circle cx="370" cy="288" r="1.8" fill="#e6d23a"/>
<text x="387" y="293" font-size="7" text-anchor="start" font-weight="bold" fill="#c0202a" stroke="#c0202a" stroke-width="0.15" >H<tspan dy="1.3" font-size="4.5">2</tspan><tspan dy="-1.3">O</tspan></text>
<text x="378" y="304" font-size="7" text-anchor="start" font-weight="bold" fill="#1a1a1a" stroke="#1a1a1a" stroke-width="0.15" >Zn</text>
<circle cx="378" cy="328" r="18" fill="#fff" stroke="#8e8e70" stroke-width="0.7"/>
<path d="M370.0 322.6 L367.7 326.1 L370.4 329.3" stroke="#d86060" stroke-width="1.21" fill="none"/><circle cx="370.0" cy="322.6" r="1.21" fill="#f4e4e4"/><circle cx="370.4" cy="329.3" r="1.21" fill="#f4e4e4"/><circle cx="367.7" cy="326.1" r="2.20" fill="#d42a2a"/>
<path d="M385.4 323.6 L388.2 320.5 L385.9 317.0" stroke="#d86060" stroke-width="1.21" fill="none"/><circle cx="385.4" cy="323.6" r="1.21" fill="#f4e4e4"/><circle cx="385.9" cy="317.0" r="1.21" fill="#f4e4e4"/><circle cx="388.2" cy="320.5" r="2.20" fill="#d42a2a"/>
<path d="M385.4 329.0 L386.9 325.0 L383.5 322.6" stroke="#d86060" stroke-width="1.21" fill="none"/><circle cx="385.4" cy="329.0" r="1.21" fill="#f4e4e4"/><circle cx="383.5" cy="322.6" r="1.21" fill="#f4e4e4"/><circle cx="386.9" cy="325.0" r="2.20" fill="#d42a2a"/>
<path d="M388.6 337.0 L386.3 333.6 L382.3 334.9" stroke="#d86060" stroke-width="1.21" fill="none"/><circle cx="388.6" cy="337.0" r="1.21" fill="#f4e4e4"/><circle cx="382.3" cy="334.9" r="1.21" fill="#f4e4e4"/><circle cx="386.3" cy="333.6" r="2.20" fill="#d42a2a"/>
<circle cx="375" cy="330" r="2.2" fill="#777"/>
<text x="373" y="326" font-size="7" text-anchor="start" font-weight="bold" fill="#c0202a" stroke="#c0202a" stroke-width="0.15" >H<tspan dy="1.3" font-size="4.5">2</tspan><tspan dy="-1.3">O</tspan></text>
<text x="371" y="340" font-size="7" text-anchor="start" font-weight="bold" fill="#1a1a1a" stroke="#1a1a1a" stroke-width="0.15" >Zn</text>
<circle cx="253.5" cy="225.5" r="1.8" fill="#f0d0d0" stroke="#999" stroke-width="0.2"/>
<text x="256.8" y="227.5" font-size="5.6" text-anchor="start" font-weight="bold" fill="#1a1a1a" stroke="#1a1a1a" stroke-width="0.15" >H</text>
<circle cx="253.5" cy="230.8" r="1.8" fill="#d42a2a" stroke="#999" stroke-width="0.2"/>
<text x="256.8" y="232.8" font-size="5.6" text-anchor="start" font-weight="bold" fill="#1a1a1a" stroke="#1a1a1a" stroke-width="0.15" >O</text>
<circle cx="253.5" cy="236.1" r="1.8" fill="#6a78d8" stroke="#999" stroke-width="0.2"/>
<text x="256.8" y="238.1" font-size="5.6" text-anchor="start" font-weight="bold" fill="#1a1a1a" stroke="#1a1a1a" stroke-width="0.15" >N</text>
<circle cx="253.5" cy="241.4" r="1.8" fill="#9a6a4a" stroke="#999" stroke-width="0.2"/>
<text x="256.8" y="243.4" font-size="5.6" text-anchor="start" font-weight="bold" fill="#1a1a1a" stroke="#1a1a1a" stroke-width="0.15" >C</text>
<circle cx="253.5" cy="246.7" r="1.8" fill="#a8b8e8" stroke="#999" stroke-width="0.2"/>
<text x="256.8" y="248.7" font-size="5.6" text-anchor="start" font-weight="bold" fill="#1a1a1a" stroke="#1a1a1a" stroke-width="0.15" >F</text>
<circle cx="253.5" cy="252.0" r="2.5" fill="#e6d23a" stroke="#999" stroke-width="0.2"/>
<text x="256.8" y="254.0" font-size="5.6" text-anchor="start" font-weight="bold" fill="#1a1a1a" stroke="#1a1a1a" stroke-width="0.15" >S</text>
<circle cx="253.5" cy="257.3" r="2.5" fill="#8a8a8a" stroke="#999" stroke-width="0.2"/>
<text x="256.8" y="259.3" font-size="5.6" text-anchor="start" font-weight="bold" fill="#1a1a1a" stroke="#1a1a1a" stroke-width="0.15" >Zn</text>
<text x="268" y="257.5" font-size="6.3" text-anchor="start" font-weight="bold" fill="#1a1a1a" stroke="#1a1a1a" stroke-width="0.15" >H<tspan dy="1.2" font-size="4">2</tspan><tspan dy="-1.2">O-ZnSO</tspan><tspan dy="1.2" font-size="4">4</tspan><tspan dy="-1.2">-EO, Eb=−8.5 eV</tspan></text>
<text x="261.5" y="351.5" font-size="6.3" text-anchor="start" font-weight="bold" fill="#1a1a1a" stroke="#1a1a1a" stroke-width="0.15" >H<tspan dy="1.2" font-size="4">2</tspan><tspan dy="-1.2">O-Zn(TFSI)</tspan><tspan dy="1.2" font-size="4">2</tspan><tspan dy="-1.2">-EO, Eb=−7.1 eV</tspan></text>
</g>
<g id="pd">
<text x="0" y="371.5" font-size="9.5" text-anchor="start" font-weight="bold" fill="#1a1a1a" stroke="#1a1a1a" stroke-width="0.15" >(d)</text>
<rect x="18.5" y="364.3" width="59.7" height="48.5" fill="url(#dblue)"/>
<rect x="18.5" y="402" width="59.7" height="10.800000000000011" fill="url(#dgray)"/>
<clipPath id="cb41"><rect x="18.5" y="364.3" width="59.7" height="48.5"/></clipPath>
<g clip-path="url(#cb41)">
<circle cx="49.5" cy="365.3" r="6" fill="#c0e2ee" opacity="0.95"/>
<circle cx="63.3" cy="372.1" r="4.5" fill="#c0e2ee" opacity="0.95"/>
<circle cx="55.5" cy="377.4" r="2.6" fill="#c0e2ee" opacity="0.95"/>
<circle cx="42.4" cy="375.0" r="1.3" fill="#c0e2ee" opacity="0.95"/>
</g>
<path d="M26.5 399 q-2 -5 -4 -12 M26.5 399 q2 -5 3 -12 M26.5 399 l0 3" stroke="#8498d8" stroke-width="0.45" fill="none" opacity="0.8"/>
<path d="M36.5 399 q-2 -5 -4 -12 M36.5 399 q2 -5 3 -12 M36.5 399 l0 3" stroke="#8498d8" stroke-width="0.45" fill="none" opacity="0.8"/>
<path d="M63.5 399 q-2 -5 -4 -12 M63.5 399 q2 -5 3 -12 M63.5 399 l0 3" stroke="#8498d8" stroke-width="0.45" fill="none" opacity="0.8"/>
<path d="M73.5 399 q-2 -5 -4 -12 M73.5 399 q2 -5 3 -12 M73.5 399 l0 3" stroke="#8498d8" stroke-width="0.45" fill="none" opacity="0.8"/>
<path d="M45.5 399 q-2 -9 -7 -14" stroke="#62b04e" stroke-width="1.4" fill="none"/><path d="M49.5 399 q2 -9 7 -14" stroke="#62b04e" stroke-width="1.4" fill="none"/>
<circle cx="42.0" cy="374.7" r="1.3" fill="#9a9ca0"/><circle cx="41.6" cy="374.3" r="0.6" fill="#f0f0f0"/>
<circle cx="30.4" cy="393.6" r="1.3" fill="#9a9ca0"/><circle cx="30.1" cy="393.3" r="0.6" fill="#f0f0f0"/>
<circle cx="52.5" cy="387.4" r="1.3" fill="#9a9ca0"/><circle cx="52.2" cy="387.1" r="0.6" fill="#f0f0f0"/>
<circle cx="51.2" cy="378.9" r="1.3" fill="#9a9ca0"/><circle cx="50.8" cy="378.6" r="0.6" fill="#f0f0f0"/>
<circle cx="60.8" cy="384.3" r="1.3" fill="#9a9ca0"/><circle cx="60.4" cy="383.9" r="0.6" fill="#f0f0f0"/>
<circle cx="63.5" cy="386.6" r="1.3" fill="#9a9ca0"/><circle cx="63.1" cy="386.3" r="0.6" fill="#f0f0f0"/>
<circle cx="66.6" cy="380.5" r="1.3" fill="#9a9ca0"/><circle cx="66.2" cy="380.1" r="0.6" fill="#f0f0f0"/>
<circle cx="29.8" cy="372.5" r="1.3" fill="#9a9ca0"/><circle cx="29.5" cy="372.1" r="0.6" fill="#f0f0f0"/>
<circle cx="60.3" cy="372.9" r="1.3" fill="#9a9ca0"/><circle cx="60.0" cy="372.6" r="0.6" fill="#f0f0f0"/>
<circle cx="56.7" cy="385.5" r="1.3" fill="#9a9ca0"/><circle cx="56.3" cy="385.1" r="0.6" fill="#f0f0f0"/>
<circle cx="24.7" cy="390.0" r="1.3" fill="#9a9ca0"/><circle cx="24.3" cy="389.7" r="0.6" fill="#f0f0f0"/>
<circle cx="23.3" cy="392.3" r="1.3" fill="#9a9ca0"/><circle cx="22.9" cy="392.0" r="0.6" fill="#f0f0f0"/>
<circle cx="66.7" cy="374.3" r="1.3" fill="#9a9ca0"/><circle cx="66.3" cy="373.9" r="0.6" fill="#f0f0f0"/>
<circle cx="60.5" cy="388.6" r="1.3" fill="#9a9ca0"/><circle cx="60.1" cy="388.2" r="0.6" fill="#f0f0f0"/>
<circle cx="28.2" cy="386.9" r="1.3" fill="#9a9ca0"/><circle cx="27.9" cy="386.5" r="0.6" fill="#f0f0f0"/>
<circle cx="28.1" cy="393.6" r="1.3" fill="#9a9ca0"/><circle cx="27.8" cy="393.2" r="0.6" fill="#f0f0f0"/>
<circle cx="58.5" cy="395.4" r="1.3" fill="#9a9ca0"/><circle cx="58.1" cy="395.1" r="0.6" fill="#f0f0f0"/>
<circle cx="24.4" cy="377.1" r="1.3" fill="#9a9ca0"/><circle cx="24.0" cy="376.8" r="0.6" fill="#f0f0f0"/>
<circle cx="54.8" cy="385.1" r="1.3" fill="#9a9ca0"/><circle cx="54.4" cy="384.8" r="0.6" fill="#f0f0f0"/>
<circle cx="31.3" cy="392.9" r="1.3" fill="#9a9ca0"/><circle cx="30.9" cy="392.5" r="0.6" fill="#f0f0f0"/>
<rect x="18.5" y="418.8" width="59.7" height="48.80000000000001" fill="url(#dyel)"/>
<rect x="18.5" y="456" width="59.7" height="11.600000000000023" fill="url(#dgray)"/>
<line x1="18.5" y1="456.3" x2="78.2" y2="456.3" stroke="#e8b860" stroke-width="1" stroke-dasharray="1.2 0.8"/>
<path d="M45.5 453 q-2 -9 -7 -14" stroke="#62b04e" stroke-width="1.4" fill="none"/><path d="M49.5 453 q2 -9 7 -14" stroke="#62b04e" stroke-width="1.4" fill="none"/>
<line x1="21.5" y1="456" x2="21.5" y2="451" stroke="#b8c8b0" stroke-width="0.5"/>
<line x1="28.5" y1="456" x2="28.5" y2="451" stroke="#b8c8b0" stroke-width="0.5"/>
<line x1="35.5" y1="456" x2="35.5" y2="451" stroke="#b8c8b0" stroke-width="0.5"/>
<line x1="42.5" y1="456" x2="42.5" y2="451" stroke="#b8c8b0" stroke-width="0.5"/>
<line x1="49.5" y1="456" x2="49.5" y2="451" stroke="#b8c8b0" stroke-width="0.5"/>
<line x1="56.5" y1="456" x2="56.5" y2="451" stroke="#b8c8b0" stroke-width="0.5"/>
<line x1="63.5" y1="456" x2="63.5" y2="451" stroke="#b8c8b0" stroke-width="0.5"/>
<line x1="70.5" y1="456" x2="70.5" y2="451" stroke="#b8c8b0" stroke-width="0.5"/>
<line x1="77.5" y1="456" x2="77.5" y2="451" stroke="#b8c8b0" stroke-width="0.5"/>
<polyline points="48.9 427.4 49.4 427.6 49.8 427.7 50.2 427.7 50.6 427.5 50.9 427.1 51.2 426.7 51.5 426.2 51.8 425.9 52.2 425.7 52.6 425.7 53.1 425.9 53.6 426.1 54.1 426.3 54.5 426.5 54.9 426.4 55.3 426.2 55.6 425.8 55.9 425.3 56.2 424.9 56.5 424.6 56.9 424.4 57.4 424.5 57.8 424.6 58.3 424.9 58.8 425.1 59.2 425.2 59.6 425.1 60.0 424.8 60.3 424.4 60.6 423.9 60.9 423.5 61.2 423.2" fill="none" stroke="#d8c878" stroke-width="0.6" stroke-linejoin="round"/>
<polyline points="34.3 443.0 34.6 443.4 35.0 443.8 35.4 443.9 35.8 443.9 36.2 443.7 36.7 443.5 37.2 443.2 37.6 443.1 38.0 443.1 38.4 443.3 38.7 443.7 39.1 444.1 39.4 444.5 39.7 444.8 40.1 445.0 40.5 444.9 41.0 444.7 41.5 444.4 42.0 444.2 42.4 444.1 42.8 444.1 43.2 444.4 43.5 444.7 43.8 445.2 44.1 445.6 44.5 445.9 44.9 446.0 45.3 445.9 45.8 445.7 46.3 445.4 46.7 445.2 47.2 445.1" fill="none" stroke="#d8c878" stroke-width="0.6" stroke-linejoin="round"/>
<polyline points="57.7 428.7 58.2 429.0 58.6 429.2 59.0 429.3 59.4 429.2 59.8 428.8 60.1 428.5 60.5 428.1 60.9 427.8 61.3 427.7 61.7 427.8 62.1 428.0 62.6 428.3 63.0 428.6 63.4 428.8 63.9 428.8 64.2 428.7 64.6 428.3 65.0 427.9 65.4 427.6 65.8 427.3 66.2 427.2 66.6 427.3 67.0 427.6 67.4 427.9 67.9 428.2 68.3 428.4 68.7 428.4 69.1 428.2 69.5 427.8 69.8 427.4 70.2 427.0 70.6 426.8" fill="none" stroke="#d8c878" stroke-width="0.6" stroke-linejoin="round"/>
<polyline points="27.5 431.6 27.9 432.0 28.4 432.2 28.8 432.3 29.2 432.2 29.6 431.9 30.0 431.6 30.4 431.2 30.8 431.0 31.2 430.9 31.6 431.1 32.0 431.3 32.4 431.7 32.8 432.1 33.2 432.3 33.6 432.3 34.0 432.2 34.4 431.9 34.9 431.6 35.3 431.2 35.7 431.0 36.1 431.0 36.5 431.1 36.9 431.4 37.3 431.8 37.7 432.1 38.1 432.3 38.5 432.4 38.9 432.2 39.3 431.9 39.7 431.5 40.1 431.2 40.5 431.0" fill="none" stroke="#d8c878" stroke-width="0.6" stroke-linejoin="round"/>
<circle cx="22.9" cy="428.2" r="1.3" fill="#9a9ca0"/><circle cx="22.6" cy="427.9" r="0.6" fill="#f0f0f0"/>
<circle cx="56.4" cy="437.6" r="1.3" fill="#9a9ca0"/><circle cx="56.0" cy="437.3" r="0.6" fill="#f0f0f0"/>
<circle cx="33.3" cy="438.8" r="1.3" fill="#9a9ca0"/><circle cx="33.0" cy="438.5" r="0.6" fill="#f0f0f0"/>
<circle cx="65.0" cy="423.0" r="1.3" fill="#9a9ca0"/><circle cx="64.6" cy="422.6" r="0.6" fill="#f0f0f0"/>
<circle cx="64.8" cy="441.8" r="1.3" fill="#9a9ca0"/><circle cx="64.4" cy="441.4" r="0.6" fill="#f0f0f0"/>
<circle cx="39.8" cy="427.0" r="1.3" fill="#9a9ca0"/><circle cx="39.4" cy="426.7" r="0.6" fill="#f0f0f0"/>
<circle cx="72.9" cy="432.0" r="1.3" fill="#9a9ca0"/><circle cx="72.6" cy="431.6" r="0.6" fill="#f0f0f0"/>
<circle cx="26.5" cy="425.4" r="1.3" fill="#9a9ca0"/><circle cx="26.1" cy="425.1" r="0.6" fill="#f0f0f0"/>
<circle cx="67.0" cy="439.2" r="1.3" fill="#9a9ca0"/><circle cx="66.7" cy="438.9" r="0.6" fill="#f0f0f0"/>
<circle cx="64.8" cy="442.6" r="1.3" fill="#9a9ca0"/><circle cx="64.5" cy="442.3" r="0.6" fill="#f0f0f0"/>
<circle cx="50.3" cy="449.3" r="1.3" fill="#9a9ca0"/><circle cx="49.9" cy="448.9" r="0.6" fill="#f0f0f0"/>
<circle cx="41.8" cy="437.8" r="1.3" fill="#9a9ca0"/><circle cx="41.5" cy="437.5" r="0.6" fill="#f0f0f0"/>
<circle cx="66.0" cy="439.6" r="1.3" fill="#9a9ca0"/><circle cx="65.7" cy="439.3" r="0.6" fill="#f0f0f0"/>
<circle cx="67.8" cy="438.5" r="1.3" fill="#9a9ca0"/><circle cx="67.4" cy="438.2" r="0.6" fill="#f0f0f0"/>
<circle cx="59.3" cy="424.0" r="1.3" fill="#9a9ca0"/><circle cx="59.0" cy="423.7" r="0.6" fill="#f0f0f0"/>
<circle cx="33.7" cy="430.7" r="1.3" fill="#9a9ca0"/><circle cx="33.4" cy="430.3" r="0.6" fill="#f0f0f0"/>
<circle cx="25.8" cy="429.1" r="1.3" fill="#9a9ca0"/><circle cx="25.4" cy="428.8" r="0.6" fill="#f0f0f0"/>
<circle cx="26.9" cy="430.4" r="1.3" fill="#9a9ca0"/><circle cx="26.6" cy="430.0" r="0.6" fill="#f0f0f0"/>
<circle cx="55.6" cy="432.7" r="1.3" fill="#9a9ca0"/><circle cx="55.3" cy="432.4" r="0.6" fill="#f0f0f0"/>
<circle cx="41.4" cy="428.5" r="1.3" fill="#9a9ca0"/><circle cx="41.0" cy="428.1" r="0.6" fill="#f0f0f0"/>
<rect x="155.1" y="364.2" width="61.20000000000002" height="49.10000000000002" fill="url(#dblue)"/>
<rect x="155.1" y="403" width="61.20000000000002" height="10.300000000000011" fill="url(#dgray)"/>
<clipPath id="cb43"><rect x="155.1" y="364.2" width="61.20000000000002" height="49.10000000000002"/></clipPath>
<g clip-path="url(#cb43)">
<circle cx="186.9" cy="365.2" r="6" fill="#c0e2ee" opacity="0.95"/>
<circle cx="201.0" cy="372.1" r="4.5" fill="#c0e2ee" opacity="0.95"/>
<circle cx="193.0" cy="377.5" r="2.6" fill="#c0e2ee" opacity="0.95"/>
<circle cx="179.6" cy="375.0" r="1.3" fill="#c0e2ee" opacity="0.95"/>
</g>
<circle cx="159.9" cy="400.2" r="2.0" fill="#787c82"/>
<circle cx="162.7" cy="400.6" r="2.3" fill="#787c82"/>
<circle cx="165.0" cy="400.0" r="1.8" fill="#787c82"/>
<circle cx="161.3" cy="397.4" r="2.0" fill="#787c82"/>
<circle cx="164.0" cy="397.2" r="1.8" fill="#787c82"/>
<rect x="158.5" y="399.8" width="7.4" height="3.2" fill="#787c82"/>
<circle cx="175.0" cy="400.2" r="2.0" fill="#787c82"/>
<circle cx="177.8" cy="400.6" r="2.3" fill="#787c82"/>
<circle cx="180.1" cy="400.0" r="1.8" fill="#787c82"/>
<circle cx="176.4" cy="397.4" r="2.0" fill="#787c82"/>
<circle cx="179.1" cy="397.2" r="1.8" fill="#787c82"/>
<rect x="173.6" y="399.8" width="7.4" height="3.2" fill="#787c82"/>
<circle cx="190.2" cy="398.6" r="2.8" fill="#787c82"/>
<circle cx="192.4" cy="399.2" r="3.1" fill="#787c82"/>
<circle cx="194.2" cy="398.2" r="2.5" fill="#787c82"/>
<circle cx="191.3" cy="394.2" r="2.8" fill="#787c82"/>
<circle cx="193.5" cy="394.0" r="2.5" fill="#787c82"/>
<rect x="189.0" y="398.0" width="5.9" height="5.0" fill="#787c82"/>
<circle cx="204.5" cy="399.3" r="2.3" fill="#787c82"/>
<circle cx="207.6" cy="399.9" r="2.6" fill="#787c82"/>
<circle cx="210.1" cy="399.0" r="2.1" fill="#787c82"/>
<circle cx="206.0" cy="395.6" r="2.3" fill="#787c82"/>
<circle cx="209.1" cy="395.4" r="2.1" fill="#787c82"/>
<rect x="203.0" y="398.8" width="8.1" height="4.2" fill="#787c82"/>
<circle cx="160.2" cy="388.3" r="1.3" fill="#9a9ca0"/><circle cx="159.9" cy="387.9" r="0.6" fill="#f0f0f0"/>
<circle cx="166.0" cy="381.5" r="1.3" fill="#9a9ca0"/><circle cx="165.7" cy="381.2" r="0.6" fill="#f0f0f0"/>
<circle cx="195.2" cy="391.0" r="1.3" fill="#9a9ca0"/><circle cx="194.8" cy="390.7" r="0.6" fill="#f0f0f0"/>
<circle cx="183.1" cy="382.6" r="1.3" fill="#9a9ca0"/><circle cx="182.8" cy="382.2" r="0.6" fill="#f0f0f0"/>
<circle cx="159.2" cy="380.7" r="1.3" fill="#9a9ca0"/><circle cx="158.8" cy="380.3" r="0.6" fill="#f0f0f0"/>
<circle cx="178.7" cy="392.7" r="1.3" fill="#9a9ca0"/><circle cx="178.3" cy="392.4" r="0.6" fill="#f0f0f0"/>
<circle cx="188.3" cy="390.0" r="1.3" fill="#9a9ca0"/><circle cx="187.9" cy="389.6" r="0.6" fill="#f0f0f0"/>
<circle cx="182.1" cy="373.3" r="1.3" fill="#9a9ca0"/><circle cx="181.7" cy="372.9" r="0.6" fill="#f0f0f0"/>
<circle cx="205.1" cy="391.8" r="1.3" fill="#9a9ca0"/><circle cx="204.7" cy="391.5" r="0.6" fill="#f0f0f0"/>
<circle cx="178.8" cy="371.0" r="1.3" fill="#9a9ca0"/><circle cx="178.5" cy="370.6" r="0.6" fill="#f0f0f0"/>
<circle cx="186.4" cy="382.5" r="1.3" fill="#9a9ca0"/><circle cx="186.0" cy="382.1" r="0.6" fill="#f0f0f0"/>
<circle cx="200.7" cy="385.4" r="1.3" fill="#9a9ca0"/><circle cx="200.4" cy="385.0" r="0.6" fill="#f0f0f0"/>
<circle cx="186.1" cy="384.8" r="1.3" fill="#9a9ca0"/><circle cx="185.7" cy="384.4" r="0.6" fill="#f0f0f0"/>
<circle cx="178.9" cy="369.6" r="1.3" fill="#9a9ca0"/><circle cx="178.6" cy="369.3" r="0.6" fill="#f0f0f0"/>
<circle cx="161.5" cy="395.3" r="1.3" fill="#9a9ca0"/><circle cx="161.1" cy="395.0" r="0.6" fill="#f0f0f0"/>
<circle cx="204.4" cy="376.7" r="1.3" fill="#9a9ca0"/><circle cx="204.1" cy="376.4" r="0.6" fill="#f0f0f0"/>
<circle cx="207.2" cy="383.2" r="1.3" fill="#9a9ca0"/><circle cx="206.8" cy="382.9" r="0.6" fill="#f0f0f0"/>
<circle cx="163.8" cy="392.8" r="1.3" fill="#9a9ca0"/><circle cx="163.4" cy="392.5" r="0.6" fill="#f0f0f0"/>
<circle cx="190.4" cy="395.1" r="1.3" fill="#9a9ca0"/><circle cx="190.0" cy="394.7" r="0.6" fill="#f0f0f0"/>
<circle cx="195.6" cy="370.9" r="1.3" fill="#9a9ca0"/><circle cx="195.2" cy="370.6" r="0.6" fill="#f0f0f0"/>
<rect x="155.1" y="419.3" width="61.20000000000002" height="48.39999999999998" fill="url(#dyel)"/>
<rect x="155.1" y="455.3" width="61.20000000000002" height="12.399999999999977" fill="url(#dgray)"/>
<line x1="155.1" y1="455.6" x2="216.3" y2="455.6" stroke="#e8b860" stroke-width="1" stroke-dasharray="1.2 0.8"/>
<polyline points="177.4 439.2 177.6 439.7 177.9 440.1 178.2 440.4 178.6 440.4 179.1 440.4 179.6 440.2 180.1 440.1 180.6 440.0 181.0 440.1 181.3 440.4 181.6 440.8 181.8 441.3 182.0 441.8 182.3 442.2 182.6 442.4 183.1 442.5 183.6 442.4 184.1 442.2 184.6 442.1 185.0 442.0 185.4 442.2 185.7 442.5 186.0 442.9 186.2 443.5 186.4 443.9 186.7 444.3 187.1 444.5 187.5 444.5 188.0 444.4 188.5 444.2 189.0 444.1 189.5 444.1" fill="none" stroke="#d8c878" stroke-width="0.6" stroke-linejoin="round"/>
<polyline points="169.3 432.3 169.8 432.3 170.3 432.3 170.7 432.2 171.0 431.9 171.2 431.4 171.3 430.9 171.5 430.4 171.7 430.0 172.0 429.7 172.4 429.6 172.9 429.6 173.4 429.7 174.0 429.8 174.4 429.8 174.8 429.6 175.1 429.2 175.3 428.8 175.4 428.3 175.6 427.7 175.8 427.3 176.1 427.1 176.5 427.0 177.1 427.1 177.6 427.1 178.1 427.2 178.6 427.2 178.9 427.0 179.2 426.6 179.3 426.1 179.5 425.6 179.7 425.1 179.9 424.7" fill="none" stroke="#d8c878" stroke-width="0.6" stroke-linejoin="round"/>
<polyline points="167.2 427.5 167.7 427.7 168.2 427.7 168.6 427.6 168.9 427.4 169.2 427.0 169.4 426.5 169.6 426.0 169.9 425.6 170.3 425.4 170.7 425.3 171.2 425.4 171.7 425.6 172.2 425.8 172.7 425.8 173.0 425.7 173.4 425.4 173.6 425.0 173.8 424.5 174.1 424.0 174.4 423.6 174.7 423.4 175.2 423.4 175.7 423.5 176.2 423.7 176.7 423.9 177.1 423.9 177.5 423.7 177.8 423.4 178.1 423.0 178.3 422.5 178.5 422.0 178.8 421.7" fill="none" stroke="#d8c878" stroke-width="0.6" stroke-linejoin="round"/>
<polyline points="181.1 449.1 181.4 449.5 181.7 449.9 182.1 450.0 182.5 450.0 183.0 449.9 183.5 449.6 183.9 449.3 184.4 449.2 184.8 449.2 185.2 449.4 185.5 449.8 185.8 450.3 186.1 450.7 186.5 451.0 186.9 451.1 187.3 451.1 187.7 450.9 188.2 450.7 188.7 450.4 189.1 450.3 189.5 450.4 189.9 450.6 190.2 451.0 190.5 451.4 190.9 451.9 191.2 452.1 191.6 452.3 192.0 452.2 192.5 452.0 193.0 451.7 193.4 451.5 193.9 451.4" fill="none" stroke="#d8c878" stroke-width="0.6" stroke-linejoin="round"/>
<circle cx="179.0" cy="433.8" r="1.3" fill="#9a9ca0"/><circle cx="178.6" cy="433.5" r="0.6" fill="#f0f0f0"/>
<circle cx="196.3" cy="431.8" r="1.3" fill="#9a9ca0"/><circle cx="195.9" cy="431.4" r="0.6" fill="#f0f0f0"/>
<circle cx="162.2" cy="445.2" r="1.3" fill="#9a9ca0"/><circle cx="161.8" cy="444.8" r="0.6" fill="#f0f0f0"/>
<circle cx="192.2" cy="426.2" r="1.3" fill="#9a9ca0"/><circle cx="191.8" cy="425.9" r="0.6" fill="#f0f0f0"/>
<circle cx="162.0" cy="425.8" r="1.3" fill="#9a9ca0"/><circle cx="161.6" cy="425.4" r="0.6" fill="#f0f0f0"/>
<circle cx="211.0" cy="426.1" r="1.3" fill="#9a9ca0"/><circle cx="210.7" cy="425.8" r="0.6" fill="#f0f0f0"/>
<circle cx="192.6" cy="448.5" r="1.3" fill="#9a9ca0"/><circle cx="192.3" cy="448.2" r="0.6" fill="#f0f0f0"/>
<circle cx="160.0" cy="433.3" r="1.3" fill="#9a9ca0"/><circle cx="159.7" cy="433.0" r="0.6" fill="#f0f0f0"/>
<circle cx="184.4" cy="447.1" r="1.3" fill="#9a9ca0"/><circle cx="184.1" cy="446.8" r="0.6" fill="#f0f0f0"/>
<circle cx="168.5" cy="430.0" r="1.3" fill="#9a9ca0"/><circle cx="168.2" cy="429.7" r="0.6" fill="#f0f0f0"/>
<circle cx="171.8" cy="424.6" r="1.3" fill="#9a9ca0"/><circle cx="171.4" cy="424.2" r="0.6" fill="#f0f0f0"/>
<circle cx="195.3" cy="444.5" r="1.3" fill="#9a9ca0"/><circle cx="194.9" cy="444.2" r="0.6" fill="#f0f0f0"/>
<circle cx="182.2" cy="424.3" r="1.3" fill="#9a9ca0"/><circle cx="181.8" cy="423.9" r="0.6" fill="#f0f0f0"/>
<circle cx="197.5" cy="442.5" r="1.3" fill="#9a9ca0"/><circle cx="197.1" cy="442.1" r="0.6" fill="#f0f0f0"/>
<circle cx="194.2" cy="431.8" r="1.3" fill="#9a9ca0"/><circle cx="193.8" cy="431.5" r="0.6" fill="#f0f0f0"/>
<circle cx="203.9" cy="439.7" r="1.3" fill="#9a9ca0"/><circle cx="203.6" cy="439.3" r="0.6" fill="#f0f0f0"/>
<circle cx="190.7" cy="437.4" r="1.3" fill="#9a9ca0"/><circle cx="190.3" cy="437.0" r="0.6" fill="#f0f0f0"/>
<circle cx="171.0" cy="435.1" r="1.3" fill="#9a9ca0"/><circle cx="170.6" cy="434.8" r="0.6" fill="#f0f0f0"/>
<circle cx="201.9" cy="441.1" r="1.3" fill="#9a9ca0"/><circle cx="201.6" cy="440.7" r="0.6" fill="#f0f0f0"/>
<circle cx="177.2" cy="444.6" r="1.3" fill="#9a9ca0"/><circle cx="176.8" cy="444.3" r="0.6" fill="#f0f0f0"/>
<path d="M80.6 399.6 L86 399.6 L92.3 412.5 L86 425.4 L80.6 425.4 L86.6 412.5 Z" fill="#9eae66"/>
<path d="M92.60000000000001 389.3 L92.60000000000001 394.3 A19.3 6.7 0 0 0 131.20000000000002 394.3 L131.20000000000002 389.3 Z" fill="url(#dside)"/>
<ellipse cx="111.9" cy="389.3" rx="19.3" ry="6.7" fill="#8c8c8c"/>
<path d="M115.9 389.8 L131.70000000000002 385.8 L131.70000000000002 392.8 Z" fill="#fff"/>
<path d="M115.9 389.8 L130.70000000000002 392.7 L130.70000000000002 397.7 L115.9 394.8 Z" fill="#8a8a8a"/>
<path d="M131.70000000000002 390.1 L147.70000000000002 384.8 L149.70000000000002 387.8 L149.70000000000002 392.8 L131.70000000000002 395.1 Z" fill="#9a9a9a"/>
<path d="M131.70000000000002 390.1 L147.70000000000002 384.8 L149.70000000000002 387.8 L133.70000000000002 391.8 Z" fill="#8c8c8c"/>
<path d="M100 389.5 q-0.5 -3 1.5 -3.5 q1.5 -1.5 3 0 q1.5 0.5 1 3.5 Z" fill="#6a6a6a"/>
<path d="M111 386.5 q-0.5 -3 1.5 -3.5 q1.5 -1.5 3 0 q1.5 0.5 1 3.5 Z" fill="#6a6a6a"/>
<path d="M108 393.5 q-0.5 -3 1.5 -3.5 q1.5 -1.5 3 0 q1.5 0.5 1 3.5 Z" fill="#6a6a6a"/>
<path d="M139 383.5 q-0.5 -3 1.5 -3.5 q1.5 -1.5 3 0 q1.5 0.5 1 3.5 Z" fill="#6a6a6a"/>
<path d="M93.4 450.6 L93.4 455.6 A19.3 7 0 0 0 132.0 455.6 L132.0 450.6 Z" fill="url(#dside)"/>
<ellipse cx="112.7" cy="450.6" rx="19.3" ry="7" fill="#f0d68c"/>
<path d="M116.7 451.1 L132.5 447.1 L132.5 454.1 Z" fill="#fff"/>
<path d="M116.7 451.1 L131.5 454.0 L131.5 459.0 L116.7 456.1 Z" fill="#8a8a8a"/>
<path d="M132.5 451.40000000000003 L148.5 446.1 L150.5 449.1 L150.5 454.1 L132.5 456.40000000000003 Z" fill="#9a9a9a"/>
<path d="M132.5 451.40000000000003 L148.5 446.1 L150.5 449.1 L134.5 453.1 Z" fill="#f0d68c"/>
<text x="109" y="449.3" font-size="4.5" text-anchor="middle" font-weight="bold" fill="#1a1a1a" stroke="#1a1a1a" stroke-width="0.15" >PASP</text>
<text x="109" y="454.3" font-size="4.5" text-anchor="middle" font-weight="bold" fill="#1a1a1a" stroke="#1a1a1a" stroke-width="0.15" >adsorption</text>
<polyline points="95.0 438.0 95.6 438.1 96.2 438.0 96.6 437.9 96.8 437.5 96.9 436.9 97.0 436.3 97.0 435.7 97.1 435.2 97.4 434.8 97.8 434.6 98.4 434.6 99.0 434.7 99.6 434.7 100.1 434.7 100.6 434.5 100.8 434.1 100.9 433.6 101.0 433.0 101.0 432.4 101.1 431.8 101.4 431.4 101.8 431.3 102.3 431.2 103.0 431.3 103.6 431.4 104.1 431.3 104.5 431.2 104.8 430.8 104.9 430.2 104.9 429.6" fill="none" stroke="#c8b268" stroke-width="0.8" stroke-linejoin="round"/>
<polyline points="105.0 430.0 104.9 430.6 104.9 431.2 105.1 431.6 105.5 431.8 106.0 432.0 106.6 432.0 107.2 432.1 107.8 432.2 108.1 432.5 108.3 432.9 108.3 433.5 108.2 434.1 108.1 434.7 108.2 435.2 108.3 435.7 108.7 435.9 109.2 436.1 109.8 436.1 110.5 436.2 111.0 436.3 111.4 436.6 111.5 437.0 111.5 437.5 111.5 438.1 111.4 438.8 111.4 439.3 111.6 439.7 111.9 440.0 112.5 440.1 113.1 440.2" fill="none" stroke="#c8b268" stroke-width="0.8" stroke-linejoin="round"/>
<polyline points="113.0 437.0 113.2 437.6 113.4 438.1 113.7 438.4 114.1 438.5 114.7 438.4 115.3 438.2 115.9 438.1 116.4 438.0 116.9 438.1 117.2 438.4 117.4 438.9 117.6 439.5 117.7 440.1 118.0 440.6 118.3 440.9 118.7 441.0 119.2 440.9 119.8 440.7 120.4 440.6 121.0 440.5 121.4 440.6 121.7 440.9 122.0 441.4 122.1 442.0 122.3 442.6 122.5 443.1 122.8 443.4 123.3 443.5 123.8 443.4 124.4 443.2" fill="none" stroke="#c8b268" stroke-width="0.8" stroke-linejoin="round"/>
<polyline points="120.0 433.0 120.6 433.2 121.1 433.4 121.5 433.3 121.9 433.0 122.2 432.6 122.4 432.0 122.6 431.4 122.9 430.9 123.2 430.7 123.7 430.6 124.2 430.7 124.8 431.0 125.4 431.2 125.9 431.4 126.3 431.3 126.7 431.0 127.0 430.5 127.2 430.0 127.4 429.4 127.7 428.9 128.0 428.6 128.5 428.6 129.0 428.7 129.6 429.0 130.2 429.2 130.7 429.3 131.1 429.3 131.5 429.0 131.7 428.5 132.0 427.9" fill="none" stroke="#c8b268" stroke-width="0.8" stroke-linejoin="round"/>
<polyline points="96.0 445.0 96.5 445.3 97.1 445.5 97.5 445.5 97.9 445.2 98.2 444.8 98.5 444.2 98.8 443.7 99.1 443.2 99.5 443.0 99.9 443.0 100.4 443.2 101.0 443.5 101.5 443.8 102.0 444.0 102.5 443.9 102.9 443.7 103.2 443.3 103.5 442.7 103.7 442.1 104.0 441.7 104.4 441.5 104.9 441.4 105.4 441.6 105.9 441.9 106.5 442.2 107.0 442.4 107.4 442.4 107.8 442.2 108.1 441.7 108.4 441.2" fill="none" stroke="#c8b268" stroke-width="0.8" stroke-linejoin="round"/>
<polyline points="26.0 477.0 26.4 477.4 26.8 477.7 27.2 477.8 27.7 477.7 28.1 477.4 28.5 477.0 28.9 476.6 29.3 476.3 29.8 476.2 30.2 476.3 30.6 476.6 31.0 477.0 31.4 477.4 31.8 477.7 32.2 477.8 32.7 477.7 33.1 477.4 33.5 477.0 33.9 476.6 34.3 476.3 34.8 476.2 35.2 476.3 35.6 476.6 36.0 477.0" fill="none" stroke="#c8b268" stroke-width="0.8" stroke-linejoin="round"/>
<text x="39" y="479.2" font-size="5.3" text-anchor="start" font-weight="bold" fill="#1a1a1a" stroke="#1a1a1a" stroke-width="0.15" >PASP molecule</text>
<circle cx="85" cy="477" r="1.6" fill="#c8d8e8"/>
<text x="89" y="479.2" font-size="5.3" text-anchor="start" font-weight="bold" fill="#1a1a1a" stroke="#1a1a1a" stroke-width="0.15" >H<tspan dy="1" font-size="3.5">2</tspan></text>
<path d="M108 474.5 l1 2 l2 0 l-1.6 1.4 l0.6 2 l-2 -1.2 l-2 1.2 l0.6 -2 l-1.6 -1.4 l2 0 Z" fill="#9a9a9a"/>
<text x="113" y="479.2" font-size="5.3" text-anchor="start" font-weight="bold" fill="#1a1a1a" stroke="#1a1a1a" stroke-width="0.15" >Zn nano-particles</text>
<path d="M162 480 q-2 -5 2 -6 q2 -2 4 0 q4 0 3 6 Z" fill="#777"/>
<text x="174" y="479.2" font-size="5.3" text-anchor="start" font-weight="bold" fill="#1a1a1a" stroke="#1a1a1a" stroke-width="0.15" >Zn dendrites</text>
</g>
<g id="pe">
<text x="237" y="370.5" font-size="9.5" text-anchor="start" font-weight="bold" fill="#1a1a1a" stroke="#1a1a1a" stroke-width="0.15" >(e)</text>
<path d="M252.1 408.6 L252.5 407.9 L252.9 408.2 L253.4 408.3 L253.8 409.3 L254.2 408.2 L254.6 408.6 L255.1 408.0 L255.5 408.7 L255.9 409.2 L256.3 408.0 L256.8 408.2 L257.2 407.8 L257.6 408.5 L258.0 408.3 L258.5 409.2 L258.9 408.5 L259.3 409.0 L259.7 408.0 L260.2 409.2 L260.6 409.2 L261.0 408.7 L261.4 408.7 L261.9 407.9 L262.3 408.4 L262.7 408.4 L263.1 408.8 L263.6 408.9 L264.0 408.3 L264.4 409.0 L264.8 407.8 L265.2 408.7 L265.7 408.3 L266.1 409.2 L266.5 408.6 L266.9 408.7 L267.4 408.0 L267.8 409.0 L268.2 407.7 L268.6 408.3 L269.1 408.5 L269.5 407.6 L269.9 408.5 L270.3 408.7 L270.8 408.9 L271.2 407.8 L271.6 407.8 L272.0 407.8 L272.5 407.6 L272.9 407.9 L273.3 408.0 L273.7 408.9 L274.2 408.1 L274.6 408.2 L275.0 408.8 L275.4 407.9 L275.9 408.4 L276.3 408.1 L276.7 408.3 L277.1 407.8 L277.6 408.5 L278.0 408.4 L278.4 407.8 L278.8 408.3 L279.2 408.5 L279.7 407.5 L280.1 408.0 L280.5 407.4 L280.9 408.5 L281.4 408.0 L281.8 408.1 L282.2 408.0 L282.6 407.7 L283.1 408.2 L283.5 408.1 L283.9 408.9 L284.3 407.3 L284.8 408.2 L285.2 408.6 L285.6 408.1 L286.0 408.9 L286.5 407.4 L286.9 407.3 L287.3 407.4 L287.7 408.8 L288.2 407.6 L288.6 407.8 L289.0 407.6 L289.4 408.8 L289.9 408.5 L290.3 408.4 L290.7 407.9 L291.1 407.2 L291.5 408.8 L292.0 408.3 L292.4 407.4 L292.8 407.6 L293.2 408.3 L293.7 407.9 L294.1 408.0 L294.5 408.6 L294.9 407.6 L295.4 408.4 L295.8 408.4 L296.2 407.4 L296.6 408.3 L297.1 407.9 L297.5 407.9 L297.9 408.5 L298.3 408.5 L298.8 408.2 L299.2 407.2 L299.6 408.0 L300.0 408.4 L300.5 407.4 L300.9 408.2 L301.3 407.4 L301.7 408.2 L302.2 408.3 L302.6 408.7 L303.0 407.8 L303.4 407.2 L303.8 408.4 L304.3 408.5 L304.7 407.3 L305.1 407.0 L305.5 408.1 L306.0 407.1 L306.4 408.4 L306.8 407.2 L307.2 407.5 L307.7 407.3 L308.1 408.2 L308.5 407.2 L308.9 408.1 L309.4 407.9 L309.8 408.2 L310.2 408.5 L310.6 408.5 L311.1 407.7 L311.5 408.1 L311.9 407.0 L312.3 407.2 L312.8 408.2 L313.2 407.0 L313.6 408.1 L314.0 407.9 L314.5 408.2 L314.9 407.2 L315.3 407.7 L315.7 407.4 L316.2 407.0 L316.6 408.1 L317.0 407.6 L317.4 407.3 L317.8 406.8 L318.3 407.0 L318.7 407.6 L319.1 406.7 L319.5 406.8 L320.0 408.4 L320.4 408.1 L320.8 408.4 L321.2 407.6 L321.7 407.9 L322.1 407.9 L322.5 407.7 L322.9 407.4 L323.4 408.3 L323.8 407.4 L324.2 407.1 L324.6 407.2 L325.1 406.5 L325.5 407.9 L325.9 407.1 L326.3 406.5 L326.8 406.0 L327.2 406.2 L327.6 406.7 L328.0 406.8 L328.5 405.6 L328.9 406.6 L329.3 405.8 L329.7 406.8 L330.1 407.0 L330.6 406.5 L331.0 406.7 L331.4 405.9 L331.8 405.4 L332.3 406.0 L332.7 406.4 L333.1 405.5 L333.5 405.2 L334.0 405.3 L334.4 404.3 L334.8 404.7 L335.2 403.9 L335.7 404.6 L336.1 404.1 L336.5 405.1 L336.9 405.4 L337.4 404.3 L337.8 404.8 L338.2 405.3 L338.6 404.4 L339.1 404.0 L339.5 403.3 L339.9 404.5 L340.3 404.0 L340.8 403.0 L341.2 402.7 L341.6 403.5 L342.0 404.1 L342.5 404.1 L342.9 404.0 L343.3 402.2 L343.7 403.8 L344.1 404.2 L344.6 403.4 L345.0 401.7 L345.4 403.9 L345.8 401.2 L346.3 402.0 L346.7 402.8 L347.1 401.3 L347.5 403.0 L348.0 401.7 L348.4 401.6 L348.8 401.6 L349.2 402.9 L349.7 402.7 L350.1 400.8 L350.5 402.9 L350.9 401.7 L351.4 401.5 L351.8 402.0 L352.2 400.6 L352.6 401.4 L353.1 399.3 L353.5 401.5 L353.9 400.8 L354.3 401.8 L354.8 401.0 L355.2 399.5 L355.6 400.4 L356.0 401.8 L356.4 400.8 L356.9 399.9 L357.3 401.4 L357.7 401.3 L358.1 400.2 L358.6 400.7 L359.0 399.1 L359.4 400.9 L359.8 400.6 L360.3 398.1 L360.7 399.0 L361.1 397.9 L361.5 399.7 L362.0 397.2 L362.4 397.2 L362.8 399.1 L363.2 398.3 L363.7 395.8 L364.1 395.1 L364.5 397.1 L364.9 396.3 L365.4 395.2 L365.8 394.8 L366.2 395.1 L366.6 393.5 L367.1 394.8 L367.5 393.8 L367.9 393.4 L368.3 392.1 L368.7 393.0 L369.2 395.7 L369.6 395.5 L370.0 391.1 L370.4 393.8 L370.9 392.4 L371.3 394.5 L371.7 390.7 L372.1 391.7 L372.6 392.4 L373.0 390.1 L373.4 393.1 L373.8 393.6 L374.3 391.2 L374.7 390.7 L375.1 392.6 L375.5 388.8 L376.0 387.5 L376.4 391.2 L376.8 388.0 L377.2 387.9 L377.7 388.2 L378.1 388.1 L378.5 390.0 L378.9 387.7 L379.4 389.8 L379.4 449.2 L378.9 448.8 L378.5 450.3 L378.1 445.8 L377.7 445.1 L377.2 447.7 L376.8 444.5 L376.4 447.3 L376.0 449.7 L375.5 445.4 L375.1 445.3 L374.7 445.2 L374.3 446.5 L373.8 446.1 L373.4 445.3 L373.0 447.4 L372.6 446.3 L372.1 446.0 L371.7 446.6 L371.3 443.0 L370.9 441.9 L370.4 442.6 L370.0 444.1 L369.6 440.2 L369.2 440.7 L368.7 440.0 L368.3 438.2 L367.9 438.4 L367.5 441.7 L367.1 440.4 L366.6 438.3 L366.2 438.6 L365.8 437.2 L365.4 438.9 L364.9 439.6 L364.5 436.2 L364.1 439.3 L363.7 438.8 L363.2 435.7 L362.8 437.6 L362.4 435.2 L362.0 434.4 L361.5 433.2 L361.1 436.1 L360.7 434.5 L360.3 433.6 L359.8 434.6 L359.4 434.9 L359.0 433.3 L358.6 433.9 L358.1 431.4 L357.7 431.8 L357.3 430.8 L356.9 431.1 L356.4 430.8 L356.0 433.0 L355.6 431.8 L355.2 430.8 L354.8 430.7 L354.3 431.5 L353.9 429.9 L353.5 432.0 L353.1 431.8 L352.6 430.9 L352.2 432.4 L351.8 431.5 L351.4 429.9 L350.9 431.1 L350.5 428.8 L350.1 431.7 L349.7 430.2 L349.2 428.5 L348.8 431.3 L348.4 430.9 L348.0 430.2 L347.5 430.5 L347.1 430.0 L346.7 429.7 L346.3 430.8 L345.8 427.7 L345.4 429.2 L345.0 428.6 L344.6 429.4 L344.1 427.4 L343.7 427.5 L343.3 428.8 L342.9 428.2 L342.5 428.3 L342.0 427.0 L341.6 428.8 L341.2 428.3 L340.8 428.8 L340.3 426.7 L339.9 427.6 L339.5 426.8 L339.1 427.1 L338.6 426.0 L338.2 427.9 L337.8 426.8 L337.4 426.1 L336.9 427.8 L336.5 425.5 L336.1 425.5 L335.7 426.8 L335.2 426.8 L334.8 425.7 L334.4 425.1 L334.0 426.6 L333.5 425.4 L333.1 426.6 L332.7 424.5 L332.3 424.4 L331.8 424.9 L331.4 424.8 L331.0 424.3 L330.6 426.1 L330.1 425.7 L329.7 425.4 L329.3 423.9 L328.9 423.8 L328.5 423.5 L328.0 424.6 L327.6 423.5 L327.2 423.4 L326.8 423.0 L326.3 423.9 L325.9 423.4 L325.5 423.4 L325.1 424.0 L324.6 424.1 L324.2 422.9 L323.8 423.9 L323.4 423.1 L322.9 423.4 L322.5 422.4 L322.1 422.4 L321.7 422.8 L321.2 421.8 L320.8 421.8 L320.4 422.0 L320.0 422.3 L319.5 421.8 L319.1 422.3 L318.7 422.2 L318.3 422.3 L317.8 422.9 L317.4 421.9 L317.0 422.8 L316.6 422.1 L316.2 422.7 L315.7 421.7 L315.3 422.1 L314.9 422.9 L314.5 422.6 L314.0 422.1 L313.6 422.4 L313.2 422.9 L312.8 422.0 L312.3 421.7 L311.9 422.8 L311.5 421.9 L311.1 422.0 L310.6 422.4 L310.2 422.2 L309.8 421.9 L309.4 422.7 L308.9 421.5 L308.5 422.0 L308.1 422.6 L307.7 421.7 L307.2 422.5 L306.8 422.6 L306.4 421.5 L306.0 422.1 L305.5 422.6 L305.1 422.4 L304.7 421.8 L304.3 421.8 L303.8 422.6 L303.4 421.8 L303.0 421.9 L302.6 421.4 L302.2 421.5 L301.7 421.6 L301.3 422.4 L300.9 422.3 L300.5 421.8 L300.0 422.2 L299.6 422.1 L299.2 422.6 L298.8 422.4 L298.3 422.0 L297.9 422.0 L297.5 422.3 L297.1 421.7 L296.6 421.8 L296.2 421.4 L295.8 422.6 L295.4 421.7 L294.9 421.6 L294.5 421.5 L294.1 421.5 L293.7 421.4 L293.2 421.6 L292.8 421.5 L292.4 421.1 L292.0 422.1 L291.5 422.1 L291.1 421.6 L290.7 422.2 L290.3 421.5 L289.9 421.8 L289.4 421.8 L289.0 421.6 L288.6 422.2 L288.2 421.3 L287.7 421.8 L287.3 422.2 L286.9 421.1 L286.5 421.8 L286.0 421.6 L285.6 421.9 L285.2 421.3 L284.8 422.0 L284.3 422.1 L283.9 421.3 L283.5 421.6 L283.1 421.6 L282.6 421.5 L282.2 421.9 L281.8 421.2 L281.4 421.6 L280.9 421.4 L280.5 421.9 L280.1 421.4 L279.7 421.6 L279.2 421.6 L278.8 422.1 L278.4 421.6 L278.0 420.9 L277.6 421.1 L277.1 421.1 L276.7 422.1 L276.3 421.5 L275.9 421.5 L275.4 421.4 L275.0 421.2 L274.6 421.1 L274.2 421.1 L273.7 420.9 L273.3 421.3 L272.9 421.9 L272.5 420.9 L272.0 420.8 L271.6 421.9 L271.2 421.4 L270.8 421.0 L270.3 420.9 L269.9 421.0 L269.5 421.5 L269.1 421.6 L268.6 421.6 L268.2 420.7 L267.8 422.0 L267.4 421.1 L266.9 421.5 L266.5 421.2 L266.1 421.6 L265.7 421.0 L265.2 421.8 L264.8 421.0 L264.4 421.5 L264.0 421.3 L263.6 421.4 L263.1 421.6 L262.7 421.0 L262.3 421.8 L261.9 420.9 L261.4 421.5 L261.0 421.8 L260.6 421.5 L260.2 421.0 L259.7 421.7 L259.3 421.5 L258.9 421.8 L258.5 421.7 L258.0 420.9 L257.6 421.6 L257.2 420.7 L256.8 421.2 L256.3 420.6 L255.9 421.5 L255.5 421.7 L255.1 421.6 L254.6 420.8 L254.2 420.7 L253.8 420.9 L253.4 420.5 L252.9 421.3 L252.5 420.8 L252.1 421.4 Z" fill="#e9c07c"/>
<path d="M335.7 402.8V428.4M347.9 397.1V434.6M341.5 398.4V430.6M369.0 385.7V449.7M373.7 383.8V456.1M333.9 402.4V428.8M350.2 399.6V433.1M356.3 396.4V437.1M362.7 392.0V439.1M344.8 397.4V431.5M322.5 404.6V424.4M329.3 403.7V428.1M352.0 398.4V432.6M343.2 400.6V433.4M372.1 382.1V454.4M334.4 401.8V428.9M350.1 397.4V432.9M326.6 405.9V426.5M327.3 403.3V426.7M336.0 400.4V428.0M329.5 402.8V426.7M373.6 384.8V448.6M375.0 379.8V453.8M361.5 392.1V437.7M364.1 391.4V443.8M317.2 405.7V423.4M374.8 387.8V450.0M337.2 400.3V428.7M359.5 393.0V438.2M341.0 399.3V429.7M333.6 401.3V427.6M333.0 403.9V428.3M374.9 386.8V454.2M372.7 388.6V451.7M335.6 401.7V430.5M375.4 384.9V452.1M348.9 395.9V432.6M333.9 402.8V429.8M335.4 403.0V428.8M350.8 398.7V435.4M329.1 403.8V426.5M372.1 382.1V450.9M341.8 400.4V431.7M326.9 405.8V425.6M352.4 397.7V433.4M351.3 395.1V436.3M332.3 403.9V428.5M370.6 389.7V449.7M336.5 400.0V430.8M332.2 401.4V427.0M332.5 401.4V427.6M376.5 382.1V457.0M374.3 382.4V452.1M343.1 400.3V430.7M337.0 400.8V429.4M320.3 404.6V424.4M374.2 383.8V452.0M366.7 388.2V446.0M354.5 397.0V434.5M318.9 405.6V424.0M327.8 403.0V427.5M337.2 402.8V428.3M356.3 394.4V435.8M365.9 391.8V443.4M331.0 404.8V426.2M372.3 388.4V448.1M357.4 396.3V436.7M318.8 406.6V424.0M376.5 385.5V452.6M365.1 389.0V443.8M362.4 393.5V439.3M337.2 402.2V429.9M363.8 389.6V443.3M328.8 403.3V426.2M325.3 405.2V426.8M342.2 399.2V432.4M356.6 397.4V437.0M359.4 395.9V435.7M320.5 404.9V424.9M318.0 405.7V424.6M370.3 385.1V446.6M338.8 402.6V429.9M363.4 393.3V444.7M333.2 402.7V428.4M349.4 396.8V433.8M367.3 388.6V449.2M369.3 384.9V451.5M357.7 395.8V435.1M332.2 402.9V428.7M346.8 400.5V432.1M350.9 398.9V436.0M336.0 403.2V430.6M345.6 400.2V431.0M349.7 395.7V433.1M339.5 399.4V430.9M365.3 393.7V446.2M378.6 382.3V461.1M324.6 405.8V426.3M330.7 403.7V427.0M326.1 403.6V424.9M376.3 384.2V457.1M338.1 401.9V430.3M375.1 382.6V451.8M355.4 395.1V438.0M341.3 398.6V430.9M378.8 380.7V456.2M361.6 390.6V438.1M340.5 400.5V432.2M373.9 386.6V454.3M357.5 395.0V434.5M343.1 398.0V430.8M375.7 381.1V454.1M331.3 404.1V428.7M355.3 394.4V435.5M356.8 396.5V434.8M345.6 400.2V432.4M338.7 402.2V429.5M372.7 382.4V454.8M330.5 403.5V427.9M327.6 404.6V427.1M376.6 385.7V456.0M347.9 398.6V434.8M317.8 404.6V424.6M340.3 399.5V431.7M342.8 401.3V430.6M375.7 384.5V457.5M322.2 404.5V424.1M358.3 396.3V437.9M360.7 391.0V437.4M343.0 398.1V432.1M323.1 406.4V425.1M325.3 406.1V425.5M334.9 402.2V428.9M358.1 397.0V438.8M321.9 404.6V424.3M345.9 398.5V432.2M346.1 396.8V433.1M351.3 398.4V436.3M358.4 396.2V439.1M333.4 401.1V429.7M367.3 390.6V449.2M348.4 400.3V433.3M350.4 397.9V432.1M326.8 405.3V425.8M333.1 402.4V429.1M353.7 396.5V434.1M343.9 400.2V431.6M334.6 400.6V428.9M342.6 398.1V431.8M370.5 384.6V452.9M333.8 401.9V429.7M341.6 398.6V429.7M321.9 406.1V424.2M331.5 403.9V427.8M353.8 397.5V437.0M378.7 377.0V460.3M376.8 380.5V460.1M347.5 396.3V431.3M361.5 392.1V437.8M368.0 389.5V449.7M378.8 381.7V461.2M326.8 405.3V427.0M364.7 392.2V442.8M343.4 398.7V430.1M352.1 396.1V435.7M320.9 406.0V423.6M344.0 398.7V432.1M339.8 401.0V431.7M376.9 380.3V454.4M320.4 405.1V423.1M331.3 404.4V426.9M318.7 406.5V424.9M373.2 388.9V455.4M367.1 386.2V447.8M334.8 401.3V427.6M353.0 395.2V433.1M327.4 403.1V426.2M328.9 404.3V426.4M317.9 404.6V423.8M355.0 395.3V437.7M368.9 387.7V446.8M355.3 397.5V434.3M361.3 390.7V441.7M322.7 404.7V425.2M363.3 392.6V441.6M366.0 392.4V443.8M323.2 405.0V424.5M364.1 394.3V445.1M348.0 398.6V431.6M335.3 401.4V428.7M327.7 405.4V426.6M317.8 405.3V423.9M352.9 398.7V436.4M326.2 404.1V426.4M370.5 386.1V450.5M355.6 396.8V434.8M331.5 402.0V427.8M346.2 396.7V433.8M358.8 394.1V435.5M351.8 398.5V435.8" stroke="#e9c07c" stroke-width="0.6" fill="none"/>
<line x1="264.3" y1="372.8" x2="264.3" y2="420.3" stroke="#e8bf78" stroke-width="1"/>
<line x1="265.1" y1="372.8" x2="265.1" y2="420.3" stroke="#e8bf78" stroke-width="1"/>
<line x1="339.7" y1="369.9" x2="339.7" y2="425.2" stroke="#e8bf78" stroke-width="1"/>
<line x1="370.2" y1="369.9" x2="370.2" y2="461.2" stroke="#e8bf78" stroke-width="1"/>
<line x1="371.7" y1="382.6" x2="371.7" y2="456.4" stroke="#e8bf78" stroke-width="1"/>
<line x1="374.0" y1="369.9" x2="374.0" y2="461.2" stroke="#e8bf78" stroke-width="1"/>
<line x1="374.8" y1="369.9" x2="374.8" y2="461.2" stroke="#e8bf78" stroke-width="1"/>
<line x1="376.3" y1="369.9" x2="376.3" y2="461.2" stroke="#e8bf78" stroke-width="1"/>
<line x1="377.1" y1="369.9" x2="377.1" y2="458.0" stroke="#e8bf78" stroke-width="1"/>
<line x1="366.4" y1="389.2" x2="366.4" y2="448.2" stroke="#e8bf78" stroke-width="1"/>
<line x1="367.9" y1="392.4" x2="367.9" y2="451.5" stroke="#e8bf78" stroke-width="1"/>
<line x1="364.1" y1="395.7" x2="364.1" y2="444.9" stroke="#e8bf78" stroke-width="1"/>
<line x1="362.6" y1="399.0" x2="362.6" y2="441.6" stroke="#e8bf78" stroke-width="1"/>
<line x1="358.8" y1="400.6" x2="358.8" y2="438.4" stroke="#e8bf78" stroke-width="1"/>
<line x1="355.0" y1="402.3" x2="355.0" y2="435.7" stroke="#e8bf78" stroke-width="1"/>
<line x1="351.2" y1="402.9" x2="351.2" y2="433.8" stroke="#e8bf78" stroke-width="1"/>
<line x1="282.6" y1="402.9" x2="282.6" y2="418.7" stroke="#e8bf78" stroke-width="1"/>
<line x1="284.9" y1="404.6" x2="284.9" y2="418.7" stroke="#e8bf78" stroke-width="1"/>
<line x1="287.2" y1="403.6" x2="287.2" y2="418.7" stroke="#e8bf78" stroke-width="1"/>
<line x1="277.2" y1="407.2" x2="277.2" y2="419.3" stroke="#e8bf78" stroke-width="1"/>
<line x1="377.8" y1="382.6" x2="377.8" y2="461.2" stroke="#e8bf78" stroke-width="1"/>
<line x1="378.6" y1="389.2" x2="378.6" y2="461.2" stroke="#e8bf78" stroke-width="1"/>
<path d="M252.1 411.8V418.9M252.4 411.9V419.5M252.7 411.6V419.1M253.0 412.0V418.9M253.3 411.8V418.8M253.6 411.8V419.1M253.9 411.9V419.3M254.2 411.9V419.4M254.4 412.0V419.3M254.7 411.8V419.0M255.0 411.9V418.8M255.3 411.9V418.7M255.6 411.9V419.2M255.9 412.1V419.0M256.2 412.0V418.8M256.5 411.4V419.5M256.8 411.6V419.0M257.1 411.4V418.9M257.4 411.9V418.7M257.7 411.4V418.8M258.0 411.4V419.4M258.3 411.5V419.4M258.5 411.4V419.1M258.8 411.6V419.1M259.1 411.9V419.0M259.4 411.4V419.4M259.7 411.9V419.1M260.0 411.7V419.0M260.3 412.0V419.2M260.6 412.1V419.5M260.9 411.9V419.3M261.2 411.7V419.3M261.5 411.4V418.8M261.8 412.0V419.5M262.1 411.4V418.9M262.4 411.6V418.9M262.7 411.7V419.1M262.9 411.5V419.0M263.2 411.6V419.0M263.5 411.8V418.8M263.8 411.8V419.4M264.1 411.3V419.0M264.4 411.4V418.8M264.7 411.5V419.4M265.0 411.4V419.5M265.3 411.3V419.4M265.6 411.9V419.3M265.9 411.4V419.3M266.2 411.5V419.5M266.5 411.9V419.5M266.8 411.2V419.0M267.0 411.7V419.3M267.3 411.6V418.8M267.6 411.3V419.0M267.9 411.5V419.4M268.2 411.2V419.1M268.5 411.5V419.5M268.8 411.4V419.0M269.1 411.8V419.2M269.4 411.4V419.1M269.7 411.3V418.8M270.0 411.5V419.5M270.3 411.6V419.0M270.6 411.3V419.2M270.9 411.8V419.0M271.1 411.7V418.9M271.4 411.8V419.0M271.7 411.1V419.2M272.0 411.9V419.3M272.3 411.3V419.2M272.6 411.6V418.8M272.9 411.3V419.0M273.2 411.3V419.3M273.5 411.4V419.2M273.8 411.3V418.8M274.1 411.5V419.6M274.4 411.7V419.4M274.7 411.9V418.8M275.0 411.9V419.5M275.3 411.3V419.5M275.5 411.5V419.2M275.8 411.0V419.3M276.1 411.5V419.1M276.4 411.8V419.2M276.7 411.8V419.2M277.0 411.4V419.2M277.3 411.2V418.9M277.6 411.8V419.1M277.9 411.1V419.1M278.2 411.2V419.0M278.5 411.1V419.2M278.8 411.2V419.3M279.1 411.7V419.0M279.4 411.7V419.3M279.6 411.7V419.2M279.9 411.0V419.4M280.2 411.7V419.2M280.5 411.0V419.6M280.8 410.9V419.0M281.1 411.3V419.5M281.4 411.7V419.1M281.7 411.2V419.3M282.0 411.3V419.2M282.3 411.8V418.8M282.6 411.6V418.8M282.9 411.4V419.6M283.2 410.9V419.0M283.5 411.5V419.3M283.8 411.1V419.2M284.0 411.6V419.3M284.3 411.0V419.0M284.6 411.0V419.2M284.9 410.8V418.9M285.2 411.4V419.0M285.5 411.7V419.3M285.8 411.3V419.6M286.1 411.0V418.8M286.4 411.3V419.4M286.7 411.6V419.4M287.0 411.5V419.4M287.3 411.2V418.8M287.6 411.0V418.9M287.9 410.9V419.4M288.1 411.7V418.8M288.4 411.5V419.3M288.7 411.5V419.4M289.0 411.6V419.1M289.3 411.6V419.4M289.6 410.9V419.0M289.9 411.2V419.4M290.2 410.9V419.0M290.5 411.5V419.2M290.8 411.6V419.5M291.1 411.5V419.4M291.4 411.2V419.4M291.7 411.3V419.2M292.0 411.6V419.6M292.3 411.0V418.9M292.5 411.2V419.2M292.8 411.1V419.1M293.1 411.3V419.1M293.4 410.8V419.4M293.7 410.9V419.2M294.0 410.7V419.3M294.3 410.8V419.3M294.6 411.0V419.4M294.9 410.8V419.2M295.2 411.6V419.6M295.5 411.5V419.1M295.8 411.2V419.4M296.1 411.4V419.4M296.4 410.9V419.6M296.6 411.2V419.2M296.9 410.8V419.2M297.2 411.2V418.9M297.5 410.8V418.9M297.8 411.1V418.9M298.1 410.9V419.1M298.4 410.9V418.9M298.7 410.6V419.1M299.0 410.9V419.6M299.3 411.1V419.6M299.6 410.6V419.3M299.9 410.9V419.5M300.2 410.6V419.2M300.5 411.3V419.1M300.8 411.0V419.6M301.0 411.5V419.1M301.3 410.5V419.5M301.6 411.2V419.1M301.9 411.3V419.4M302.2 410.6V419.7M302.5 411.2V419.0M302.8 411.3V419.6M303.1 411.2V419.2M303.4 411.4V419.6M303.7 410.6V419.4M304.0 411.2V419.5M304.3 410.7V419.6M304.6 411.2V419.4M304.9 410.8V419.2M305.1 411.0V419.1M305.4 411.2V419.7M305.7 411.4V419.7M306.0 411.2V419.6M306.3 411.3V419.2M306.6 411.3V419.6M306.9 411.4V419.7M307.2 411.2V419.0M307.5 411.3V419.5M307.8 411.4V419.4M308.1 410.8V419.7M308.4 410.7V419.5M308.7 411.2V419.4M309.0 410.8V419.3M309.2 411.1V419.2M309.5 411.3V419.7M309.8 410.6V418.9M310.1 410.4V419.3M310.4 410.6V419.0M310.7 411.1V418.9M311.0 410.7V419.5M311.3 411.1V419.1M311.6 410.8V419.2M311.9 410.8V419.7M312.2 411.2V418.9M312.5 410.6V419.4M312.8 411.1V419.3M313.1 410.7V419.2M313.4 410.9V419.7M313.6 411.2V419.2M313.9 410.5V419.0M314.2 410.4V419.6M314.5 411.1V419.0M314.8 410.5V418.9M315.1 410.4V419.6M315.4 410.5V419.0M315.7 410.4V419.1M316.0 410.4V419.6M316.3 411.2V419.3M316.6 410.3V419.0M316.9 410.9V419.5M317.2 410.3V419.6M317.5 411.0V419.2M317.7 410.8V419.1M318.0 410.5V419.6M318.3 410.7V419.1M318.6 411.1V419.4M318.9 410.6V419.2M319.2 410.8V419.4M319.5 410.6V419.0M319.8 411.1V419.2M320.1 410.3V419.5M320.4 410.4V419.7M320.7 410.9V419.8M321.0 410.5V419.4M321.3 410.4V419.4M321.6 410.2V418.9M321.9 410.8V419.3M322.1 410.3V419.5M322.4 410.4V419.2M322.7 410.9V419.8M323.0 411.1V419.3M323.3 410.2V419.1M323.6 411.1V419.0M323.9 411.0V419.2M324.2 411.0V419.4M324.5 411.0V419.1M324.8 411.0V419.4M325.1 410.2V419.7M325.4 411.1V419.0M325.7 410.9V419.3M326.0 411.0V419.0M326.2 410.1V419.4M326.5 410.5V419.2M326.8 411.0V419.6M327.1 410.4V419.6M327.4 410.3V419.2M327.7 410.1V419.8M328.0 410.5V419.3M328.3 410.4V419.5M328.6 410.4V419.2M328.9 410.9V419.6M329.2 410.5V419.7M329.5 410.2V419.6M329.8 410.5V419.2M330.1 410.0V419.8M330.4 410.1V419.6M330.6 410.2V419.2M330.9 410.6V419.5M331.2 410.7V419.4M331.5 410.0V419.6M331.8 410.0V419.7M332.1 410.4V419.3M332.4 410.1V419.8M332.7 410.0V419.6M333.0 410.0V419.3M333.3 410.0V419.5M333.6 410.2V419.2M333.9 410.5V419.3M334.2 410.4V419.4M334.5 411.0V419.1M334.7 410.1V419.2M335.0 410.4V419.1M335.3 410.1V419.2M335.6 410.1V419.2M335.9 410.3V419.3M336.2 410.2V419.8M336.5 410.3V419.8M336.8 410.0V419.2M337.1 410.5V419.8M337.4 410.1V419.3M337.7 410.8V419.6M338.0 409.8V419.7M338.3 410.0V419.1M338.6 409.8V419.7M338.9 410.7V419.7M339.1 410.6V419.5M339.4 410.3V419.2M339.7 410.2V419.1M340.0 409.8V419.2M340.3 409.8V419.4M340.6 410.3V419.2M340.9 410.0V419.6M341.2 410.2V419.5M341.5 410.3V419.1M341.8 409.7V419.2M342.1 410.5V419.1M342.4 409.8V419.6M342.7 410.0V419.2M343.0 410.2V419.1M343.2 410.7V419.1M343.5 410.8V419.6M343.8 410.5V419.5M344.1 410.1V419.5M344.4 410.3V419.4M344.7 410.7V419.5M345.0 410.5V419.3M345.3 410.0V419.0M345.6 410.3V419.3M345.9 410.7V419.5M346.2 410.0V419.7M346.5 410.3V419.3M346.8 410.4V419.2M347.1 410.5V419.5M347.4 409.6V419.3M347.6 410.1V419.3M347.9 410.4V419.6M348.2 409.9V419.8M348.5 410.5V419.8M348.8 409.8V419.7M349.1 410.5V419.4M349.4 410.0V419.7M349.7 410.3V419.2M350.0 410.4V419.1M350.3 409.9V419.2M350.6 410.5V419.1M350.9 409.7V419.9M351.2 409.9V419.3M351.5 410.5V419.7M351.7 409.6V419.5M352.0 410.6V419.7M352.3 409.6V419.6M352.6 409.8V419.2M352.9 409.8V419.3M353.2 410.6V419.0M353.5 410.1V419.6M353.8 409.9V419.6M354.1 410.1V419.9M354.4 409.9V419.8M354.7 410.6V419.5M355.0 409.5V419.9M355.3 410.4V419.1M355.6 409.5V419.4M355.8 410.4V419.7M356.1 410.0V419.5M356.4 409.6V419.6M356.7 409.9V419.9M357.0 410.5V419.8M357.3 409.8V419.6M357.6 409.7V419.3M357.9 409.6V419.5M358.2 409.5V419.2M358.5 409.9V419.4M358.8 409.7V419.3M359.1 410.3V420.0M359.4 410.2V419.2M359.7 409.6V419.8M360.0 410.6V419.4M360.2 410.3V419.7M360.5 409.4V419.9M360.8 410.5V419.1M361.1 410.3V419.1M361.4 410.1V419.8M361.7 409.9V419.7M362.0 410.0V419.5M362.3 410.2V419.7M362.6 409.7V419.4M362.9 410.5V419.8M363.2 410.4V419.2M363.5 409.8V419.7M363.8 409.6V419.4M364.1 410.1V419.8M364.3 409.9V419.9M364.6 409.6V420.0M364.9 410.0V419.5M365.2 409.9V419.4M365.5 410.2V419.3M365.8 409.4V419.2M366.1 409.5V419.5M366.4 410.1V419.6M366.7 410.0V419.5M367.0 410.3V420.0M367.3 409.9V420.0M367.6 409.9V419.9M367.9 410.0V419.7M368.2 410.1V419.7M368.5 409.8V420.0M368.7 409.7V419.5M369.0 409.9V419.8M369.3 409.2V419.3M369.6 410.4V419.7M369.9 410.2V419.8M370.2 409.8V419.4M370.5 409.8V419.6M370.8 410.1V419.3M371.1 409.2V419.4M371.4 409.4V419.6M371.7 409.9V419.4M372.0 410.3V419.7M372.3 409.9V419.3M372.6 409.3V419.9M372.8 409.9V419.9M373.1 409.4V419.9M373.4 409.8V419.8M373.7 409.4V419.4M374.0 410.0V419.7M374.3 409.8V419.5M374.6 409.5V419.9M374.9 410.1V419.5M375.2 409.9V419.2M375.5 409.2V419.9M375.8 410.1V419.9M376.1 409.4V419.9M376.4 409.7V419.3M376.7 410.2V419.6M377.0 409.9V419.1M377.2 410.1V419.1M377.5 409.1V419.3M377.8 409.3V419.1M378.1 409.3V419.8M378.4 409.4V419.5M378.7 409.4V419.2M379.0 410.1V419.3M379.3 409.4V419.7M379.6 410.3V420.0M379.9 409.6V419.9M380.2 409.8V419.7M380.5 409.8V419.7M380.8 409.2V419.8M381.1 410.0V419.7M381.3 410.0V419.3M381.6 409.2V419.4M381.9 410.0V419.3M382.2 410.0V419.9M382.5 410.0V420.1M382.8 409.8V419.7M383.1 409.1V419.7M383.4 409.4V419.7M383.7 409.0V419.2M384.0 409.8V420.0M384.3 404.1V419.6M384.6 409.4V420.0M384.9 409.8V419.8M385.2 409.3V419.8M385.4 409.0V419.2M385.7 408.9V419.5M386.0 409.8V419.9M386.3 409.1V419.9M386.6 409.9V419.7M386.9 409.6V419.4M387.2 409.8V419.3M387.5 409.2V419.8M387.8 409.5V419.9M388.1 409.9V419.5M388.4 408.9V419.8M388.7 409.3V420.0M389.0 409.5V419.8M389.3 409.7V420.1M389.6 410.0V419.6M389.8 409.0V419.2M390.1 408.9V419.3M390.4 409.3V419.6M390.7 409.1V419.6M391.0 409.8V420.1M391.3 409.4V419.5M391.6 409.8V419.8M391.9 409.6V419.4M392.2 409.8V419.3M392.5 409.8V419.2M392.8 410.0V420.0M393.1 408.9V419.4M393.4 409.8V419.7M393.7 409.6V419.4M393.9 409.2V419.3M394.2 409.8V419.9M394.5 409.7V420.0M394.8 409.7V419.2M395.1 409.3V419.2M395.4 408.9V420.1M395.7 408.9V419.6M396.0 409.8V419.6M396.3 409.0V419.6M396.6 408.8V419.9M396.9 409.5V419.9M397.2 408.8V419.9M397.5 409.8V419.6M397.8 409.8V419.4M398.1 408.9V419.8M398.3 409.4V419.9M398.6 409.0V419.8M398.9 409.3V419.7M399.2 409.4V419.6M399.5 409.9V419.4M399.8 409.2V419.5M400.1 410.0V420.0M400.4 409.0V419.5M400.7 409.2V419.3M401.0 409.3V419.4M401.3 409.1V419.8M401.6 409.4V419.6M401.9 409.5V420.0M402.2 409.7V419.7M402.4 409.8V419.3M402.7 408.7V419.7M403.0 408.5V419.6M403.3 409.3V419.6M403.6 408.7V419.4M403.9 408.8V420.1M404.2 409.8V420.1" stroke="#9178cc" stroke-width="0.5" fill="none"/>
<rect x="252.1" y="412.1" width="152.4" height="6.6" fill="#9178cc"/>
<rect x="252.1" y="369.9" width="152.4" height="91.30000000000001" fill="none" stroke="#222" stroke-width="0.8"/>
<text x="249" y="384.99999999999994" font-size="6.9" text-anchor="end" font-weight="bold" fill="#1a1a1a" stroke="#1a1a1a" stroke-width="0.15" letter-spacing="0.25">1 000</text>
<line x1="252.1" y1="382.6" x2="254.1" y2="382.6" stroke="#222" stroke-width="0.6"/>
<text x="249" y="401.4" font-size="6.9" text-anchor="end" font-weight="bold" fill="#1a1a1a" stroke="#1a1a1a" stroke-width="0.15" letter-spacing="0.25">500</text>
<line x1="252.1" y1="399.0" x2="254.1" y2="399.0" stroke="#222" stroke-width="0.6"/>
<text x="249" y="417.79999999999995" font-size="6.9" text-anchor="end" font-weight="bold" fill="#1a1a1a" stroke="#1a1a1a" stroke-width="0.15" letter-spacing="0.25">0</text>
<line x1="252.1" y1="415.4" x2="254.1" y2="415.4" stroke="#222" stroke-width="0.6"/>
<text x="249" y="434.19999999999993" font-size="6.9" text-anchor="end" font-weight="bold" fill="#1a1a1a" stroke="#1a1a1a" stroke-width="0.15" letter-spacing="0.25">−500</text>
<line x1="252.1" y1="431.8" x2="254.1" y2="431.8" stroke="#222" stroke-width="0.6"/>
<text x="249" y="450.59999999999997" font-size="6.9" text-anchor="end" font-weight="bold" fill="#1a1a1a" stroke="#1a1a1a" stroke-width="0.15" letter-spacing="0.25">−1 000</text>
<line x1="252.1" y1="448.2" x2="254.1" y2="448.2" stroke="#222" stroke-width="0.6"/>
<text x="252.1" y="470.5" font-size="6.9" text-anchor="middle" font-weight="bold" fill="#1a1a1a" stroke="#1a1a1a" stroke-width="0.15" letter-spacing="0.2">0</text>
<line x1="252.1" y1="461.2" x2="252.1" y2="459.2" stroke="#222" stroke-width="0.6"/>
<text x="290.2" y="470.5" font-size="6.9" text-anchor="middle" font-weight="bold" fill="#1a1a1a" stroke="#1a1a1a" stroke-width="0.15" letter-spacing="0.2">50</text>
<line x1="290.2" y1="461.2" x2="290.2" y2="459.2" stroke="#222" stroke-width="0.6"/>
<text x="328.3" y="470.5" font-size="6.9" text-anchor="middle" font-weight="bold" fill="#1a1a1a" stroke="#1a1a1a" stroke-width="0.15" letter-spacing="0.2">100</text>
<line x1="328.3" y1="461.2" x2="328.3" y2="459.2" stroke="#222" stroke-width="0.6"/>
<text x="366.4" y="470.5" font-size="6.9" text-anchor="middle" font-weight="bold" fill="#1a1a1a" stroke="#1a1a1a" stroke-width="0.15" letter-spacing="0.2">150</text>
<line x1="366.4" y1="461.2" x2="366.4" y2="459.2" stroke="#222" stroke-width="0.6"/>
<text x="404.5" y="470.5" font-size="6.9" text-anchor="middle" font-weight="bold" fill="#1a1a1a" stroke="#1a1a1a" stroke-width="0.15" letter-spacing="0.2">200</text>
<line x1="404.5" y1="461.2" x2="404.5" y2="459.2" stroke="#222" stroke-width="0.6"/>
<text x="328" y="480.2" font-size="7.3" text-anchor="middle" font-weight="bold" fill="#1a1a1a" stroke="#1a1a1a" stroke-width="0.15" >Time/h</text>
<text transform="translate(224 416) rotate(-90)" font-size="7.5" font-weight="bold" text-anchor="middle" fill="#1a1a1a" stroke="#1a1a1a" stroke-width="0.15">Voltage/mV</text>
<line x1="265.8" y1="377.5" x2="278" y2="377.5" stroke="#e8bd6e" stroke-width="1.2"/>
<line x1="265.8" y1="385.5" x2="278" y2="385.5" stroke="#8c6cc4" stroke-width="1.2"/>
<text x="280" y="380.3" font-size="7.2" text-anchor="start" font-weight="bold" fill="#1a1a1a" stroke="#1a1a1a" stroke-width="0.15" >Without PASP</text>
<text x="280" y="388.3" font-size="7.2" text-anchor="start" font-weight="bold" fill="#1a1a1a" stroke="#1a1a1a" stroke-width="0.15" >With PASP</text>
<text x="271.5" y="456.3" font-size="7.4" text-anchor="start" font-weight="bold" fill="#1a1a1a" stroke="#1a1a1a" stroke-width="0.15" >20 mA·cm<tspan dy="-2.4" font-size="4.8">−2</tspan><tspan dy="2.4">/1 mAh·cm</tspan><tspan dy="-2.4" font-size="4.8">−2</tspan></text>
</g>
<g id="pf">
<text x="0" y="489.8" font-size="9.5" text-anchor="start" font-weight="bold" fill="#1a1a1a" stroke="#1a1a1a" stroke-width="0.15" >(f)</text>
<path d="M38.7 527.3 L41.8 527.2 L44.9 527.1 L48.0 527.0 L51.1 526.8 L54.1 526.8 L57.2 526.7 L60.3 527.1 L63.4 527.0 L66.5 526.9 L69.6 527.2 L72.7 527.1 L75.8 525.7 L78.9 525.6 L81.9 525.4 L85.0 525.3 L88.1 525.4 L91.2 525.5 L94.3 525.5 L97.4 525.2 L100.5 525.6 L103.6 525.2 L106.7 525.1 L109.8 525.4 L112.8 525.3 L115.9 525.3 L119.0 525.6 L122.1 525.3 L125.2 525.6 L128.3 525.6 L131.4 525.4 L134.5 525.5 L137.6 525.2 L140.6 525.1 L143.7 525.1 L146.8 525.5 L149.9 525.6 L153.0 525.4 L156.1 525.5 L159.2 525.7 L162.3 525.2 L165.4 525.5 L168.4 525.9 L171.5 525.6 L174.6 526.0 L177.7 526.1 L180.8 526.1 L183.9 526.6 L187.0 526.4 L190.1 526.8 L193.2 526.8 L196.2 527.0 L199.3 527.1 L202.4 526.9 L205.5 527.2 L208.6 527.0 L211.7 526.8 L214.8 526.9 L217.9 527.2 L221.0 527.3 L224.1 527.0 L227.1 526.8 L230.2 527.0 L233.3 527.1 L236.4 526.9 L239.5 526.8 L242.6 526.8 L245.7 526.8 L248.8 527.0 L251.9 527.1 L254.9 527.1 L258.0 527.0 L261.1 526.9 L264.2 526.8 L267.3 527.2 L270.4 527.2 L273.5 527.1 L276.6 526.9 L279.7 526.9 L282.7 526.9 L285.8 527.0 L288.9 527.0 L292.0 526.9 L295.1 526.8 L298.2 526.9 L301.3 527.0 L304.4 527.0 L307.5 527.0 L310.5 527.2 L313.6 527.2 L316.7 527.3 L319.8 526.7 L322.9 526.9 L326.0 526.8 L329.1 526.8 L332.2 526.9 L335.3 526.9 L338.3 527.2 L341.4 526.8 L344.5 527.2 L347.6 526.7 L350.7 526.8 L353.8 527.0 L356.9 527.0 L360.0 527.2 L363.1 527.1 L366.2 526.8 L369.2 527.2 L372.3 527.0 L375.4 527.1 L378.5 527.2 L381.6 526.9 L384.7 527.1 L387.8 526.9 L390.9 527.3 L394.0 526.8 L397.0 527.2 L400.1 526.7 L403.2 527.1 L406.3 527.0 L409.4 526.9 L409.4 535.5 L406.3 535.6 L403.2 536.0 L400.1 535.7 L397.0 536.0 L394.0 535.7 L390.9 536.1 L387.8 536.0 L384.7 536.1 L381.6 535.9 L378.5 535.8 L375.4 535.8 L372.3 535.7 L369.2 535.6 L366.2 535.6 L363.1 535.7 L360.0 535.9 L356.9 536.0 L353.8 535.9 L350.7 535.9 L347.6 535.9 L344.5 535.6 L341.4 536.1 L338.3 535.9 L335.3 535.5 L332.2 535.9 L329.1 535.9 L326.0 536.0 L322.9 535.7 L319.8 536.0 L316.7 535.9 L313.6 535.6 L310.5 535.7 L307.5 535.8 L304.4 535.6 L301.3 535.6 L298.2 536.0 L295.1 535.6 L292.0 535.7 L288.9 535.8 L285.8 536.0 L282.7 535.7 L279.7 536.1 L276.6 535.7 L273.5 535.7 L270.4 535.9 L267.3 535.8 L264.2 536.0 L261.1 536.0 L258.0 535.8 L254.9 535.8 L251.9 535.8 L248.8 535.5 L245.7 535.8 L242.6 535.9 L239.5 536.0 L236.4 536.0 L233.3 535.5 L230.2 535.8 L227.1 535.8 L224.1 535.8 L221.0 535.5 L217.9 535.6 L214.8 535.8 L211.7 535.9 L208.6 536.0 L205.5 535.8 L202.4 535.7 L199.3 535.6 L196.2 536.1 L193.2 535.9 L190.1 536.3 L187.0 536.4 L183.9 536.2 L180.8 536.2 L177.7 536.5 L174.6 536.2 L171.5 536.3 L168.4 536.9 L165.4 536.5 L162.3 536.5 L159.2 536.7 L156.1 536.7 L153.0 537.1 L149.9 537.0 L146.8 537.0 L143.7 536.9 L140.6 536.7 L137.6 537.0 L134.5 537.0 L131.4 537.0 L128.3 536.6 L125.2 536.9 L122.1 536.5 L119.0 536.8 L115.9 536.6 L112.8 536.7 L109.8 537.0 L106.7 536.6 L103.6 536.5 L100.5 536.6 L97.4 536.7 L94.3 536.6 L91.2 536.7 L88.1 536.9 L85.0 536.5 L81.9 536.9 L78.9 536.7 L75.8 536.7 L72.7 535.9 L69.6 535.9 L66.5 535.5 L63.4 535.9 L60.3 535.8 L57.2 535.6 L54.1 535.8 L51.1 535.8 L48.0 535.6 L44.9 535.8 L41.8 535.6 L38.7 536.1 Z" fill="#ea8286"/>
<path d="M38.7 525.1 L39.9 525.4 L41.2 525.1 L42.4 525.1 L43.6 525.2 L44.9 525.4 L46.1 525.5 L47.3 525.3 L48.6 525.3 L49.8 525.5 L51.1 525.2 L52.3 525.4 L53.5 525.1 L54.8 524.9 L56.0 525.5 L57.2 525.3 L58.5 525.1 L59.7 525.3 L60.9 525.3 L62.2 525.2 L63.4 524.9 L64.6 525.0 L65.9 525.1 L67.1 525.4 L68.4 525.2 L69.6 525.1 L70.8 525.1 L72.1 525.2 L73.3 525.4 L74.5 525.5 L75.8 525.4 L77.0 525.5 L78.2 525.5 L79.5 525.5 L80.7 525.8 L81.9 525.4 L83.2 525.4 L84.4 525.9 L85.7 526.1 L86.9 525.9 L88.1 526.0 L89.4 526.1 L90.6 525.8 L91.8 526.1 L93.1 526.2 L94.3 525.8 L95.5 526.1 L96.8 526.3 L98.0 526.2 L99.2 526.0 L100.5 526.2 L101.7 525.8 L103.0 525.9 L104.2 526.0 L105.4 525.9 L106.7 525.7 L107.9 526.1 L109.1 526.2 L110.4 526.2 L111.6 525.8 L112.8 526.0 L114.1 526.1 L115.3 526.0 L116.5 526.0 L117.8 526.1 L119.0 526.2 L120.3 525.9 L121.5 526.2 L122.7 526.3 L124.0 525.8 L125.2 525.9 L126.4 526.0 L127.7 526.2 L128.9 525.8 L130.1 526.2 L131.4 525.8 L132.6 525.8 L133.8 526.1 L135.1 526.2 L136.3 525.8 L137.6 526.1 L138.8 526.0 L140.0 526.3 L141.3 526.1 L142.5 526.2 L143.7 525.8 L145.0 526.0 L146.2 525.9 L147.4 525.9 L148.7 525.8 L149.9 526.3 L151.1 526.2 L152.4 526.1 L153.6 526.1 L154.9 526.1 L156.1 526.3 L157.3 526.3 L158.6 525.9 L159.8 526.0 L161.0 526.1 L162.3 526.1 L163.5 525.9 L164.7 526.1 L166.0 525.9 L167.2 525.7 L168.4 525.9 L169.7 526.0 L170.9 526.3 L172.2 526.1 L173.4 525.9 L174.6 526.1 L175.9 526.3 L177.1 526.2 L178.3 525.8 L179.6 526.1 L180.8 526.3 L182.0 527.3 L183.3 527.5 L184.5 527.3 L185.7 527.3 L187.0 527.2 L188.2 527.4 L189.5 527.1 L190.7 527.4 L191.9 526.9 L193.2 527.0 L194.4 527.4 L195.6 527.0 L196.9 527.1 L198.1 527.3 L199.3 527.3 L200.6 527.4 L201.8 527.4 L203.0 527.1 L204.3 527.4 L205.5 527.3 L206.8 527.4 L208.0 527.3 L209.2 527.2 L210.5 527.4 L211.7 527.2 L211.7 535.4 L210.5 535.8 L209.2 535.7 L208.0 535.3 L206.8 535.6 L205.5 535.8 L204.3 535.8 L203.0 535.6 L201.8 535.7 L200.6 535.8 L199.3 535.7 L198.1 535.6 L196.9 535.6 L195.6 535.7 L194.4 535.5 L193.2 535.6 L191.9 535.4 L190.7 535.4 L189.5 535.5 L188.2 535.3 L187.0 535.7 L185.7 535.5 L184.5 535.7 L183.3 535.4 L182.0 535.9 L180.8 535.7 L179.6 535.3 L178.3 535.5 L177.1 535.2 L175.9 535.4 L174.6 535.2 L173.4 535.2 L172.2 535.6 L170.9 535.6 L169.7 535.3 L168.4 535.1 L167.2 535.3 L166.0 535.2 L164.7 535.3 L163.5 535.5 L162.3 535.7 L161.0 535.5 L159.8 535.7 L158.6 535.4 L157.3 535.2 L156.1 535.5 L154.9 535.7 L153.6 535.6 L152.4 535.2 L151.1 535.6 L149.9 535.1 L148.7 535.6 L147.4 535.5 L146.2 535.5 L145.0 535.6 L143.7 535.4 L142.5 535.3 L141.3 535.4 L140.0 535.3 L138.8 535.1 L137.6 535.6 L136.3 535.4 L135.1 535.5 L133.8 535.7 L132.6 535.1 L131.4 535.4 L130.1 535.4 L128.9 535.3 L127.7 535.2 L126.4 535.7 L125.2 535.2 L124.0 535.4 L122.7 535.6 L121.5 535.5 L120.3 535.5 L119.0 535.6 L117.8 535.7 L116.5 535.4 L115.3 535.6 L114.1 535.4 L112.8 535.7 L111.6 535.2 L110.4 535.6 L109.1 535.2 L107.9 535.5 L106.7 535.3 L105.4 535.6 L104.2 535.6 L103.0 535.5 L101.7 535.6 L100.5 535.5 L99.2 535.4 L98.0 535.6 L96.8 535.1 L95.5 535.2 L94.3 535.1 L93.1 535.2 L91.8 535.1 L90.6 535.5 L89.4 535.6 L88.1 535.7 L86.9 535.5 L85.7 535.9 L84.4 536.2 L83.2 536.0 L81.9 536.7 L80.7 537.0 L79.5 536.7 L78.2 537.4 L77.0 537.2 L75.8 537.6 L74.5 537.3 L73.3 537.5 L72.1 537.6 L70.8 537.5 L69.6 537.9 L68.4 537.4 L67.1 537.7 L65.9 537.7 L64.6 537.7 L63.4 537.6 L62.2 537.4 L60.9 537.6 L59.7 537.3 L58.5 537.4 L57.2 537.7 L56.0 537.7 L54.8 537.5 L53.5 537.3 L52.3 537.5 L51.1 537.3 L49.8 537.7 L48.6 537.9 L47.3 537.6 L46.1 537.6 L44.9 537.6 L43.6 537.4 L42.4 537.7 L41.2 537.4 L39.9 537.7 L38.7 537.6 Z" fill="#50bea4"/>
<path d="M38.7 525.2 Q53.5 524 63.4 525 L75.8 525.4" stroke="#2a3a70" stroke-width="0.9" fill="none"/>
<path d="M38.7 537.8 Q57.2 538.4 75.8 537.6" stroke="#2a3a70" stroke-width="0.9" fill="none"/>
<path d="M39.300000000000004 531 L39.300000000000004 557 M40.1 520 L40.1 541" stroke="#2a3a70" stroke-width="0.8"/>
<rect x="38.7" y="488.8" width="370.7" height="84.69999999999999" fill="none" stroke="#8a8a8a" stroke-width="0.7"/>
<path d="M38.7 488.8 L38.7 573.5 L409.4 573.5" fill="none" stroke="#555" stroke-width="0.7"/>
<text x="35.6" y="491.24999999999994" font-size="6.3" text-anchor="end" font-weight="bold" fill="#1a1a1a" stroke="#1a1a1a" stroke-width="0.15" >0.3</text>
<line x1="38.7" y1="489.0" x2="40.5" y2="489.0" stroke="#555" stroke-width="0.5"/>
<text x="35.6" y="505.33333333333326" font-size="6.3" text-anchor="end" font-weight="bold" fill="#1a1a1a" stroke="#1a1a1a" stroke-width="0.15" >0.2</text>
<line x1="38.7" y1="503.1" x2="40.5" y2="503.1" stroke="#555" stroke-width="0.5"/>
<text x="35.6" y="519.4166666666666" font-size="6.3" text-anchor="end" font-weight="bold" fill="#1a1a1a" stroke="#1a1a1a" stroke-width="0.15" >0.1</text>
<line x1="38.7" y1="517.2" x2="40.5" y2="517.2" stroke="#555" stroke-width="0.5"/>
<text x="35.6" y="533.5" font-size="6.3" text-anchor="end" font-weight="bold" fill="#1a1a1a" stroke="#1a1a1a" stroke-width="0.15" >0.0</text>
<line x1="38.7" y1="531.3" x2="40.5" y2="531.3" stroke="#555" stroke-width="0.5"/>
<text x="35.6" y="547.5833333333334" font-size="6.3" text-anchor="end" font-weight="bold" fill="#1a1a1a" stroke="#1a1a1a" stroke-width="0.15" >−0.1</text>
<line x1="38.7" y1="545.4" x2="40.5" y2="545.4" stroke="#555" stroke-width="0.5"/>
<text x="35.6" y="561.6666666666666" font-size="6.3" text-anchor="end" font-weight="bold" fill="#1a1a1a" stroke="#1a1a1a" stroke-width="0.15" >−0.2</text>
<line x1="38.7" y1="559.5" x2="40.5" y2="559.5" stroke="#555" stroke-width="0.5"/>
<text x="35.6" y="575.75" font-size="6.3" text-anchor="end" font-weight="bold" fill="#1a1a1a" stroke="#1a1a1a" stroke-width="0.15" >−0.3</text>
<line x1="38.7" y1="573.5" x2="40.5" y2="573.5" stroke="#555" stroke-width="0.5"/>
<text x="38.7" y="583.2" font-size="6.3" text-anchor="middle" font-weight="bold" fill="#1a1a1a" stroke="#1a1a1a" stroke-width="0.15" >0</text>
<line x1="38.7" y1="573.5" x2="38.7" y2="571.7" stroke="#555" stroke-width="0.5"/>
<text x="69.59166666666667" y="583.2" font-size="6.3" text-anchor="middle" font-weight="bold" fill="#1a1a1a" stroke="#1a1a1a" stroke-width="0.15" >250</text>
<line x1="69.6" y1="573.5" x2="69.6" y2="571.7" stroke="#555" stroke-width="0.5"/>
<text x="100.48333333333333" y="583.2" font-size="6.3" text-anchor="middle" font-weight="bold" fill="#1a1a1a" stroke="#1a1a1a" stroke-width="0.15" >500</text>
<line x1="100.5" y1="573.5" x2="100.5" y2="571.7" stroke="#555" stroke-width="0.5"/>
<text x="131.375" y="583.2" font-size="6.3" text-anchor="middle" font-weight="bold" fill="#1a1a1a" stroke="#1a1a1a" stroke-width="0.15" >750</text>
<line x1="131.4" y1="573.5" x2="131.4" y2="571.7" stroke="#555" stroke-width="0.5"/>
<text x="162.26666666666665" y="583.2" font-size="6.3" text-anchor="middle" font-weight="bold" fill="#1a1a1a" stroke="#1a1a1a" stroke-width="0.15" >1 000</text>
<line x1="162.3" y1="573.5" x2="162.3" y2="571.7" stroke="#555" stroke-width="0.5"/>
<text x="193.15833333333336" y="583.2" font-size="6.3" text-anchor="middle" font-weight="bold" fill="#1a1a1a" stroke="#1a1a1a" stroke-width="0.15" >1 250</text>
<line x1="193.2" y1="573.5" x2="193.2" y2="571.7" stroke="#555" stroke-width="0.5"/>
<text x="224.05" y="583.2" font-size="6.3" text-anchor="middle" font-weight="bold" fill="#1a1a1a" stroke="#1a1a1a" stroke-width="0.15" >1 500</text>
<line x1="224.1" y1="573.5" x2="224.1" y2="571.7" stroke="#555" stroke-width="0.5"/>
<text x="254.94166666666666" y="583.2" font-size="6.3" text-anchor="middle" font-weight="bold" fill="#1a1a1a" stroke="#1a1a1a" stroke-width="0.15" >1 750</text>
<line x1="254.9" y1="573.5" x2="254.9" y2="571.7" stroke="#555" stroke-width="0.5"/>
<text x="285.8333333333333" y="583.2" font-size="6.3" text-anchor="middle" font-weight="bold" fill="#1a1a1a" stroke="#1a1a1a" stroke-width="0.15" >2 000</text>
<line x1="285.8" y1="573.5" x2="285.8" y2="571.7" stroke="#555" stroke-width="0.5"/>
<text x="316.72499999999997" y="583.2" font-size="6.3" text-anchor="middle" font-weight="bold" fill="#1a1a1a" stroke="#1a1a1a" stroke-width="0.15" >2 250</text>
<line x1="316.7" y1="573.5" x2="316.7" y2="571.7" stroke="#555" stroke-width="0.5"/>
<text x="347.6166666666667" y="583.2" font-size="6.3" text-anchor="middle" font-weight="bold" fill="#1a1a1a" stroke="#1a1a1a" stroke-width="0.15" >2 500</text>
<line x1="347.6" y1="573.5" x2="347.6" y2="571.7" stroke="#555" stroke-width="0.5"/>
<text x="378.5083333333333" y="583.2" font-size="6.3" text-anchor="middle" font-weight="bold" fill="#1a1a1a" stroke="#1a1a1a" stroke-width="0.15" >2 750</text>
<line x1="378.5" y1="573.5" x2="378.5" y2="571.7" stroke="#555" stroke-width="0.5"/>
<text x="409.4" y="583.2" font-size="6.3" text-anchor="middle" font-weight="bold" fill="#1a1a1a" stroke="#1a1a1a" stroke-width="0.15" >3 000</text>
<line x1="409.4" y1="573.5" x2="409.4" y2="571.7" stroke="#555" stroke-width="0.5"/>
<text x="223" y="592" font-size="6.8" text-anchor="middle" font-weight="bold" fill="#1a1a1a" stroke="#1a1a1a" stroke-width="0.15" >Time/h</text>
<text transform="translate(19.6 532) rotate(-90)" font-size="6.6" stroke="#1a1a1a" stroke-width="0.15" font-weight="bold" text-anchor="middle" fill="#1a1a1a">Voltage (V vs. Zn/Zn<tspan dy="-2" font-size="4.3">2+</tspan><tspan dy="2">)</tspan></text>
<text x="46.9" y="509.9" font-size="7.8" text-anchor="start" font-weight="bold" fill="#1a1a1a" stroke="#1a1a1a" stroke-width="0.15" >1 mA·cm<tspan dy="-2.5" font-size="5">−2</tspan><tspan dy="2.5">, 1 mAh·cm</tspan><tspan dy="-2.5" font-size="5">−2</tspan></text>
<circle cx="84.7" cy="529" r="7.7" fill="none" stroke="#444" stroke-width="0.6" stroke-dasharray="1.6 1"/>
<circle cx="98" cy="532.8" r="5.5" fill="none" stroke="#444" stroke-width="0.6" stroke-dasharray="1.6 1"/>
<rect x="88.8" y="538.8" width="35.2" height="29" fill="#fff" stroke="#777" stroke-width="0.5"/>
<rect x="89.2" y="551.6" width="15.4" height="3.2" fill="#8aa0c8"/>
<line x1="104.6" y1="553.2" x2="124" y2="553.2" stroke="#5a74a8" stroke-width="0.7"/>
<text x="94" y="546" font-size="4.6" text-anchor="start" font-weight="bold" fill="#1a1a1a" stroke="#1a1a1a" stroke-width="0.15" >Short circuit</text>
<text x="88.2" y="541.5" font-size="3.4" text-anchor="end" font-weight="bold" fill="#1a1a1a" stroke="#1a1a1a" stroke-width="0.15" >0.2</text>
<text x="88.2" y="547.7" font-size="3.4" text-anchor="end" font-weight="bold" fill="#1a1a1a" stroke="#1a1a1a" stroke-width="0.15" >0.1</text>
<text x="88.2" y="553.9" font-size="3.4" text-anchor="end" font-weight="bold" fill="#1a1a1a" stroke="#1a1a1a" stroke-width="0.15" >0.0</text>
<text x="88.2" y="560.1" font-size="3.4" text-anchor="end" font-weight="bold" fill="#1a1a1a" stroke="#1a1a1a" stroke-width="0.15" >−0.1</text>
<text x="88.2" y="566.3" font-size="3.4" text-anchor="end" font-weight="bold" fill="#1a1a1a" stroke="#1a1a1a" stroke-width="0.15" >−0.2</text>
<text x="89" y="572.2" font-size="3.4" text-anchor="middle" font-weight="bold" fill="#1a1a1a" stroke="#1a1a1a" stroke-width="0.15" >350</text>
<text x="102" y="572.2" font-size="3.4" text-anchor="middle" font-weight="bold" fill="#1a1a1a" stroke="#1a1a1a" stroke-width="0.15" >370</text>
<text x="115" y="572.2" font-size="3.4" text-anchor="middle" font-weight="bold" fill="#1a1a1a" stroke="#1a1a1a" stroke-width="0.15" >390</text>
<path d="M124 553.2 L133 553.2" stroke="#2a3a70" stroke-width="0.6" stroke-dasharray="1.5 1"/>
<rect x="134.1" y="537.8" width="48" height="30" fill="#fff" stroke="#8a8a8a" stroke-width="0.7" stroke-dasharray="2 1.2"/>
<rect x="135.4" y="538.8" width="25.2" height="29" fill="#b4b4b4"/>
<circle cx="148.0" cy="553.3" r="11.1" fill="#c0c0c0" stroke="#2a2a2a" stroke-width="1.4"/>
<circle cx="148.0" cy="553.3" r="9.1" fill="#d4d4d4" stroke="#7a7a7a" stroke-width="0.6"/>
<circle cx="148.0" cy="553.3" r="6.1" fill="#dcdcdc"/>
<text x="162.6" y="556.6" font-size="5.2" text-anchor="start" font-weight="bold" fill="#2a3a70" stroke="#2a3a70" stroke-width="0.15" >0%PSS</text>
<rect x="172" y="489.6" width="47.6" height="31" fill="#fff" stroke="#55bfa6" stroke-width="0.7" stroke-dasharray="2 1.2"/>
<rect x="193" y="492.4" width="25" height="26" fill="#b4b4b4"/>
<circle cx="205.5" cy="505.4" r="11.0" fill="#c0c0c0" stroke="#2a2a2a" stroke-width="1.4"/>
<circle cx="205.5" cy="505.4" r="9.0" fill="#d4d4d4" stroke="#7a7a7a" stroke-width="0.6"/>
<circle cx="205.5" cy="505.4" r="6.0" fill="#dcdcdc"/>
<text x="173.3" y="507.7" font-size="5.2" text-anchor="start" font-weight="bold" fill="#3aa88e" stroke="#3aa88e" stroke-width="0.15" >4%PSS</text>
<path d="M203 520.6 L203 526" stroke="#3aa88e" stroke-width="0.6"/>
<rect x="349" y="490.6" width="48.4" height="30" fill="#fff" stroke="#e97d80" stroke-width="0.7" stroke-dasharray="2 1.2"/>
<rect x="369.6" y="492" width="26.6" height="26.7" fill="#b4b4b4"/>
<circle cx="382.9" cy="505.4" r="11.8" fill="#c0c0c0" stroke="#2a2a2a" stroke-width="1.4"/>
<circle cx="382.9" cy="505.4" r="9.8" fill="#d4d4d4" stroke="#7a7a7a" stroke-width="0.6"/>
<circle cx="382.9" cy="505.4" r="6.8" fill="#dcdcdc"/>
<text x="350.3" y="508.4" font-size="5.3" text-anchor="start" font-weight="bold" fill="#e05a60" stroke="#e05a60" stroke-width="0.15" >2%PSS</text>
<path d="M385.6 520.6 L385.6 527" stroke="#e05a60" stroke-width="0.6"/>
<line x1="357.5" y1="550.4" x2="370" y2="550.4" stroke="#2a3a70" stroke-width="1"/>
<text x="372.4" y="552.3" font-size="5.5" text-anchor="start" font-weight="bold" fill="#2a3a70" stroke="#2a3a70" stroke-width="0.15" >0%PSS</text>
<line x1="357.5" y1="557.7" x2="370" y2="557.7" stroke="#e97d80" stroke-width="1"/>
<text x="372.4" y="559.5999999999999" font-size="5.5" text-anchor="start" font-weight="bold" fill="#e97d80" stroke="#e97d80" stroke-width="0.15" >2%PSS</text>
<line x1="357.5" y1="565.0" x2="370" y2="565.0" stroke="#55bfa6" stroke-width="1"/>
<text x="372.4" y="566.9" font-size="5.5" text-anchor="start" font-weight="bold" fill="#55bfa6" stroke="#55bfa6" stroke-width="0.15" >4%PSS</text>
</g>
<g id="pg">
<text x="0" y="604.5" font-size="9.5" text-anchor="start" font-weight="bold" fill="#1a1a1a" stroke="#1a1a1a" stroke-width="0.15" >(g)</text>
<g clip-path="url(#clipMesh)">
<line x1="18" y1="593.6" x2="50" y2="604.6" stroke="#e2622e" stroke-width="1.0"/>
<line x1="18" y1="593.6" x2="50" y2="582.6" stroke="#e2622e" stroke-width="1.0"/>
<line x1="18" y1="596.9" x2="50" y2="607.9" stroke="#e2622e" stroke-width="1.0"/>
<line x1="18" y1="596.9" x2="50" y2="585.9" stroke="#e2622e" stroke-width="1.0"/>
<line x1="18" y1="600.2" x2="50" y2="611.2" stroke="#e2622e" stroke-width="1.0"/>
<line x1="18" y1="600.2" x2="50" y2="589.2" stroke="#e2622e" stroke-width="1.0"/>
<line x1="18" y1="603.5" x2="50" y2="614.5" stroke="#e2622e" stroke-width="1.0"/>
<line x1="18" y1="603.5" x2="50" y2="592.5" stroke="#e2622e" stroke-width="1.0"/>
<line x1="18" y1="606.8" x2="50" y2="617.8" stroke="#e2622e" stroke-width="1.0"/>
<line x1="18" y1="606.8" x2="50" y2="595.8" stroke="#e2622e" stroke-width="1.0"/>
<line x1="18" y1="610.1" x2="50" y2="621.1" stroke="#e2622e" stroke-width="1.0"/>
<line x1="18" y1="610.1" x2="50" y2="599.1" stroke="#e2622e" stroke-width="1.0"/>
<line x1="18" y1="613.4" x2="50" y2="624.4" stroke="#e2622e" stroke-width="1.0"/>
<line x1="18" y1="613.4" x2="50" y2="602.4" stroke="#e2622e" stroke-width="1.0"/>
<line x1="18" y1="616.7" x2="50" y2="627.7" stroke="#e2622e" stroke-width="1.0"/>
<line x1="18" y1="616.7" x2="50" y2="605.7" stroke="#e2622e" stroke-width="1.0"/>
<line x1="18" y1="620.0" x2="50" y2="631.0" stroke="#e2622e" stroke-width="1.0"/>
<line x1="18" y1="620.0" x2="50" y2="609.0" stroke="#e2622e" stroke-width="1.0"/>
<line x1="18" y1="623.3" x2="50" y2="634.3" stroke="#e2622e" stroke-width="1.0"/>
<line x1="18" y1="623.3" x2="50" y2="612.3" stroke="#e2622e" stroke-width="1.0"/>
<line x1="18" y1="626.6" x2="50" y2="637.6" stroke="#e2622e" stroke-width="1.0"/>
<line x1="18" y1="626.6" x2="50" y2="615.6" stroke="#e2622e" stroke-width="1.0"/>
<line x1="18" y1="629.9" x2="50" y2="640.9" stroke="#e2622e" stroke-width="1.0"/>
<line x1="18" y1="629.9" x2="50" y2="618.9" stroke="#e2622e" stroke-width="1.0"/>
<line x1="18" y1="633.2" x2="50" y2="644.2" stroke="#e2622e" stroke-width="1.0"/>
<line x1="18" y1="633.2" x2="50" y2="622.2" stroke="#e2622e" stroke-width="1.0"/>
<line x1="18" y1="636.5" x2="50" y2="647.5" stroke="#e2622e" stroke-width="1.0"/>
<line x1="18" y1="636.5" x2="50" y2="625.5" stroke="#e2622e" stroke-width="1.0"/>
<line x1="18" y1="639.8" x2="50" y2="650.8" stroke="#e2622e" stroke-width="1.0"/>
<line x1="18" y1="639.8" x2="50" y2="628.8" stroke="#e2622e" stroke-width="1.0"/>
<line x1="18" y1="643.1" x2="50" y2="654.1" stroke="#e2622e" stroke-width="1.0"/>
<line x1="18" y1="643.1" x2="50" y2="632.1" stroke="#e2622e" stroke-width="1.0"/>
<line x1="18" y1="646.4" x2="50" y2="657.4" stroke="#e2622e" stroke-width="1.0"/>
<line x1="18" y1="646.4" x2="50" y2="635.4" stroke="#e2622e" stroke-width="1.0"/>
<line x1="18" y1="649.7" x2="50" y2="660.7" stroke="#e2622e" stroke-width="1.0"/>
<line x1="18" y1="649.7" x2="50" y2="638.7" stroke="#e2622e" stroke-width="1.0"/>
</g>
<text x="30.8" y="619.6" font-size="4.8" text-anchor="middle" font-weight="bold" fill="#1a1a1a" stroke="#1a1a1a" stroke-width="0.15" >Copper mesh</text>
<text transform="translate(56 616.5) rotate(-38)" font-size="4.8" font-weight="bold" text-anchor="middle" fill="#1a1a1a" stroke="#1a1a1a" stroke-width="0.15">Normal</text>
<text transform="translate(59.5 621) rotate(-38)" font-size="4.8" font-weight="bold" text-anchor="middle" fill="#1a1a1a" stroke="#1a1a1a" stroke-width="0.15">electrolyte</text>
<text transform="translate(59.5 633) rotate(38)" font-size="4.8" font-weight="bold" text-anchor="middle" fill="#1a1a1a" stroke="#1a1a1a" stroke-width="0.15">PAM</text>
<text transform="translate(58 638.5) rotate(38)" font-size="4.8" font-weight="bold" text-anchor="middle" fill="#1a1a1a" stroke="#1a1a1a" stroke-width="0.15">electrolyte</text>
<line x1="46.6" y1="628" x2="65.2" y2="617.7" stroke="#5ab04a" stroke-width="1.3"/>
<path d="M68 616.2 L64.3 616.2 L66.1 619.3 Z" fill="#5ab04a"/>
<line x1="46.6" y1="632.7" x2="65.5" y2="647.2" stroke="#5ab04a" stroke-width="1.3"/>
<path d="M68 649.2 L66.6 645.8 L64.4 648.7 Z" fill="#5ab04a"/>
<rect x="69.7" y="621.6" width="40.2" height="5.2999999999999545" fill="#e2602e"/>
<text x="89.80000000000001" y="625.8" font-size="4.3" text-anchor="middle" font-weight="bold" fill="#fff" stroke="#fff" stroke-width="0.15" >Copper</text>
<line x1="71.6" y1="609" x2="74" y2="621.6" stroke="#3a98b8" stroke-width="0.8"/>
<circle cx="71.6" cy="608" r="1.4" fill="#2a8ac8"/>
<line x1="80.3" y1="609" x2="76" y2="621.6" stroke="#3a98b8" stroke-width="0.8"/>
<circle cx="80.3" cy="608" r="1.4" fill="#2a8ac8"/>
<line x1="85.6" y1="609" x2="79" y2="621.6" stroke="#3a98b8" stroke-width="0.8"/>
<circle cx="85.6" cy="608" r="1.4" fill="#2a8ac8"/>
<line x1="94" y1="609" x2="97" y2="621.6" stroke="#3a98b8" stroke-width="0.8"/>
<circle cx="94" cy="608" r="1.4" fill="#2a8ac8"/>
<line x1="107.2" y1="609" x2="103" y2="621.6" stroke="#3a98b8" stroke-width="0.8"/>
<circle cx="107.2" cy="608" r="1.4" fill="#2a8ac8"/>
<text x="119.8" y="612.5" font-size="4.5" text-anchor="middle" font-weight="bold" fill="#1a1a1a" stroke="#1a1a1a" stroke-width="0.15" >Plating</text>
<line x1="112.5" y1="615.8" x2="124.8" y2="615.8" stroke="#5ab04a" stroke-width="1.4"/>
<path d="M128 615.8 L124.8 614.0 L124.8 617.6 Z" fill="#5ab04a"/>
<rect x="128.3" y="621.6" width="40.89999999999998" height="5.2999999999999545" fill="#e2602e"/>
<text x="148.75" y="625.8" font-size="4.3" text-anchor="middle" font-weight="bold" fill="#fff" stroke="#fff" stroke-width="0.15" >Copper</text>
<polygon points="128.3 621.6 129.3 614.7 130.4 620.3 131.2 613.7 132.1 620.2 133.0 616.3 133.6 619.5 134.9 613.8 135.9 620.3 136.8 617.6 137.8 620.4 138.7 611.7 139.4 618.7 140.5 613.3 141.4 620.7 142.6 619.2 143.4 620.8 144.0 618.8 144.5 620.1 145.8 616.6 146.6 620.8 147.5 619.9 148.1 619.5 149.2 620.0 150.1 620.0 151.0 619.6 151.8 620.8 152.9 615.5 153.9 620.1 155.2 617.1 155.9 620.2 157.2 618.2 158.2 618.8 159.5 616.5 160.3 618.9 161.5 614.7 162.1 619.6 163.3 617.8 164.0 619.0 165.0 616.8 165.9 620.5 166.6 618.5 167.4 620.7 168.7 613.8 169.2 620.9 169.2 621.6" fill="#2f8cc4"/>
<line x1="133" y1="602.5" x2="136" y2="618" stroke="#3a98b8" stroke-width="0.8"/>
<circle cx="133" cy="601.5" r="1.4" fill="#2a8ac8"/>
<line x1="141.6" y1="604" x2="140" y2="618" stroke="#3a98b8" stroke-width="0.8"/>
<circle cx="141.6" cy="603" r="1.4" fill="#2a8ac8"/>
<line x1="150" y1="606" x2="152" y2="618" stroke="#3a98b8" stroke-width="0.8"/>
<circle cx="150" cy="605" r="1.4" fill="#2a8ac8"/>
<line x1="157" y1="604" x2="157" y2="618" stroke="#3a98b8" stroke-width="0.8"/>
<circle cx="157" cy="603" r="1.4" fill="#2a8ac8"/>
<line x1="166" y1="606" x2="163" y2="618" stroke="#3a98b8" stroke-width="0.8"/>
<circle cx="166" cy="605" r="1.4" fill="#2a8ac8"/>
<rect x="69.7" y="656" width="40.2" height="4.7000000000000455" fill="#e2602e"/>
<text x="89.80000000000001" y="659.6" font-size="4.3" text-anchor="middle" font-weight="bold" fill="#fff" stroke="#fff" stroke-width="0.15" >Copper</text>
<line x1="74.2" y1="643.5" x2="74.2" y2="656" stroke="#3a98b8" stroke-width="0.7"/>
<circle cx="74.2" cy="642.2" r="1.4" fill="#2a8ac8"/>
<line x1="82.2" y1="643.5" x2="82.2" y2="656" stroke="#3a98b8" stroke-width="0.7"/>
<circle cx="82.2" cy="642.2" r="1.4" fill="#2a8ac8"/>
<line x1="90.6" y1="643.5" x2="90.6" y2="656" stroke="#3a98b8" stroke-width="0.7"/>
<circle cx="90.6" cy="642.2" r="1.4" fill="#2a8ac8"/>
<line x1="98.8" y1="643.5" x2="98.8" y2="656" stroke="#3a98b8" stroke-width="0.7"/>
<circle cx="98.8" cy="642.2" r="1.4" fill="#2a8ac8"/>
<line x1="107.2" y1="643.5" x2="107.2" y2="656" stroke="#3a98b8" stroke-width="0.7"/>
<circle cx="107.2" cy="642.2" r="1.4" fill="#2a8ac8"/>
<path d="M72 655 L78 648 M72 648 L78 655" stroke="#d890a0" stroke-width="0.6"/>
<path d="M80 655 L86 648 M80 648 L86 655" stroke="#d890a0" stroke-width="0.6"/>
<path d="M88 655 L94 648 M88 648 L94 655" stroke="#d890a0" stroke-width="0.6"/>
<path d="M96 655 L102 648 M96 648 L102 655" stroke="#d890a0" stroke-width="0.6"/>
<path d="M104 655 L110 648 M104 648 L110 655" stroke="#d890a0" stroke-width="0.6"/>
<line x1="69.7" y1="655.2" x2="109.9" y2="655.2" stroke="#8ac870" stroke-width="0.7"/>
<text x="119.8" y="645.5" font-size="4.5" text-anchor="middle" font-weight="bold" fill="#1a1a1a" stroke="#1a1a1a" stroke-width="0.15" >Plating</text>
<line x1="112.5" y1="649" x2="124.8" y2="649.0" stroke="#5ab04a" stroke-width="1.4"/>
<path d="M128 649 L124.8 647.2 L124.8 650.8 Z" fill="#5ab04a"/>
<rect x="128.3" y="656" width="40.89999999999998" height="4.7000000000000455" fill="#e2602e"/>
<text x="148.75" y="659.6" font-size="4.3" text-anchor="middle" font-weight="bold" fill="#fff" stroke="#fff" stroke-width="0.15" >Copper</text>
<rect x="128.3" y="652.8" width="40.9" height="3.2" fill="#5ab0d8"/>
<line x1="133" y1="640.3" x2="133" y2="652.8" stroke="#3a98b8" stroke-width="0.7"/>
<circle cx="133" cy="639" r="1.4" fill="#2a8ac8"/>
<line x1="141.6" y1="640.3" x2="141.6" y2="652.8" stroke="#3a98b8" stroke-width="0.7"/>
<circle cx="141.6" cy="639" r="1.4" fill="#2a8ac8"/>
<line x1="150" y1="640.3" x2="150" y2="652.8" stroke="#3a98b8" stroke-width="0.7"/>
<circle cx="150" cy="639" r="1.4" fill="#2a8ac8"/>
<line x1="158" y1="640.3" x2="158" y2="652.8" stroke="#3a98b8" stroke-width="0.7"/>
<circle cx="158" cy="639" r="1.4" fill="#2a8ac8"/>
<line x1="166" y1="640.3" x2="166" y2="652.8" stroke="#3a98b8" stroke-width="0.7"/>
<circle cx="166" cy="639" r="1.4" fill="#2a8ac8"/>
<path d="M130 652 L136 645 M130 645 L136 652" stroke="#d890a0" stroke-width="0.6"/>
<path d="M138 652 L144 645 M138 645 L144 652" stroke="#d890a0" stroke-width="0.6"/>
<path d="M146 652 L152 645 M146 645 L152 652" stroke="#d890a0" stroke-width="0.6"/>
<path d="M154 652 L160 645 M154 645 L160 652" stroke="#d890a0" stroke-width="0.6"/>
<path d="M162 652 L168 645 M162 645 L168 652" stroke="#d890a0" stroke-width="0.6"/>
<circle cx="29.5" cy="649.6" r="1.3" fill="#2a8ac8"/>
<text x="35" y="651.4" font-size="5" text-anchor="start" font-weight="bold" fill="#1a1a1a" stroke="#1a1a1a" stroke-width="0.15" >Zn<tspan dy="-1.6" font-size="3.3">2+</tspan></text>
<polyline points="25.5 655.5 25.8 655.9 26.2 656.1 26.5 656.2 26.8 656.1 27.2 655.9 27.5 655.5 27.8 655.1 28.2 654.9 28.5 654.8 28.8 654.9 29.2 655.1 29.5 655.5 29.8 655.9 30.2 656.1 30.5 656.2 30.8 656.1 31.2 655.9 31.5 655.5 31.8 655.1 32.2 654.9 32.5 654.8" fill="none" stroke="#8ac870" stroke-width="0.7" stroke-linejoin="round"/>
<text x="35" y="657.4" font-size="5" text-anchor="start" font-weight="bold" fill="#1a1a1a" stroke="#1a1a1a" stroke-width="0.15" >PAM chain</text>
<line x1="25" y1="661.5" x2="32.5" y2="661.5" stroke="#3a98b8" stroke-width="0.8"/>
<text x="35" y="663.4" font-size="5" text-anchor="start" font-weight="bold" fill="#1a1a1a" stroke="#1a1a1a" stroke-width="0.15" >Zn ion flux</text>
</g>
<g id="ph">
<text x="172.5" y="604.8" font-size="9.5" text-anchor="start" font-weight="bold" fill="#1a1a1a" stroke="#1a1a1a" stroke-width="0.15" >(h)</text>
<rect x="199.6" y="619.4" width="212.20000000000002" height="20.6" fill="#f4c8ce"/>
<path d="M200.4 619.6 L201.2 639.8 M202.7 619.6 L203.5 639.8 M205.0 619.6 L205.8 639.8 M207.3 619.6 L208.1 639.8 M209.7 619.6 L210.5 639.8 M212.0 619.6 L212.8 639.8 M214.3 619.6 L215.1 639.8 M216.6 619.6 L217.4 639.8 M218.9 619.6 L219.7 639.8 M221.2 619.6 L222.0 639.8 M223.5 619.6 L224.3 639.8 M225.9 619.6 L226.7 639.8 M228.2 619.6 L229.0 639.8 M230.5 619.6 L231.3 639.8 M232.8 619.6 L233.6 639.8 M235.1 619.6 L235.9 639.8 M237.4 619.6 L238.2 639.8 M239.7 619.6 L240.5 639.8 M242.1 619.6 L242.9 639.8 M244.4 619.6 L245.2 639.8 M246.7 619.6 L247.5 639.8 M249.0 619.6 L249.8 639.8 M251.3 619.6 L252.1 639.8 M253.6 619.6 L254.4 639.8 M255.9 619.6 L256.7 639.8 M258.2 619.6 L259.0 639.8 M260.6 619.6 L261.4 639.8 M262.9 619.6 L263.7 639.8 M265.2 619.6 L266.0 639.8 M267.5 619.6 L268.3 639.8 M269.8 619.6 L270.6 639.8 M272.1 619.6 L272.9 639.8 M274.4 619.6 L275.2 639.8 M276.8 619.6 L277.6 639.8 M279.1 619.6 L279.9 639.8 M281.4 619.6 L282.2 639.8 M283.7 619.6 L284.5 639.8 M286.0 619.6 L286.8 639.8 M288.3 619.6 L289.1 639.8 M290.6 619.6 L291.4 639.8 M293.0 619.6 L293.8 639.8 M295.3 619.6 L296.1 639.8 M297.6 619.6 L298.4 639.8 M299.9 619.6 L300.7 639.8 M302.2 619.6 L303.0 639.8 M304.5 619.6 L305.3 639.8 M306.8 619.6 L307.6 639.8 M309.2 619.6 L310.0 639.8 M311.5 619.6 L312.3 639.8 M313.8 619.6 L314.6 639.8 M316.1 619.6 L316.9 639.8 M318.4 619.6 L319.2 639.8 M320.7 619.6 L321.5 639.8 M323.0 619.6 L323.8 639.8 M325.4 619.6 L326.2 639.8 M327.7 619.6 L328.5 639.8 M330.0 619.6 L330.8 639.8 M332.3 619.6 L333.1 639.8 M334.6 619.6 L335.4 639.8 M336.9 619.6 L337.7 639.8 M339.2 619.6 L340.0 639.8 M341.5 619.6 L342.3 639.8 M343.9 619.6 L344.7 639.8 M346.2 619.6 L347.0 639.8 M348.5 619.6 L349.3 639.8 M350.8 619.6 L351.6 639.8 M353.1 619.6 L353.9 639.8 M355.4 619.6 L356.2 639.8 M357.7 619.6 L358.5 639.8 M360.1 619.6 L360.9 639.8 M362.4 619.6 L363.2 639.8 M364.7 619.6 L365.5 639.8 M367.0 619.6 L367.8 639.8 M369.3 619.6 L370.1 639.8 M371.6 619.6 L372.4 639.8 M373.9 619.6 L374.7 639.8 M376.3 619.6 L377.1 639.8 M378.6 619.6 L379.4 639.8 M380.9 619.6 L381.7 639.8 M383.2 619.6 L384.0 639.8 M385.5 619.6 L386.3 639.8 M387.8 619.6 L388.6 639.8 M390.1 619.6 L390.9 639.8 M392.5 619.6 L393.3 639.8 M394.8 619.6 L395.6 639.8 M397.1 619.6 L397.9 639.8 M399.4 619.6 L400.2 639.8 M401.7 619.6 L402.5 639.8 M404.0 619.6 L404.8 639.8 M406.3 619.6 L407.1 639.8 M408.7 619.6 L409.5 639.8" stroke="#e07a8c" stroke-width="0.9"/>
<polyline points="200.4 619.8 201.8 625 202.7 619.8 204.1 625 205.0 619.8 206.4 625 207.3 619.8 208.7 625 209.7 619.8 211.1 625 212.0 619.8 213.4 625 214.3 619.8 215.7 625 216.6 619.8 218.0 625 218.9 619.8 220.3 625 221.2 619.8 222.6 625 223.5 619.8 224.9 625 225.9 619.8 227.3 625 228.2 619.8 229.6 625 230.5 619.8 231.9 625 232.8 619.8 234.2 625 235.1 619.8 236.5 625 237.4 619.8 238.8 625 239.7 619.8 241.1 625 242.1 619.8 243.5 625 244.4 619.8 245.8 625 246.7 619.8 248.1 625 249.0 619.8 250.4 625 251.3 619.8 252.7 625 253.6 619.8 255.0 625 255.9 619.8 257.3 625 258.2 619.8 259.6 625 260.6 619.8 262.0 625 262.9 619.8 264.3 625 265.2 619.8 266.6 625 267.5 619.8 268.9 625 269.8 619.8 271.2 625 272.1 619.8 273.5 625 274.4 619.8 275.8 625 276.8 619.8 278.2 625 279.1 619.8 280.5 625 281.4 619.8 282.8 625 283.7 619.8 285.1 625 286.0 619.8 287.4 625 288.3 619.8 289.7 625 290.6 619.8 292.0 625 293.0 619.8 294.4 625 295.3 619.8 296.7 625 297.6 619.8 299.0 625 299.9 619.8 301.3 625 302.2 619.8 303.6 625 304.5 619.8 305.9 625 306.8 619.8 308.2 625 309.2 619.8 310.6 625 311.5 619.8 312.9 625 313.8 619.8 315.2 625 316.1 619.8 317.5 625 318.4 619.8 319.8 625 320.7 619.8 322.1 625 323.0 619.8 324.4 625 325.4 619.8 326.8 625 327.7 619.8 329.1 625 330.0 619.8 331.4 625 332.3 619.8 333.7 625 334.6 619.8 336.0 625 336.9 619.8 338.3 625 339.2 619.8 340.6 625 341.5 619.8 342.9 625 343.9 619.8 345.3 625 346.2 619.8 347.6 625 348.5 619.8 349.9 625 350.8 619.8 352.2 625 353.1 619.8 354.5 625 355.4 619.8 356.8 625 357.7 619.8 359.1 625 360.1 619.8 361.5 625 362.4 619.8 363.8 625 364.7 619.8 366.1 625 367.0 619.8 368.4 625 369.3 619.8 370.7 625 371.6 619.8 373.0 625 373.9 619.8 375.3 625 376.3 619.8 377.7 625 378.6 619.8 380.0 625 380.9 619.8 382.3 625 383.2 619.8 384.6 625 385.5 619.8 386.9 625 387.8 619.8 389.2 625 390.1 619.8 391.5 625 392.5 619.8 393.9 625 394.8 619.8 396.2 625 397.1 619.8 398.5 625 399.4 619.8 400.8 625 401.7 619.8 403.1 625 404.0 619.8 405.4 625 406.3 619.8 407.7 625 408.7 619.8 410.1 625" fill="none" stroke="#d8506a" stroke-width="0.6"/>
<polyline points="200.4 634 201.8 639.6 202.7 634 204.1 639.6 205.0 634 206.4 639.6 207.3 634 208.7 639.6 209.7 634 211.1 639.6 212.0 634 213.4 639.6 214.3 634 215.7 639.6 216.6 634 218.0 639.6 218.9 634 220.3 639.6 221.2 634 222.6 639.6 223.5 634 224.9 639.6 225.9 634 227.3 639.6 228.2 634 229.6 639.6 230.5 634 231.9 639.6 232.8 634 234.2 639.6 235.1 634 236.5 639.6 237.4 634 238.8 639.6 239.7 634 241.1 639.6 242.1 634 243.5 639.6 244.4 634 245.8 639.6 246.7 634 248.1 639.6 249.0 634 250.4 639.6 251.3 634 252.7 639.6 253.6 634 255.0 639.6 255.9 634 257.3 639.6 258.2 634 259.6 639.6 260.6 634 262.0 639.6 262.9 634 264.3 639.6 265.2 634 266.6 639.6 267.5 634 268.9 639.6 269.8 634 271.2 639.6 272.1 634 273.5 639.6 274.4 634 275.8 639.6 276.8 634 278.2 639.6 279.1 634 280.5 639.6 281.4 634 282.8 639.6 283.7 634 285.1 639.6 286.0 634 287.4 639.6 288.3 634 289.7 639.6 290.6 634 292.0 639.6 293.0 634 294.4 639.6 295.3 634 296.7 639.6 297.6 634 299.0 639.6 299.9 634 301.3 639.6 302.2 634 303.6 639.6 304.5 634 305.9 639.6 306.8 634 308.2 639.6 309.2 634 310.6 639.6 311.5 634 312.9 639.6 313.8 634 315.2 639.6 316.1 634 317.5 639.6 318.4 634 319.8 639.6 320.7 634 322.1 639.6 323.0 634 324.4 639.6 325.4 634 326.8 639.6 327.7 634 329.1 639.6 330.0 634 331.4 639.6 332.3 634 333.7 639.6 334.6 634 336.0 639.6 336.9 634 338.3 639.6 339.2 634 340.6 639.6 341.5 634 342.9 639.6 343.9 634 345.3 639.6 346.2 634 347.6 639.6 348.5 634 349.9 639.6 350.8 634 352.2 639.6 353.1 634 354.5 639.6 355.4 634 356.8 639.6 357.7 634 359.1 639.6 360.1 634 361.5 639.6 362.4 634 363.8 639.6 364.7 634 366.1 639.6 367.0 634 368.4 639.6 369.3 634 370.7 639.6 371.6 634 373.0 639.6 373.9 634 375.3 639.6 376.3 634 377.7 639.6 378.6 634 380.0 639.6 380.9 634 382.3 639.6 383.2 634 384.6 639.6 385.5 634 386.9 639.6 387.8 634 389.2 639.6 390.1 634 391.5 639.6 392.5 634 393.9 639.6 394.8 634 396.2 639.6 397.1 634 398.5 639.6 399.4 634 400.8 639.6 401.7 634 403.1 639.6 404.0 634 405.4 639.6 406.3 634 407.7 639.6 408.7 634 410.1 639.6" fill="none" stroke="#d8506a" stroke-width="0.6"/>
<path d="M201.9 614.3 L201.9 623 M201.9 634 L201.9 643 M204.5 614.3 L204.5 623 M204.5 634 L204.5 643 M207.2 614.3 L207.2 623 M207.2 634 L207.2 643 M209.8 614.3 L209.8 623 M209.8 634 L209.8 643 M212.5 614.3 L212.5 623 M212.5 634 L212.5 643 M215.1 614.3 L215.1 623 M215.1 634 L215.1 643 M217.8 614.3 L217.8 623 M217.8 634 L217.8 643 M220.4 614.3 L220.4 623 M220.4 634 L220.4 643 M223.1 614.3 L223.1 623 M223.1 634 L223.1 643 M225.7 614.3 L225.7 623 M225.7 634 L225.7 643 M228.4 614.3 L228.4 623 M228.4 634 L228.4 643 M231.0 614.3 L231.0 623 M231.0 634 L231.0 643 M233.7 614.3 L233.7 623 M233.7 634 L233.7 643 M236.3 614.3 L236.3 623 M236.3 634 L236.3 643" stroke="#6a6a6a" stroke-width="0.8"/>
<path d="M237.7 629.7 L257.1 629.7" stroke="#444" stroke-width="0.6" stroke-dasharray="1.5 1"/>
<path d="M257.1 629.7 L266.1 619" stroke="#444" stroke-width="0.6"/>
<path d="M200.0 628 L200.0 648" stroke="#d84a60" stroke-width="0.8"/>
<rect x="199.6" y="599.2" width="212.20000000000002" height="57.799999999999955" fill="none" stroke="#333" stroke-width="0.7"/>
<text x="197.4" y="601.85" font-size="6.3" text-anchor="end" font-weight="bold" fill="#1a1a1a" stroke="#1a1a1a" stroke-width="0.15" >0.2</text>
<text x="197.4" y="616.225" font-size="6.3" text-anchor="end" font-weight="bold" fill="#1a1a1a" stroke="#1a1a1a" stroke-width="0.15" >0.1</text>
<text x="197.4" y="630.6" font-size="6.3" text-anchor="end" font-weight="bold" fill="#1a1a1a" stroke="#1a1a1a" stroke-width="0.15" >0.0</text>
<text x="197.4" y="644.975" font-size="6.3" text-anchor="end" font-weight="bold" fill="#1a1a1a" stroke="#1a1a1a" stroke-width="0.15" >−0.1</text>
<text x="197.4" y="659.35" font-size="6.3" text-anchor="end" font-weight="bold" fill="#1a1a1a" stroke="#1a1a1a" stroke-width="0.15" >−0.2</text>
<text x="200.4" y="665.8" font-size="6.3" text-anchor="middle" font-weight="bold" fill="#1a1a1a" stroke="#1a1a1a" stroke-width="0.15" >0</text>
<line x1="200.4" y1="657" x2="200.4" y2="655.2" stroke="#333" stroke-width="0.5"/>
<text x="215.32857142857142" y="665.8" font-size="6.3" text-anchor="middle" font-weight="bold" fill="#1a1a1a" stroke="#1a1a1a" stroke-width="0.15" >20</text>
<line x1="215.3" y1="657" x2="215.3" y2="655.2" stroke="#333" stroke-width="0.5"/>
<text x="230.25714285714287" y="665.8" font-size="6.3" text-anchor="middle" font-weight="bold" fill="#1a1a1a" stroke="#1a1a1a" stroke-width="0.15" >40</text>
<line x1="230.3" y1="657" x2="230.3" y2="655.2" stroke="#333" stroke-width="0.5"/>
<text x="245.18571428571428" y="665.8" font-size="6.3" text-anchor="middle" font-weight="bold" fill="#1a1a1a" stroke="#1a1a1a" stroke-width="0.15" >60</text>
<line x1="245.2" y1="657" x2="245.2" y2="655.2" stroke="#333" stroke-width="0.5"/>
<text x="260.1142857142857" y="665.8" font-size="6.3" text-anchor="middle" font-weight="bold" fill="#1a1a1a" stroke="#1a1a1a" stroke-width="0.15" >80</text>
<line x1="260.1" y1="657" x2="260.1" y2="655.2" stroke="#333" stroke-width="0.5"/>
<text x="275.04285714285714" y="665.8" font-size="6.3" text-anchor="middle" font-weight="bold" fill="#1a1a1a" stroke="#1a1a1a" stroke-width="0.15" >100</text>
<line x1="275.0" y1="657" x2="275.0" y2="655.2" stroke="#333" stroke-width="0.5"/>
<text x="289.97142857142853" y="665.8" font-size="6.3" text-anchor="middle" font-weight="bold" fill="#1a1a1a" stroke="#1a1a1a" stroke-width="0.15" >120</text>
<line x1="290.0" y1="657" x2="290.0" y2="655.2" stroke="#333" stroke-width="0.5"/>
<text x="304.9" y="665.8" font-size="6.3" text-anchor="middle" font-weight="bold" fill="#1a1a1a" stroke="#1a1a1a" stroke-width="0.15" >140</text>
<line x1="304.9" y1="657" x2="304.9" y2="655.2" stroke="#333" stroke-width="0.5"/>
<text x="319.8285714285714" y="665.8" font-size="6.3" text-anchor="middle" font-weight="bold" fill="#1a1a1a" stroke="#1a1a1a" stroke-width="0.15" >160</text>
<line x1="319.8" y1="657" x2="319.8" y2="655.2" stroke="#333" stroke-width="0.5"/>
<text x="334.75714285714287" y="665.8" font-size="6.3" text-anchor="middle" font-weight="bold" fill="#1a1a1a" stroke="#1a1a1a" stroke-width="0.15" >180</text>
<line x1="334.8" y1="657" x2="334.8" y2="655.2" stroke="#333" stroke-width="0.5"/>
<text x="349.68571428571425" y="665.8" font-size="6.3" text-anchor="middle" font-weight="bold" fill="#1a1a1a" stroke="#1a1a1a" stroke-width="0.15" >200</text>
<line x1="349.7" y1="657" x2="349.7" y2="655.2" stroke="#333" stroke-width="0.5"/>
<text x="364.6142857142857" y="665.8" font-size="6.3" text-anchor="middle" font-weight="bold" fill="#1a1a1a" stroke="#1a1a1a" stroke-width="0.15" >220</text>
<line x1="364.6" y1="657" x2="364.6" y2="655.2" stroke="#333" stroke-width="0.5"/>
<text x="379.5428571428571" y="665.8" font-size="6.3" text-anchor="middle" font-weight="bold" fill="#1a1a1a" stroke="#1a1a1a" stroke-width="0.15" >240</text>
<line x1="379.5" y1="657" x2="379.5" y2="655.2" stroke="#333" stroke-width="0.5"/>
<text x="394.47142857142853" y="665.8" font-size="6.3" text-anchor="middle" font-weight="bold" fill="#1a1a1a" stroke="#1a1a1a" stroke-width="0.15" >260</text>
<line x1="394.5" y1="657" x2="394.5" y2="655.2" stroke="#333" stroke-width="0.5"/>
<text x="409.4" y="665.8" font-size="6.3" text-anchor="middle" font-weight="bold" fill="#1a1a1a" stroke="#1a1a1a" stroke-width="0.15" >280</text>
<line x1="409.4" y1="657" x2="409.4" y2="655.2" stroke="#333" stroke-width="0.5"/>
<text x="302.2" y="674" font-size="6.5" text-anchor="middle" font-weight="bold" fill="#1a1a1a" stroke="#1a1a1a" stroke-width="0.15" >Time/h</text>
<text transform="translate(182 627) rotate(-90)" font-size="6.5" font-weight="bold" text-anchor="middle" fill="#1a1a1a">Voltage/V</text>
<text x="252" y="617" font-size="7" text-anchor="start" font-weight="bold" fill="#1a1a1a" stroke="#1a1a1a" stroke-width="0.15" >Short circuit</text>
<line x1="363" y1="604.3" x2="370" y2="604.3" stroke="#e48a98" stroke-width="0.9"/>
<line x1="363" y1="611" x2="370" y2="611" stroke="#555" stroke-width="0.9"/>
<text x="371" y="606" font-size="4.1" text-anchor="start" font-weight="bold" fill="#1a1a1a" stroke="#1a1a1a" stroke-width="0.15" >PAM electrolyte</text>
<text x="371" y="612.7" font-size="4.1" text-anchor="start" font-weight="bold" fill="#1a1a1a" stroke="#1a1a1a" stroke-width="0.15" >Normal electrolyte</text>
<text x="322" y="652.2" font-size="7.6" text-anchor="start" font-weight="bold" fill="#1a1a1a" stroke="#1a1a1a" stroke-width="0.15" >2 mA·cm<tspan dy="-2.5" font-size="4.9">−2</tspan><tspan dy="2.5">, 4 mAh·cm</tspan><tspan dy="-2.5" font-size="4.9">−2</tspan></text>
</g>
<g id="pi">
<text x="0" y="686.8" font-size="9.8" text-anchor="start" font-weight="bold" fill="#1a1a1a" stroke="#1a1a1a" stroke-width="0.15" >(i)</text>
<rect x="28.6" y="681.4" width="86.80000000000001" height="61.60000000000002" fill="url(#ibg)"/>
<path d="M44.7 694.4 C46.2 728.0 55.2 728.0 56.7 694.4" stroke="#98a4b2" stroke-width="0.45" fill="none"/>
<path d="M40.7 694.4 C43.2 729.2 58.2 729.2 60.7 694.4" stroke="#98a4b2" stroke-width="0.45" fill="none"/>
<path d="M36.7 694.4 C40.2 730.4 61.2 730.4 64.7 694.4" stroke="#98a4b2" stroke-width="0.45" fill="none"/>
<path d="M32.7 694.4 C37.2 731.6 64.2 731.6 68.7 694.4" stroke="#98a4b2" stroke-width="0.45" fill="none"/>
<path d="M39.7 705.7 Q42.7 714 45.1 721" stroke="#3a3a3a" stroke-width="0.55" fill="none"/><path d="M43.9 719.5 L45.5 722.5 L46.1 719 Z" fill="#3a3a3a"/>
<path d="M71.7 698.4 Q62.7 710 55.2 721.5" stroke="#3a3a3a" stroke-width="0.55" fill="none"/><path d="M54.9 719 L54.9 722.5 L57.1 720 Z" fill="#3a3a3a"/>
<rect x="28.6" y="736.6" width="86.80000000000001" height="6.4" fill="#9c9c9c"/>
<circle cx="31.6" cy="731.8" r="2.1" fill="#b4b6bc" stroke="#8a8c92" stroke-width="0.3"/><circle cx="31.0" cy="731.2" r="0.84" fill="#e8e8ec"/>
<circle cx="35.9" cy="731.8" r="2.1" fill="#b4b6bc" stroke="#8a8c92" stroke-width="0.3"/><circle cx="35.3" cy="731.2" r="0.84" fill="#e8e8ec"/>
<circle cx="40.2" cy="731.8" r="2.1" fill="#b4b6bc" stroke="#8a8c92" stroke-width="0.3"/><circle cx="39.6" cy="731.2" r="0.84" fill="#e8e8ec"/>
<path d="M31.6 735.0 L38.3 735.0 L45.1 735.0 L51.8 735.0 L58.5 735.0 L65.3 735.0 L72.0 735.0 L78.7 735.0 L85.5 735.0 L92.2 735.0 L98.9 735.0 L105.7 735.0 L112.4 735.0" stroke="#a82222" stroke-width="0.7" fill="none"/>
<circle cx="31.6" cy="735.0" r="2.0" fill="#d63a30" stroke="#9a1c1c" stroke-width="0.35"/><circle cx="31.6" cy="735.0" r="0.70" fill="#f0a0a0"/>
<circle cx="38.3" cy="735.0" r="2.0" fill="#d63a30" stroke="#9a1c1c" stroke-width="0.35"/><circle cx="38.3" cy="735.0" r="0.70" fill="#f0a0a0"/>
<circle cx="45.1" cy="735.0" r="2.0" fill="#d63a30" stroke="#9a1c1c" stroke-width="0.35"/><circle cx="45.1" cy="735.0" r="0.70" fill="#f0a0a0"/>
<circle cx="51.8" cy="735.0" r="2.0" fill="#d63a30" stroke="#9a1c1c" stroke-width="0.35"/><circle cx="51.8" cy="735.0" r="0.70" fill="#f0a0a0"/>
<circle cx="58.5" cy="735.0" r="2.0" fill="#d63a30" stroke="#9a1c1c" stroke-width="0.35"/><circle cx="58.5" cy="735.0" r="0.70" fill="#f0a0a0"/>
<circle cx="65.3" cy="735.0" r="2.0" fill="#d63a30" stroke="#9a1c1c" stroke-width="0.35"/><circle cx="65.3" cy="735.0" r="0.70" fill="#f0a0a0"/>
<circle cx="72.0" cy="735.0" r="2.0" fill="#d63a30" stroke="#9a1c1c" stroke-width="0.35"/><circle cx="72.0" cy="735.0" r="0.70" fill="#f0a0a0"/>
<circle cx="78.7" cy="735.0" r="2.0" fill="#d63a30" stroke="#9a1c1c" stroke-width="0.35"/><circle cx="78.7" cy="735.0" r="0.70" fill="#f0a0a0"/>
<circle cx="85.5" cy="735.0" r="2.0" fill="#d63a30" stroke="#9a1c1c" stroke-width="0.35"/><circle cx="85.5" cy="735.0" r="0.70" fill="#f0a0a0"/>
<circle cx="92.2" cy="735.0" r="2.0" fill="#d63a30" stroke="#9a1c1c" stroke-width="0.35"/><circle cx="92.2" cy="735.0" r="0.70" fill="#f0a0a0"/>
<circle cx="98.9" cy="735.0" r="2.0" fill="#d63a30" stroke="#9a1c1c" stroke-width="0.35"/><circle cx="98.9" cy="735.0" r="0.70" fill="#f0a0a0"/>
<circle cx="105.7" cy="735.0" r="2.0" fill="#d63a30" stroke="#9a1c1c" stroke-width="0.35"/><circle cx="105.7" cy="735.0" r="0.70" fill="#f0a0a0"/>
<circle cx="112.4" cy="735.0" r="2.0" fill="#d63a30" stroke="#9a1c1c" stroke-width="0.35"/><circle cx="112.4" cy="735.0" r="0.70" fill="#f0a0a0"/>
<path d="M43.7 737 L50.7 726 L57.7 737 Z" fill="#a0a0a0"/>
<path d="M43.7 735.0 L46.9 729.8 L50.7 724.5 L54.5 729.8 L57.7 735.0" stroke="#a82222" stroke-width="0.7" fill="none"/>
<circle cx="43.7" cy="735.0" r="2.0" fill="#d63a30" stroke="#9a1c1c" stroke-width="0.35"/><circle cx="43.7" cy="735.0" r="0.70" fill="#f0a0a0"/>
<circle cx="46.9" cy="729.8" r="2.0" fill="#d63a30" stroke="#9a1c1c" stroke-width="0.35"/><circle cx="46.9" cy="729.8" r="0.70" fill="#f0a0a0"/>
<circle cx="50.7" cy="724.5" r="2.0" fill="#d63a30" stroke="#9a1c1c" stroke-width="0.35"/><circle cx="50.7" cy="724.5" r="0.70" fill="#f0a0a0"/>
<circle cx="54.5" cy="729.8" r="2.0" fill="#d63a30" stroke="#9a1c1c" stroke-width="0.35"/><circle cx="54.5" cy="729.8" r="0.70" fill="#f0a0a0"/>
<circle cx="57.7" cy="735.0" r="2.0" fill="#d63a30" stroke="#9a1c1c" stroke-width="0.35"/><circle cx="57.7" cy="735.0" r="0.70" fill="#f0a0a0"/>
<path d="M73.9 737 L80.9 726 L87.9 737 Z" fill="#a0a0a0"/>
<path d="M73.9 735.0 L77.1 729.8 L80.9 724.5 L84.7 729.8 L87.9 735.0" stroke="#a82222" stroke-width="0.7" fill="none"/>
<circle cx="73.9" cy="735.0" r="2.0" fill="#d63a30" stroke="#9a1c1c" stroke-width="0.35"/><circle cx="73.9" cy="735.0" r="0.70" fill="#f0a0a0"/>
<circle cx="77.1" cy="729.8" r="2.0" fill="#d63a30" stroke="#9a1c1c" stroke-width="0.35"/><circle cx="77.1" cy="729.8" r="0.70" fill="#f0a0a0"/>
<circle cx="80.9" cy="724.5" r="2.0" fill="#d63a30" stroke="#9a1c1c" stroke-width="0.35"/><circle cx="80.9" cy="724.5" r="0.70" fill="#f0a0a0"/>
<circle cx="84.7" cy="729.8" r="2.0" fill="#d63a30" stroke="#9a1c1c" stroke-width="0.35"/><circle cx="84.7" cy="729.8" r="0.70" fill="#f0a0a0"/>
<circle cx="87.9" cy="735.0" r="2.0" fill="#d63a30" stroke="#9a1c1c" stroke-width="0.35"/><circle cx="87.9" cy="735.0" r="0.70" fill="#f0a0a0"/>
<path d="M33.4 696.2 L41.0 699.4 L48.5 700.5" stroke="#a82222" stroke-width="0.7" fill="none"/>
<circle cx="33.4" cy="696.2" r="2.0" fill="#d63a30" stroke="#9a1c1c" stroke-width="0.35"/><circle cx="33.4" cy="696.2" r="0.70" fill="#f0a0a0"/>
<circle cx="41.0" cy="699.4" r="2.0" fill="#d63a30" stroke="#9a1c1c" stroke-width="0.35"/><circle cx="41.0" cy="699.4" r="0.70" fill="#f0a0a0"/>
<circle cx="48.5" cy="700.5" r="2.0" fill="#d63a30" stroke="#9a1c1c" stroke-width="0.35"/><circle cx="48.5" cy="700.5" r="0.70" fill="#f0a0a0"/>
<path d="M64.7 693.4 L72.2 691.9 L79.8 688.6" stroke="#a82222" stroke-width="0.7" fill="none"/>
<circle cx="64.7" cy="693.4" r="2.0" fill="#d63a30" stroke="#9a1c1c" stroke-width="0.35"/><circle cx="64.7" cy="693.4" r="0.70" fill="#f0a0a0"/>
<circle cx="72.2" cy="691.9" r="2.0" fill="#d63a30" stroke="#9a1c1c" stroke-width="0.35"/><circle cx="72.2" cy="691.9" r="0.70" fill="#f0a0a0"/>
<circle cx="79.8" cy="688.6" r="2.0" fill="#d63a30" stroke="#9a1c1c" stroke-width="0.35"/><circle cx="79.8" cy="688.6" r="0.70" fill="#f0a0a0"/>
<circle cx="92.7" cy="731.8" r="2.1" fill="#b4b6bc" stroke="#8a8c92" stroke-width="0.3"/><circle cx="92.1" cy="731.2" r="0.84" fill="#e8e8ec"/>
<circle cx="50.7" cy="713.5" r="2.5" fill="#d8e8f8" stroke="#2a6ec0" stroke-width="0.6"/>
<circle cx="60" cy="712.6" r="2.3" fill="#fff" stroke="#1a1a1a" stroke-width="0.45"/>
<text x="60" y="714.2" font-size="3.6" text-anchor="middle" font-weight="bold" fill="#1a1a1a" stroke="#1a1a1a" stroke-width="0.05" >1</text>
<text x="63" y="714.2" font-size="4.8" text-anchor="start" font-weight="bold" fill="#1a1a1a" stroke="#1a1a1a" stroke-width="0.15" >Self-assembly of PODs</text>
<text x="63.6" y="720" font-size="4.8" text-anchor="start" font-weight="bold" fill="#1a1a1a" stroke="#1a1a1a" stroke-width="0.15" >on Zn anode surface</text>
<text x="74.5" y="686.4" font-size="5.6" text-anchor="middle" font-weight="bold" fill="#2a6ec0" stroke="#2a6ec0" stroke-width="0.15" >Zn/electrolyte Interface</text>
<rect x="128.4" y="681.4" width="86.79999999999998" height="61.60000000000002" fill="url(#ibg)"/>
<path d="M144.0 694.4 C145.5 728.0 154.5 728.0 156.0 694.4" stroke="#98a4b2" stroke-width="0.45" fill="none"/>
<path d="M140.0 694.4 C142.5 729.2 157.5 729.2 160.0 694.4" stroke="#98a4b2" stroke-width="0.45" fill="none"/>
<path d="M136.0 694.4 C139.5 730.4 160.5 730.4 164.0 694.4" stroke="#98a4b2" stroke-width="0.45" fill="none"/>
<path d="M132.0 694.4 C136.5 731.6 163.5 731.6 168.0 694.4" stroke="#98a4b2" stroke-width="0.45" fill="none"/>
<rect x="128.4" y="736.6" width="86.79999999999998" height="6.4" fill="#9c9c9c"/>
<circle cx="131.4" cy="731.8" r="2.1" fill="#b4b6bc" stroke="#8a8c92" stroke-width="0.3"/><circle cx="130.8" cy="731.2" r="0.84" fill="#e8e8ec"/>
<circle cx="135.7" cy="731.8" r="2.1" fill="#b4b6bc" stroke="#8a8c92" stroke-width="0.3"/><circle cx="135.1" cy="731.2" r="0.84" fill="#e8e8ec"/>
<circle cx="140.0" cy="731.8" r="2.1" fill="#b4b6bc" stroke="#8a8c92" stroke-width="0.3"/><circle cx="139.4" cy="731.2" r="0.84" fill="#e8e8ec"/>
<path d="M131.4 735.0 L138.1 735.0 L144.9 735.0 L151.6 735.0 L158.3 735.0 L165.1 735.0 L171.8 735.0 L178.5 735.0 L185.3 735.0 L192.0 735.0 L198.7 735.0 L205.5 735.0 L212.2 735.0" stroke="#a82222" stroke-width="0.7" fill="none"/>
<circle cx="131.4" cy="735.0" r="2.0" fill="#d63a30" stroke="#9a1c1c" stroke-width="0.35"/><circle cx="131.4" cy="735.0" r="0.70" fill="#f0a0a0"/>
<circle cx="138.1" cy="735.0" r="2.0" fill="#d63a30" stroke="#9a1c1c" stroke-width="0.35"/><circle cx="138.1" cy="735.0" r="0.70" fill="#f0a0a0"/>
<circle cx="144.9" cy="735.0" r="2.0" fill="#d63a30" stroke="#9a1c1c" stroke-width="0.35"/><circle cx="144.9" cy="735.0" r="0.70" fill="#f0a0a0"/>
<circle cx="151.6" cy="735.0" r="2.0" fill="#d63a30" stroke="#9a1c1c" stroke-width="0.35"/><circle cx="151.6" cy="735.0" r="0.70" fill="#f0a0a0"/>
<circle cx="158.3" cy="735.0" r="2.0" fill="#d63a30" stroke="#9a1c1c" stroke-width="0.35"/><circle cx="158.3" cy="735.0" r="0.70" fill="#f0a0a0"/>
<circle cx="165.1" cy="735.0" r="2.0" fill="#d63a30" stroke="#9a1c1c" stroke-width="0.35"/><circle cx="165.1" cy="735.0" r="0.70" fill="#f0a0a0"/>
<circle cx="171.8" cy="735.0" r="2.0" fill="#d63a30" stroke="#9a1c1c" stroke-width="0.35"/><circle cx="171.8" cy="735.0" r="0.70" fill="#f0a0a0"/>
<circle cx="178.5" cy="735.0" r="2.0" fill="#d63a30" stroke="#9a1c1c" stroke-width="0.35"/><circle cx="178.5" cy="735.0" r="0.70" fill="#f0a0a0"/>
<circle cx="185.3" cy="735.0" r="2.0" fill="#d63a30" stroke="#9a1c1c" stroke-width="0.35"/><circle cx="185.3" cy="735.0" r="0.70" fill="#f0a0a0"/>
<circle cx="192.0" cy="735.0" r="2.0" fill="#d63a30" stroke="#9a1c1c" stroke-width="0.35"/><circle cx="192.0" cy="735.0" r="0.70" fill="#f0a0a0"/>
<circle cx="198.7" cy="735.0" r="2.0" fill="#d63a30" stroke="#9a1c1c" stroke-width="0.35"/><circle cx="198.7" cy="735.0" r="0.70" fill="#f0a0a0"/>
<circle cx="205.5" cy="735.0" r="2.0" fill="#d63a30" stroke="#9a1c1c" stroke-width="0.35"/><circle cx="205.5" cy="735.0" r="0.70" fill="#f0a0a0"/>
<circle cx="212.2" cy="735.0" r="2.0" fill="#d63a30" stroke="#9a1c1c" stroke-width="0.35"/><circle cx="212.2" cy="735.0" r="0.70" fill="#f0a0a0"/>
<path d="M143.0 737 L150.0 726 L157.0 737 Z" fill="#a0a0a0"/>
<path d="M143.0 735.0 L146.2 729.8 L150.0 724.5 L153.8 729.8 L157.0 735.0" stroke="#a82222" stroke-width="0.7" fill="none"/>
<circle cx="143.0" cy="735.0" r="2.0" fill="#d63a30" stroke="#9a1c1c" stroke-width="0.35"/><circle cx="143.0" cy="735.0" r="0.70" fill="#f0a0a0"/>
<circle cx="146.2" cy="729.8" r="2.0" fill="#d63a30" stroke="#9a1c1c" stroke-width="0.35"/><circle cx="146.2" cy="729.8" r="0.70" fill="#f0a0a0"/>
<circle cx="150.0" cy="724.5" r="2.0" fill="#d63a30" stroke="#9a1c1c" stroke-width="0.35"/><circle cx="150.0" cy="724.5" r="0.70" fill="#f0a0a0"/>
<circle cx="153.8" cy="729.8" r="2.0" fill="#d63a30" stroke="#9a1c1c" stroke-width="0.35"/><circle cx="153.8" cy="729.8" r="0.70" fill="#f0a0a0"/>
<circle cx="157.0" cy="735.0" r="2.0" fill="#d63a30" stroke="#9a1c1c" stroke-width="0.35"/><circle cx="157.0" cy="735.0" r="0.70" fill="#f0a0a0"/>
<path d="M175.0 737 L182.0 726 L189.0 737 Z" fill="#a0a0a0"/>
<path d="M175.0 735.0 L178.2 729.8 L182.0 724.5 L185.8 729.8 L189.0 735.0" stroke="#a82222" stroke-width="0.7" fill="none"/>
<circle cx="175.0" cy="735.0" r="2.0" fill="#d63a30" stroke="#9a1c1c" stroke-width="0.35"/><circle cx="175.0" cy="735.0" r="0.70" fill="#f0a0a0"/>
<circle cx="178.2" cy="729.8" r="2.0" fill="#d63a30" stroke="#9a1c1c" stroke-width="0.35"/><circle cx="178.2" cy="729.8" r="0.70" fill="#f0a0a0"/>
<circle cx="182.0" cy="724.5" r="2.0" fill="#d63a30" stroke="#9a1c1c" stroke-width="0.35"/><circle cx="182.0" cy="724.5" r="0.70" fill="#f0a0a0"/>
<circle cx="185.8" cy="729.8" r="2.0" fill="#d63a30" stroke="#9a1c1c" stroke-width="0.35"/><circle cx="185.8" cy="729.8" r="0.70" fill="#f0a0a0"/>
<circle cx="189.0" cy="735.0" r="2.0" fill="#d63a30" stroke="#9a1c1c" stroke-width="0.35"/><circle cx="189.0" cy="735.0" r="0.70" fill="#f0a0a0"/>
<path d="M133.4 698.3 L141.0 701.0 L147.9 701.6" stroke="#a82222" stroke-width="0.7" fill="none"/>
<circle cx="133.4" cy="698.3" r="2.0" fill="#d63a30" stroke="#9a1c1c" stroke-width="0.35"/><circle cx="133.4" cy="698.3" r="0.70" fill="#f0a0a0"/>
<circle cx="141.0" cy="701.0" r="2.0" fill="#d63a30" stroke="#9a1c1c" stroke-width="0.35"/><circle cx="141.0" cy="701.0" r="0.70" fill="#f0a0a0"/>
<circle cx="147.9" cy="701.6" r="2.0" fill="#d63a30" stroke="#9a1c1c" stroke-width="0.35"/><circle cx="147.9" cy="701.6" r="0.70" fill="#f0a0a0"/>
<path d="M163.6 693.4 L172.2 691.2 L178.7 689.0" stroke="#a82222" stroke-width="0.7" fill="none"/>
<circle cx="163.6" cy="693.4" r="2.0" fill="#d63a30" stroke="#9a1c1c" stroke-width="0.35"/><circle cx="163.6" cy="693.4" r="0.70" fill="#f0a0a0"/>
<circle cx="172.2" cy="691.2" r="2.0" fill="#d63a30" stroke="#9a1c1c" stroke-width="0.35"/><circle cx="172.2" cy="691.2" r="0.70" fill="#f0a0a0"/>
<circle cx="178.7" cy="689.0" r="2.0" fill="#d63a30" stroke="#9a1c1c" stroke-width="0.35"/><circle cx="178.7" cy="689.0" r="0.70" fill="#f0a0a0"/>
<circle cx="195" cy="696" r="5.2" fill="#f8f0f0" stroke="#c0c0c0" stroke-width="0.3"/>
<circle cx="198.6" cy="696.0" r="1" fill="#d63a30"/>
<circle cx="196.8" cy="699.1" r="1" fill="#d63a30"/>
<circle cx="193.2" cy="699.1" r="1" fill="#d63a30"/>
<circle cx="191.4" cy="696.0" r="1" fill="#d63a30"/>
<circle cx="193.2" cy="692.9" r="1" fill="#d63a30"/>
<circle cx="196.8" cy="692.9" r="1" fill="#d63a30"/>
<circle cx="195.0" cy="696.0" r="1.5" fill="#b4b6bc" stroke="#8a8c92" stroke-width="0.3"/><circle cx="194.4" cy="695.4" r="0.60" fill="#e8e8ec"/>
<circle cx="167.0" cy="708.5" r="2.1" fill="#b4b6bc" stroke="#8a8c92" stroke-width="0.3"/><circle cx="166.4" cy="707.9" r="0.84" fill="#e8e8ec"/>
<circle cx="150" cy="713.5" r="2.5" fill="#d8e8f8" stroke="#2a6ec0" stroke-width="0.6"/>
<text x="140" y="699.4" font-size="5.6" text-anchor="start" font-weight="bold" fill="#86c474" stroke="#86c474" stroke-width="0.15" textLength="47.5">H-bond interaction</text>
<circle cx="178" cy="705.4" r="2.3" fill="#fff" stroke="#1a1a1a" stroke-width="0.45"/>
<text x="178" y="707.0" font-size="3.6" text-anchor="middle" font-weight="bold" fill="#1a1a1a" stroke="#1a1a1a" stroke-width="0.05" >2</text>
<text x="181" y="707" font-size="4.8" text-anchor="start" font-weight="bold" fill="#1a1a1a" stroke="#1a1a1a" stroke-width="0.15" >Accelerated</text>
<text x="181.5" y="712.6" font-size="4.8" text-anchor="start" font-weight="bold" fill="#1a1a1a" stroke="#1a1a1a" stroke-width="0.15" >desolvation</text>
<text x="172.5" y="686.2" font-size="5.6" text-anchor="middle" font-weight="bold" fill="#2a6ec0" stroke="#2a6ec0" stroke-width="0.15" >Zn/electrolyte Interface</text>
<rect x="225.3" y="681.4" width="86.30000000000001" height="61.60000000000002" fill="url(#ibg)"/>
<path d="M241.7 694.4 C243.2 728.0 252.2 728.0 253.7 694.4" stroke="#98a4b2" stroke-width="0.45" fill="none"/>
<path d="M237.7 694.4 C240.2 729.2 255.2 729.2 257.7 694.4" stroke="#98a4b2" stroke-width="0.45" fill="none"/>
<path d="M233.7 694.4 C237.2 730.4 258.2 730.4 261.7 694.4" stroke="#98a4b2" stroke-width="0.45" fill="none"/>
<path d="M229.7 694.4 C234.2 731.6 261.2 731.6 265.7 694.4" stroke="#98a4b2" stroke-width="0.45" fill="none"/>
<rect x="225.3" y="736.6" width="86.30000000000001" height="6.4" fill="#9c9c9c"/>
<circle cx="228.3" cy="731.8" r="2.1" fill="#b4b6bc" stroke="#8a8c92" stroke-width="0.3"/><circle cx="227.7" cy="731.2" r="0.84" fill="#e8e8ec"/>
<circle cx="232.6" cy="731.8" r="2.1" fill="#b4b6bc" stroke="#8a8c92" stroke-width="0.3"/><circle cx="232.0" cy="731.2" r="0.84" fill="#e8e8ec"/>
<circle cx="236.9" cy="731.8" r="2.1" fill="#b4b6bc" stroke="#8a8c92" stroke-width="0.3"/><circle cx="236.3" cy="731.2" r="0.84" fill="#e8e8ec"/>
<path d="M228.3 735.0 L235.0 735.0 L241.7 735.0 L248.4 735.0 L255.1 735.0 L261.8 735.0 L268.5 735.0 L275.1 735.0 L281.8 735.0 L288.5 735.0 L295.2 735.0 L301.9 735.0 L308.6 735.0" stroke="#a82222" stroke-width="0.7" fill="none"/>
<circle cx="228.3" cy="735.0" r="2.0" fill="#d63a30" stroke="#9a1c1c" stroke-width="0.35"/><circle cx="228.3" cy="735.0" r="0.70" fill="#f0a0a0"/>
<circle cx="235.0" cy="735.0" r="2.0" fill="#d63a30" stroke="#9a1c1c" stroke-width="0.35"/><circle cx="235.0" cy="735.0" r="0.70" fill="#f0a0a0"/>
<circle cx="241.7" cy="735.0" r="2.0" fill="#d63a30" stroke="#9a1c1c" stroke-width="0.35"/><circle cx="241.7" cy="735.0" r="0.70" fill="#f0a0a0"/>
<circle cx="248.4" cy="735.0" r="2.0" fill="#d63a30" stroke="#9a1c1c" stroke-width="0.35"/><circle cx="248.4" cy="735.0" r="0.70" fill="#f0a0a0"/>
<circle cx="255.1" cy="735.0" r="2.0" fill="#d63a30" stroke="#9a1c1c" stroke-width="0.35"/><circle cx="255.1" cy="735.0" r="0.70" fill="#f0a0a0"/>
<circle cx="261.8" cy="735.0" r="2.0" fill="#d63a30" stroke="#9a1c1c" stroke-width="0.35"/><circle cx="261.8" cy="735.0" r="0.70" fill="#f0a0a0"/>
<circle cx="268.5" cy="735.0" r="2.0" fill="#d63a30" stroke="#9a1c1c" stroke-width="0.35"/><circle cx="268.5" cy="735.0" r="0.70" fill="#f0a0a0"/>
<circle cx="275.1" cy="735.0" r="2.0" fill="#d63a30" stroke="#9a1c1c" stroke-width="0.35"/><circle cx="275.1" cy="735.0" r="0.70" fill="#f0a0a0"/>
<circle cx="281.8" cy="735.0" r="2.0" fill="#d63a30" stroke="#9a1c1c" stroke-width="0.35"/><circle cx="281.8" cy="735.0" r="0.70" fill="#f0a0a0"/>
<circle cx="288.5" cy="735.0" r="2.0" fill="#d63a30" stroke="#9a1c1c" stroke-width="0.35"/><circle cx="288.5" cy="735.0" r="0.70" fill="#f0a0a0"/>
<circle cx="295.2" cy="735.0" r="2.0" fill="#d63a30" stroke="#9a1c1c" stroke-width="0.35"/><circle cx="295.2" cy="735.0" r="0.70" fill="#f0a0a0"/>
<circle cx="301.9" cy="735.0" r="2.0" fill="#d63a30" stroke="#9a1c1c" stroke-width="0.35"/><circle cx="301.9" cy="735.0" r="0.70" fill="#f0a0a0"/>
<circle cx="308.6" cy="735.0" r="2.0" fill="#d63a30" stroke="#9a1c1c" stroke-width="0.35"/><circle cx="308.6" cy="735.0" r="0.70" fill="#f0a0a0"/>
<path d="M240.7 737 L247.7 726 L254.7 737 Z" fill="#a0a0a0"/>
<path d="M240.7 735.0 L243.9 729.8 L247.7 724.5 L251.5 729.8 L254.7 735.0" stroke="#a82222" stroke-width="0.7" fill="none"/>
<circle cx="240.7" cy="735.0" r="2.0" fill="#d63a30" stroke="#9a1c1c" stroke-width="0.35"/><circle cx="240.7" cy="735.0" r="0.70" fill="#f0a0a0"/>
<circle cx="243.9" cy="729.8" r="2.0" fill="#d63a30" stroke="#9a1c1c" stroke-width="0.35"/><circle cx="243.9" cy="729.8" r="0.70" fill="#f0a0a0"/>
<circle cx="247.7" cy="724.5" r="2.0" fill="#d63a30" stroke="#9a1c1c" stroke-width="0.35"/><circle cx="247.7" cy="724.5" r="0.70" fill="#f0a0a0"/>
<circle cx="251.5" cy="729.8" r="2.0" fill="#d63a30" stroke="#9a1c1c" stroke-width="0.35"/><circle cx="251.5" cy="729.8" r="0.70" fill="#f0a0a0"/>
<circle cx="254.7" cy="735.0" r="2.0" fill="#d63a30" stroke="#9a1c1c" stroke-width="0.35"/><circle cx="254.7" cy="735.0" r="0.70" fill="#f0a0a0"/>
<path d="M272.0 737 L279.0 726 L286.0 737 Z" fill="#a0a0a0"/>
<path d="M272.0 735.0 L275.2 729.8 L279.0 724.5 L282.8 729.8 L286.0 735.0" stroke="#a82222" stroke-width="0.7" fill="none"/>
<circle cx="272.0" cy="735.0" r="2.0" fill="#d63a30" stroke="#9a1c1c" stroke-width="0.35"/><circle cx="272.0" cy="735.0" r="0.70" fill="#f0a0a0"/>
<circle cx="275.2" cy="729.8" r="2.0" fill="#d63a30" stroke="#9a1c1c" stroke-width="0.35"/><circle cx="275.2" cy="729.8" r="0.70" fill="#f0a0a0"/>
<circle cx="279.0" cy="724.5" r="2.0" fill="#d63a30" stroke="#9a1c1c" stroke-width="0.35"/><circle cx="279.0" cy="724.5" r="0.70" fill="#f0a0a0"/>
<circle cx="282.8" cy="729.8" r="2.0" fill="#d63a30" stroke="#9a1c1c" stroke-width="0.35"/><circle cx="282.8" cy="729.8" r="0.70" fill="#f0a0a0"/>
<circle cx="286.0" cy="735.0" r="2.0" fill="#d63a30" stroke="#9a1c1c" stroke-width="0.35"/><circle cx="286.0" cy="735.0" r="0.70" fill="#f0a0a0"/>
<path d="M232.0 690.0 L239.0 692.5 L246.0 692.0" stroke="#a82222" stroke-width="0.7" fill="none"/>
<circle cx="232.0" cy="690.0" r="2.0" fill="#d63a30" stroke="#9a1c1c" stroke-width="0.35"/><circle cx="232.0" cy="690.0" r="0.70" fill="#f0a0a0"/>
<circle cx="239.0" cy="692.5" r="2.0" fill="#d63a30" stroke="#9a1c1c" stroke-width="0.35"/><circle cx="239.0" cy="692.5" r="0.70" fill="#f0a0a0"/>
<circle cx="246.0" cy="692.0" r="2.0" fill="#d63a30" stroke="#9a1c1c" stroke-width="0.35"/><circle cx="246.0" cy="692.0" r="0.70" fill="#f0a0a0"/>
<path d="M284.0 686.0 L292.0 692.0" stroke="#a82222" stroke-width="0.7" fill="none"/>
<circle cx="284.0" cy="686.0" r="1.7" fill="#d63a30" stroke="#9a1c1c" stroke-width="0.35"/><circle cx="284.0" cy="686.0" r="0.59" fill="#f0a0a0"/>
<circle cx="292.0" cy="692.0" r="1.7" fill="#d63a30" stroke="#9a1c1c" stroke-width="0.35"/><circle cx="292.0" cy="692.0" r="0.59" fill="#f0a0a0"/>
<path d="M292.0 692.0 L300.0 686.0" stroke="#a82222" stroke-width="0.7" fill="none"/>
<circle cx="292.0" cy="692.0" r="1.7" fill="#d63a30" stroke="#9a1c1c" stroke-width="0.35"/><circle cx="292.0" cy="692.0" r="0.59" fill="#f0a0a0"/>
<circle cx="300.0" cy="686.0" r="1.7" fill="#d63a30" stroke="#9a1c1c" stroke-width="0.35"/><circle cx="300.0" cy="686.0" r="0.59" fill="#f0a0a0"/>
<path d="M300.0 686.0 L308.0 692.0" stroke="#a82222" stroke-width="0.7" fill="none"/>
<circle cx="300.0" cy="686.0" r="1.7" fill="#d63a30" stroke="#9a1c1c" stroke-width="0.35"/><circle cx="300.0" cy="686.0" r="0.59" fill="#f0a0a0"/>
<circle cx="308.0" cy="692.0" r="1.7" fill="#d63a30" stroke="#9a1c1c" stroke-width="0.35"/><circle cx="308.0" cy="692.0" r="0.59" fill="#f0a0a0"/>
<path d="M284.0 700.0 L292.0 706.0" stroke="#a82222" stroke-width="0.7" fill="none"/>
<circle cx="284.0" cy="700.0" r="1.7" fill="#d63a30" stroke="#9a1c1c" stroke-width="0.35"/><circle cx="284.0" cy="700.0" r="0.59" fill="#f0a0a0"/>
<circle cx="292.0" cy="706.0" r="1.7" fill="#d63a30" stroke="#9a1c1c" stroke-width="0.35"/><circle cx="292.0" cy="706.0" r="0.59" fill="#f0a0a0"/>
<path d="M300.0 700.0 L306.0 706.0" stroke="#a82222" stroke-width="0.7" fill="none"/>
<circle cx="300.0" cy="700.0" r="1.7" fill="#d63a30" stroke="#9a1c1c" stroke-width="0.35"/><circle cx="300.0" cy="700.0" r="0.59" fill="#f0a0a0"/>
<circle cx="306.0" cy="706.0" r="1.7" fill="#d63a30" stroke="#9a1c1c" stroke-width="0.35"/><circle cx="306.0" cy="706.0" r="0.59" fill="#f0a0a0"/>
<path d="M292.0 692.0 L292.0 700.0" stroke="#a82222" stroke-width="0.7" fill="none"/>
<circle cx="292.0" cy="692.0" r="1.7" fill="#d63a30" stroke="#9a1c1c" stroke-width="0.35"/><circle cx="292.0" cy="692.0" r="0.59" fill="#f0a0a0"/>
<circle cx="292.0" cy="700.0" r="1.7" fill="#d63a30" stroke="#9a1c1c" stroke-width="0.35"/><circle cx="292.0" cy="700.0" r="0.59" fill="#f0a0a0"/>
<circle cx="288.0" cy="694.0" r="1.9" fill="#b4b6bc" stroke="#8a8c92" stroke-width="0.3"/><circle cx="287.4" cy="693.4" r="0.76" fill="#e8e8ec"/>
<circle cx="300.0" cy="694.0" r="1.9" fill="#b4b6bc" stroke="#8a8c92" stroke-width="0.3"/><circle cx="299.4" cy="693.4" r="0.76" fill="#e8e8ec"/>
<circle cx="296.0" cy="704.0" r="1.9" fill="#b4b6bc" stroke="#8a8c92" stroke-width="0.3"/><circle cx="295.4" cy="703.4" r="0.76" fill="#e8e8ec"/>
<circle cx="234.0" cy="731.8" r="2.1" fill="#b4b6bc" stroke="#8a8c92" stroke-width="0.3"/><circle cx="233.4" cy="731.2" r="0.84" fill="#e8e8ec"/>
<circle cx="238.5" cy="731.8" r="2.1" fill="#b4b6bc" stroke="#8a8c92" stroke-width="0.3"/><circle cx="237.9" cy="731.2" r="0.84" fill="#e8e8ec"/>
<circle cx="243.0" cy="731.8" r="2.1" fill="#b4b6bc" stroke="#8a8c92" stroke-width="0.3"/><circle cx="242.4" cy="731.2" r="0.84" fill="#e8e8ec"/>
<circle cx="267.0" cy="730.5" r="2.1" fill="#b4b6bc" stroke="#8a8c92" stroke-width="0.3"/><circle cx="266.4" cy="729.9" r="0.84" fill="#e8e8ec"/>
<circle cx="290.0" cy="730.5" r="2.1" fill="#b4b6bc" stroke="#8a8c92" stroke-width="0.3"/><circle cx="289.4" cy="729.9" r="0.84" fill="#e8e8ec"/>
<circle cx="261.0" cy="712.0" r="2.1" fill="#b4b6bc" stroke="#8a8c92" stroke-width="0.3"/><circle cx="260.4" cy="711.4" r="0.84" fill="#e8e8ec"/>
<path d="M268 708 L298 696 L300 700 L272 713 Z" fill="#bcd8f0" opacity="0.9"/>
<text transform="translate(270 702.5) rotate(-30)" font-size="6.6" font-weight="bold" text-anchor="middle" fill="#2a6ec0" stroke="#2a6ec0" stroke-width="0.15">Channel</text>
<text x="232.2" y="703.2" font-size="4.9" text-anchor="start" font-weight="bold" fill="#c0282a" stroke="#c0282a" stroke-width="0.15" >Electrostatic</text>
<text x="232.2" y="709.2" font-size="4.9" text-anchor="start" font-weight="bold" fill="#c0282a" stroke="#c0282a" stroke-width="0.15" >repulsion</text>
<circle cx="247.7" cy="714" r="2.5" fill="#d8e8f8" stroke="#2a6ec0" stroke-width="0.6"/>
<circle cx="267.5" cy="714.1" r="2.3" fill="#fff" stroke="#1a1a1a" stroke-width="0.45"/>
<text x="267.5" y="715.7" font-size="3.6" text-anchor="middle" font-weight="bold" fill="#1a1a1a" stroke="#1a1a1a" stroke-width="0.05" >3</text>
<text x="270.5" y="715.8" font-size="4.8" text-anchor="start" font-weight="bold" fill="#1a1a1a" stroke="#1a1a1a" stroke-width="0.15" >Fast Zn<tspan dy="-1.6" font-size="3.2">2+</tspan><tspan dy="1.6">-transfer</tspan></text>
<circle cx="267.5" cy="720.1" r="2.3" fill="#fff" stroke="#1a1a1a" stroke-width="0.45"/>
<text x="267.5" y="721.7" font-size="3.6" text-anchor="middle" font-weight="bold" fill="#1a1a1a" stroke="#1a1a1a" stroke-width="0.05" >4</text>
<text x="270.5" y="721.8" font-size="4.8" text-anchor="start" font-weight="bold" fill="#1a1a1a" stroke="#1a1a1a" stroke-width="0.15" >2D diffusion</text>
<text x="226.2" y="686" font-size="5.6" text-anchor="start" font-weight="bold" fill="#2a6ec0" stroke="#2a6ec0" stroke-width="0.15" >Zn/electrolyte Interface</text>
<rect x="323" y="681.4" width="91" height="61.60000000000002" fill="url(#ibg)"/>
<path d="M340.0 694.4 C341.5 728.0 350.5 728.0 352.0 694.4" stroke="#98a4b2" stroke-width="0.45" fill="none"/>
<path d="M336.0 694.4 C338.5 729.2 353.5 729.2 356.0 694.4" stroke="#98a4b2" stroke-width="0.45" fill="none"/>
<path d="M332.0 694.4 C335.5 730.4 356.5 730.4 360.0 694.4" stroke="#98a4b2" stroke-width="0.45" fill="none"/>
<path d="M328.0 694.4 C332.5 731.6 359.5 731.6 364.0 694.4" stroke="#98a4b2" stroke-width="0.45" fill="none"/>
<rect x="323" y="739.7" width="91" height="3.3" fill="#9c9c9c"/>
<rect x="323" y="732" width="91" height="7.7" fill="#ee8e98"/>
<text x="368.5" y="738.1" font-size="4.6" text-anchor="middle" font-weight="bold" fill="#1a1a1a" stroke="#1a1a1a" stroke-width="0.15" >N-rich hybrid inner layer</text>
<circle cx="330.0" cy="728.8" r="2.1" fill="#b4b6bc" stroke="#8a8c92" stroke-width="0.3"/><circle cx="329.4" cy="728.2" r="0.84" fill="#e8e8ec"/>
<circle cx="339.1" cy="728.8" r="2.1" fill="#b4b6bc" stroke="#8a8c92" stroke-width="0.3"/><circle cx="338.5" cy="728.2" r="0.84" fill="#e8e8ec"/>
<circle cx="348.1" cy="728.8" r="2.1" fill="#b4b6bc" stroke="#8a8c92" stroke-width="0.3"/><circle cx="347.5" cy="728.2" r="0.84" fill="#e8e8ec"/>
<circle cx="357.2" cy="728.8" r="2.1" fill="#b4b6bc" stroke="#8a8c92" stroke-width="0.3"/><circle cx="356.6" cy="728.2" r="0.84" fill="#e8e8ec"/>
<circle cx="366.2" cy="728.8" r="2.1" fill="#b4b6bc" stroke="#8a8c92" stroke-width="0.3"/><circle cx="365.6" cy="728.2" r="0.84" fill="#e8e8ec"/>
<circle cx="375.3" cy="728.8" r="2.1" fill="#b4b6bc" stroke="#8a8c92" stroke-width="0.3"/><circle cx="374.7" cy="728.2" r="0.84" fill="#e8e8ec"/>
<circle cx="384.3" cy="728.8" r="2.1" fill="#b4b6bc" stroke="#8a8c92" stroke-width="0.3"/><circle cx="383.7" cy="728.2" r="0.84" fill="#e8e8ec"/>
<circle cx="393.4" cy="728.8" r="2.1" fill="#b4b6bc" stroke="#8a8c92" stroke-width="0.3"/><circle cx="392.8" cy="728.2" r="0.84" fill="#e8e8ec"/>
<circle cx="402.4" cy="728.8" r="2.1" fill="#b4b6bc" stroke="#8a8c92" stroke-width="0.3"/><circle cx="401.8" cy="728.2" r="0.84" fill="#e8e8ec"/>
<circle cx="411.5" cy="728.8" r="2.1" fill="#b4b6bc" stroke="#8a8c92" stroke-width="0.3"/><circle cx="410.9" cy="728.2" r="0.84" fill="#e8e8ec"/>
<path d="M325.5 728.8 L334.6 728.8 L343.6 728.8 L352.7 728.8 L361.7 728.8 L370.8 728.8 L379.8 728.8 L388.9 728.8 L397.9 728.8 L407.0 728.8" stroke="#a82222" stroke-width="0.7" fill="none"/>
<circle cx="325.5" cy="728.8" r="2.0" fill="#d63a30" stroke="#9a1c1c" stroke-width="0.35"/><circle cx="325.5" cy="728.8" r="0.70" fill="#f0a0a0"/>
<circle cx="334.6" cy="728.8" r="2.0" fill="#d63a30" stroke="#9a1c1c" stroke-width="0.35"/><circle cx="334.6" cy="728.8" r="0.70" fill="#f0a0a0"/>
<circle cx="343.6" cy="728.8" r="2.0" fill="#d63a30" stroke="#9a1c1c" stroke-width="0.35"/><circle cx="343.6" cy="728.8" r="0.70" fill="#f0a0a0"/>
<circle cx="352.7" cy="728.8" r="2.0" fill="#d63a30" stroke="#9a1c1c" stroke-width="0.35"/><circle cx="352.7" cy="728.8" r="0.70" fill="#f0a0a0"/>
<circle cx="361.7" cy="728.8" r="2.0" fill="#d63a30" stroke="#9a1c1c" stroke-width="0.35"/><circle cx="361.7" cy="728.8" r="0.70" fill="#f0a0a0"/>
<circle cx="370.8" cy="728.8" r="2.0" fill="#d63a30" stroke="#9a1c1c" stroke-width="0.35"/><circle cx="370.8" cy="728.8" r="0.70" fill="#f0a0a0"/>
<circle cx="379.8" cy="728.8" r="2.0" fill="#d63a30" stroke="#9a1c1c" stroke-width="0.35"/><circle cx="379.8" cy="728.8" r="0.70" fill="#f0a0a0"/>
<circle cx="388.9" cy="728.8" r="2.0" fill="#d63a30" stroke="#9a1c1c" stroke-width="0.35"/><circle cx="388.9" cy="728.8" r="0.70" fill="#f0a0a0"/>
<circle cx="397.9" cy="728.8" r="2.0" fill="#d63a30" stroke="#9a1c1c" stroke-width="0.35"/><circle cx="397.9" cy="728.8" r="0.70" fill="#f0a0a0"/>
<circle cx="407.0" cy="728.8" r="2.0" fill="#d63a30" stroke="#9a1c1c" stroke-width="0.35"/><circle cx="407.0" cy="728.8" r="0.70" fill="#f0a0a0"/>
<path d="M339.0 730.8 L346.0 719.8 L353.0 730.8 Z" fill="#a0a0a0"/>
<path d="M339.0 728.8 L342.2 723.6 L346.0 718.3 L349.8 723.6 L353.0 728.8" stroke="#a82222" stroke-width="0.7" fill="none"/>
<circle cx="339.0" cy="728.8" r="2.0" fill="#d63a30" stroke="#9a1c1c" stroke-width="0.35"/><circle cx="339.0" cy="728.8" r="0.70" fill="#f0a0a0"/>
<circle cx="342.2" cy="723.6" r="2.0" fill="#d63a30" stroke="#9a1c1c" stroke-width="0.35"/><circle cx="342.2" cy="723.6" r="0.70" fill="#f0a0a0"/>
<circle cx="346.0" cy="718.3" r="2.0" fill="#d63a30" stroke="#9a1c1c" stroke-width="0.35"/><circle cx="346.0" cy="718.3" r="0.70" fill="#f0a0a0"/>
<circle cx="349.8" cy="723.6" r="2.0" fill="#d63a30" stroke="#9a1c1c" stroke-width="0.35"/><circle cx="349.8" cy="723.6" r="0.70" fill="#f0a0a0"/>
<circle cx="353.0" cy="728.8" r="2.0" fill="#d63a30" stroke="#9a1c1c" stroke-width="0.35"/><circle cx="353.0" cy="728.8" r="0.70" fill="#f0a0a0"/>
<path d="M367.4 730.8 L374.4 719.8 L381.4 730.8 Z" fill="#a0a0a0"/>
<path d="M367.4 728.8 L370.6 723.6 L374.4 718.3 L378.2 723.6 L381.4 728.8" stroke="#a82222" stroke-width="0.7" fill="none"/>
<circle cx="367.4" cy="728.8" r="2.0" fill="#d63a30" stroke="#9a1c1c" stroke-width="0.35"/><circle cx="367.4" cy="728.8" r="0.70" fill="#f0a0a0"/>
<circle cx="370.6" cy="723.6" r="2.0" fill="#d63a30" stroke="#9a1c1c" stroke-width="0.35"/><circle cx="370.6" cy="723.6" r="0.70" fill="#f0a0a0"/>
<circle cx="374.4" cy="718.3" r="2.0" fill="#d63a30" stroke="#9a1c1c" stroke-width="0.35"/><circle cx="374.4" cy="718.3" r="0.70" fill="#f0a0a0"/>
<circle cx="378.2" cy="723.6" r="2.0" fill="#d63a30" stroke="#9a1c1c" stroke-width="0.35"/><circle cx="378.2" cy="723.6" r="0.70" fill="#f0a0a0"/>
<circle cx="381.4" cy="728.8" r="2.0" fill="#d63a30" stroke="#9a1c1c" stroke-width="0.35"/><circle cx="381.4" cy="728.8" r="0.70" fill="#f0a0a0"/>
<path d="M331.0 689.6 L338.5 691.5 L346.0 691.8" stroke="#a82222" stroke-width="0.7" fill="none"/>
<circle cx="331.0" cy="689.6" r="2.0" fill="#d63a30" stroke="#9a1c1c" stroke-width="0.35"/><circle cx="331.0" cy="689.6" r="0.70" fill="#f0a0a0"/>
<circle cx="338.5" cy="691.5" r="2.0" fill="#d63a30" stroke="#9a1c1c" stroke-width="0.35"/><circle cx="338.5" cy="691.5" r="0.70" fill="#f0a0a0"/>
<circle cx="346.0" cy="691.8" r="2.0" fill="#d63a30" stroke="#9a1c1c" stroke-width="0.35"/><circle cx="346.0" cy="691.8" r="0.70" fill="#f0a0a0"/>
<path d="M360.7 692.5 L368.0 690.5 L375.5 689.1" stroke="#a82222" stroke-width="0.7" fill="none"/>
<circle cx="360.7" cy="692.5" r="2.0" fill="#d63a30" stroke="#9a1c1c" stroke-width="0.35"/><circle cx="360.7" cy="692.5" r="0.70" fill="#f0a0a0"/>
<circle cx="368.0" cy="690.5" r="2.0" fill="#d63a30" stroke="#9a1c1c" stroke-width="0.35"/><circle cx="368.0" cy="690.5" r="0.70" fill="#f0a0a0"/>
<circle cx="375.5" cy="689.1" r="2.0" fill="#d63a30" stroke="#9a1c1c" stroke-width="0.35"/><circle cx="375.5" cy="689.1" r="0.70" fill="#f0a0a0"/>
<circle cx="359.5" cy="712.0" r="2.1" fill="#b4b6bc" stroke="#8a8c92" stroke-width="0.3"/><circle cx="358.9" cy="711.4" r="0.84" fill="#e8e8ec"/>
<text x="330" y="704.2" font-size="4.9" text-anchor="start" font-weight="bold" fill="#c0282a" stroke="#c0282a" stroke-width="0.15" >Electrostatic</text>
<text x="330" y="709.2" font-size="4.9" text-anchor="start" font-weight="bold" fill="#c0282a" stroke="#c0282a" stroke-width="0.15" >repulsion</text>
<circle cx="346" cy="713" r="2.5" fill="#d8e8f8" stroke="#2a6ec0" stroke-width="0.6"/>
<circle cx="367.5" cy="709.6" r="2.3" fill="#fff" stroke="#1a1a1a" stroke-width="0.45"/>
<text x="367.5" y="711.2" font-size="3.6" text-anchor="middle" font-weight="bold" fill="#1a1a1a" stroke="#1a1a1a" stroke-width="0.05" >5</text>
<text x="370.5" y="711.2" font-size="4.8" text-anchor="start" font-weight="bold" fill="#1a1a1a" stroke="#1a1a1a" stroke-width="0.15" >Uniform/compact</text>
<text x="371" y="717" font-size="4.8" text-anchor="start" font-weight="bold" fill="#1a1a1a" stroke="#1a1a1a" stroke-width="0.15" >deposition</text>
<text x="369.8" y="686.5" font-size="5.6" text-anchor="middle" font-weight="bold" fill="#2a6ec0" stroke="#2a6ec0" stroke-width="0.15" >Zn/electrolyte Interface</text>
<path d="M119.2 705.5 L122.7 705.5 L122.7 702.5 L126.2 713.0 L122.7 723.5 L122.7 720.5 L119.2 720.5 Z" fill="#3c7ab8"/>
<path d="M217.8 700.5 L221.3 700.5 L221.3 697.5 L224.8 708.0 L221.3 718.5 L221.3 715.5 L217.8 715.5 Z" fill="#3c7ab8"/>
<path d="M315.2 699.5 L318.7 699.5 L318.7 696.5 L322.2 707.0 L318.7 717.5 L318.7 714.5 L315.2 714.5 Z" fill="#3c7ab8"/>
</g>
</svg></body></html>
